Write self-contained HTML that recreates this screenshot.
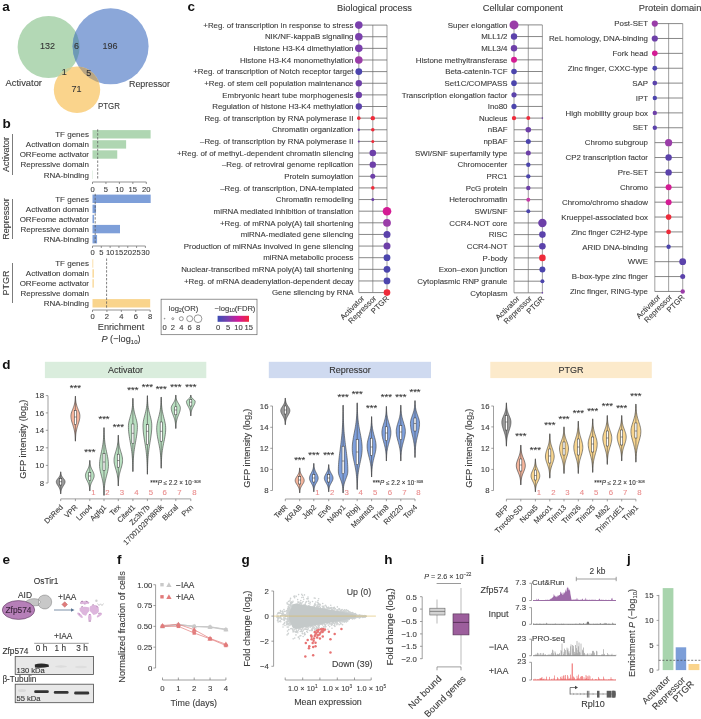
<!DOCTYPE html>
<html><head><meta charset="utf-8"><style>html,body{margin:0;padding:0;background:#fff;}svg{display:block;will-change:transform;} text[fill="#3a3a3a"]{stroke:#3a3a3a;stroke-width:0.1px;} text[fill="#333"]{stroke:#333;stroke-width:0.1px;}</style></head>
<body><svg width="701" height="719" viewBox="0 0 701 719" font-family='"Liberation Sans", sans-serif'>
<rect width="701" height="719" fill="#fff"/>
<text x="2.2" y="10.9" font-size="13.5" text-anchor="start" fill="#111" font-weight="bold">a</text>
<g>
<circle cx="48.6" cy="47" r="31" fill="#b3d8b5" stroke="none" stroke-width="0"/>
<circle cx="110.6" cy="46.3" r="38" fill="#8ba7d9" stroke="none" stroke-width="0" fill-opacity="1"/>
<circle cx="77" cy="89.8" r="23.2" fill="#fad48c" stroke="none" stroke-width="0"/>
<defs><clipPath id="cg"><circle cx="48.6" cy="47" r="31"/></clipPath><clipPath id="cb"><circle cx="110.6" cy="46.3" r="38"/></clipPath></defs>
<circle cx="110.6" cy="46.3" r="38" fill="#6d9ab4" clip-path="url(#cg)"/>
<g clip-path="url(#cb)"><circle cx="77" cy="89.8" r="23.2" fill="#b9a683"/></g>
<g clip-path="url(#cg)"><circle cx="77" cy="89.8" r="23.2" fill="#c9cf9a"/></g>
</g>
<text x="47.5" y="48.6" font-size="9" text-anchor="middle" fill="#333" stroke="#333" stroke-width="0.1">132</text>
<text x="76.4" y="48.6" font-size="9" text-anchor="middle" fill="#333" stroke="#333" stroke-width="0.1">6</text>
<text x="110" y="48.6" font-size="9" text-anchor="middle" fill="#333" stroke="#333" stroke-width="0.1">196</text>
<text x="64.2" y="74.8" font-size="9" text-anchor="middle" fill="#333" stroke="#333" stroke-width="0.1">1</text>
<text x="88.7" y="76.2" font-size="9" text-anchor="middle" fill="#333" stroke="#333" stroke-width="0.1">5</text>
<text x="76.5" y="91.6" font-size="9" text-anchor="middle" fill="#333" stroke="#333" stroke-width="0.1">71</text>
<text x="5.5" y="86" font-size="9.2" text-anchor="start" fill="#3a3a3a" stroke="#3a3a3a" stroke-width="0.1" textLength="36.5" lengthAdjust="spacingAndGlyphs">Activator</text>
<text x="129" y="86.5" font-size="9" text-anchor="start" fill="#3a3a3a" stroke="#3a3a3a" stroke-width="0.1" textLength="41" lengthAdjust="spacingAndGlyphs">Repressor</text>
<text x="98" y="109" font-size="9" text-anchor="start" fill="#3a3a3a" stroke="#3a3a3a" stroke-width="0.1" textLength="22" lengthAdjust="spacingAndGlyphs">PTGR</text>
<text x="2.6" y="128.2" font-size="13.5" text-anchor="start" fill="#111" font-weight="bold">b</text>
<text x="89" y="137.1" font-size="8" text-anchor="end" fill="#3a3a3a" stroke="#3a3a3a" stroke-width="0.1">TF genes</text>
<rect x="92.5" y="130.1" width="58.1" height="8.4" fill="#afd6b2" stroke="none" stroke-width="0"/>
<text x="89" y="147.2" font-size="8" text-anchor="end" fill="#3a3a3a" stroke="#3a3a3a" stroke-width="0.1">Activation domain</text>
<rect x="92.5" y="140.2" width="33.62" height="8.4" fill="#afd6b2" stroke="none" stroke-width="0"/>
<text x="89" y="157.3" font-size="8" text-anchor="end" fill="#3a3a3a" stroke="#3a3a3a" stroke-width="0.1">ORFeome activator</text>
<rect x="92.5" y="150.3" width="24.75" height="8.4" fill="#afd6b2" stroke="none" stroke-width="0"/>
<text x="89" y="167.4" font-size="8" text-anchor="end" fill="#3a3a3a" stroke="#3a3a3a" stroke-width="0.1">Repressive domain</text>
<text x="89" y="177.5" font-size="8" text-anchor="end" fill="#3a3a3a" stroke="#3a3a3a" stroke-width="0.1">RNA-binding</text>
<rect x="92.5" y="170.5" width="0.32" height="8.4" fill="#afd6b2" stroke="none" stroke-width="0"/>
<line x1="97.7" y1="129.3" x2="97.7" y2="179.2" stroke="#555" stroke-width="0.75" stroke-dasharray="2.4,1.5"/>
<line x1="92.5" y1="182" x2="146.3" y2="182" stroke="#666" stroke-width="0.7"/>
<line x1="92.5" y1="182" x2="92.5" y2="184" stroke="#666" stroke-width="0.7"/>
<text x="92.5" y="191.5" font-size="7.6" text-anchor="middle" fill="#3a3a3a" stroke="#3a3a3a" stroke-width="0.1">0</text>
<line x1="105.95" y1="182" x2="105.95" y2="184" stroke="#666" stroke-width="0.7"/>
<text x="105.95" y="191.5" font-size="7.6" text-anchor="middle" fill="#3a3a3a" stroke="#3a3a3a" stroke-width="0.1">5</text>
<line x1="119.4" y1="182" x2="119.4" y2="184" stroke="#666" stroke-width="0.7"/>
<text x="119.4" y="191.5" font-size="7.6" text-anchor="middle" fill="#3a3a3a" stroke="#3a3a3a" stroke-width="0.1">10</text>
<line x1="132.85" y1="182" x2="132.85" y2="184" stroke="#666" stroke-width="0.7"/>
<text x="132.85" y="191.5" font-size="7.6" text-anchor="middle" fill="#3a3a3a" stroke="#3a3a3a" stroke-width="0.1">15</text>
<line x1="146.3" y1="182" x2="146.3" y2="184" stroke="#666" stroke-width="0.7"/>
<text x="146.3" y="191.5" font-size="7.6" text-anchor="middle" fill="#3a3a3a" stroke="#3a3a3a" stroke-width="0.1">20</text>
<line x1="12.5" y1="134" x2="12.5" y2="175" stroke="#444" stroke-width="0.7"/>
<text x="8.6" y="154.5" font-size="9" text-anchor="middle" fill="#3a3a3a" stroke="#3a3a3a" stroke-width="0.1" transform="rotate(-90 8.6 154.5)">Activator</text>
<text x="89" y="201.6" font-size="8" text-anchor="end" fill="#3a3a3a" stroke="#3a3a3a" stroke-width="0.1">TF genes</text>
<rect x="92.5" y="194.6" width="58.18" height="8.4" fill="#7e9fd9" stroke="none" stroke-width="0"/>
<text x="89" y="211.7" font-size="8" text-anchor="end" fill="#3a3a3a" stroke="#3a3a3a" stroke-width="0.1">Activation domain</text>
<rect x="92.5" y="204.7" width="3.53" height="8.4" fill="#7e9fd9" stroke="none" stroke-width="0"/>
<text x="89" y="221.8" font-size="8" text-anchor="end" fill="#3a3a3a" stroke="#3a3a3a" stroke-width="0.1">ORFeome activator</text>
<rect x="92.5" y="214.8" width="1.59" height="8.4" fill="#7e9fd9" stroke="none" stroke-width="0"/>
<text x="89" y="231.9" font-size="8" text-anchor="end" fill="#3a3a3a" stroke="#3a3a3a" stroke-width="0.1">Repressive domain</text>
<rect x="92.5" y="224.9" width="27.5" height="8.4" fill="#7e9fd9" stroke="none" stroke-width="0"/>
<text x="89" y="242" font-size="8" text-anchor="end" fill="#3a3a3a" stroke="#3a3a3a" stroke-width="0.1">RNA-binding</text>
<rect x="92.5" y="235" width="4.58" height="8.4" fill="#7e9fd9" stroke="none" stroke-width="0"/>
<line x1="95.2" y1="193.8" x2="95.2" y2="243.7" stroke="#555" stroke-width="0.75" stroke-dasharray="2.4,1.5"/>
<line x1="92.5" y1="246" x2="145.39" y2="246" stroke="#666" stroke-width="0.7"/>
<line x1="92.5" y1="246" x2="92.5" y2="248" stroke="#666" stroke-width="0.7"/>
<text x="92.5" y="255" font-size="7.6" text-anchor="middle" fill="#3a3a3a" stroke="#3a3a3a" stroke-width="0.1">0</text>
<line x1="101.31" y1="246" x2="101.31" y2="248" stroke="#666" stroke-width="0.7"/>
<text x="101.31" y="255" font-size="7.6" text-anchor="middle" fill="#3a3a3a" stroke="#3a3a3a" stroke-width="0.1">5</text>
<line x1="110.13" y1="246" x2="110.13" y2="248" stroke="#666" stroke-width="0.7"/>
<text x="110.13" y="255" font-size="7.6" text-anchor="middle" fill="#3a3a3a" stroke="#3a3a3a" stroke-width="0.1">10</text>
<line x1="118.94" y1="246" x2="118.94" y2="248" stroke="#666" stroke-width="0.7"/>
<text x="118.94" y="255" font-size="7.6" text-anchor="middle" fill="#3a3a3a" stroke="#3a3a3a" stroke-width="0.1">15</text>
<line x1="127.76" y1="246" x2="127.76" y2="248" stroke="#666" stroke-width="0.7"/>
<text x="127.76" y="255" font-size="7.6" text-anchor="middle" fill="#3a3a3a" stroke="#3a3a3a" stroke-width="0.1">20</text>
<line x1="136.57" y1="246" x2="136.57" y2="248" stroke="#666" stroke-width="0.7"/>
<text x="136.57" y="255" font-size="7.6" text-anchor="middle" fill="#3a3a3a" stroke="#3a3a3a" stroke-width="0.1">25</text>
<line x1="145.39" y1="246" x2="145.39" y2="248" stroke="#666" stroke-width="0.7"/>
<text x="145.39" y="255" font-size="7.6" text-anchor="middle" fill="#3a3a3a" stroke="#3a3a3a" stroke-width="0.1">30</text>
<line x1="12.5" y1="199" x2="12.5" y2="239" stroke="#444" stroke-width="0.7"/>
<text x="8.6" y="219" font-size="9" text-anchor="middle" fill="#3a3a3a" stroke="#3a3a3a" stroke-width="0.1" transform="rotate(-90 8.6 219)">Repressor</text>
<text x="89" y="266.3" font-size="8" text-anchor="end" fill="#3a3a3a" stroke="#3a3a3a" stroke-width="0.1">TF genes</text>
<rect x="92.5" y="259.3" width="0.72" height="8.4" fill="#f9d48c" stroke="none" stroke-width="0"/>
<text x="89" y="276.25" font-size="8" text-anchor="end" fill="#3a3a3a" stroke="#3a3a3a" stroke-width="0.1">Activation domain</text>
<rect x="92.5" y="269.25" width="1.3" height="8.4" fill="#f9d48c" stroke="none" stroke-width="0"/>
<text x="89" y="286.2" font-size="8" text-anchor="end" fill="#3a3a3a" stroke="#3a3a3a" stroke-width="0.1">ORFeome activator</text>
<rect x="92.5" y="279.2" width="1.23" height="8.4" fill="#f9d48c" stroke="none" stroke-width="0"/>
<text x="89" y="296.15" font-size="8" text-anchor="end" fill="#3a3a3a" stroke="#3a3a3a" stroke-width="0.1">Repressive domain</text>
<text x="89" y="306.1" font-size="8" text-anchor="end" fill="#3a3a3a" stroke="#3a3a3a" stroke-width="0.1">RNA-binding</text>
<rect x="92.5" y="299.1" width="57.68" height="8.4" fill="#f9d48c" stroke="none" stroke-width="0"/>
<line x1="106.6" y1="258.5" x2="106.6" y2="307.8" stroke="#555" stroke-width="0.75" stroke-dasharray="2.4,1.5"/>
<line x1="92.5" y1="310" x2="150.18" y2="310" stroke="#666" stroke-width="0.7"/>
<line x1="92.5" y1="310" x2="92.5" y2="312" stroke="#666" stroke-width="0.7"/>
<text x="92.5" y="319" font-size="7.6" text-anchor="middle" fill="#3a3a3a" stroke="#3a3a3a" stroke-width="0.1">0</text>
<line x1="106.92" y1="310" x2="106.92" y2="312" stroke="#666" stroke-width="0.7"/>
<text x="106.92" y="319" font-size="7.6" text-anchor="middle" fill="#3a3a3a" stroke="#3a3a3a" stroke-width="0.1">2</text>
<line x1="121.34" y1="310" x2="121.34" y2="312" stroke="#666" stroke-width="0.7"/>
<text x="121.34" y="319" font-size="7.6" text-anchor="middle" fill="#3a3a3a" stroke="#3a3a3a" stroke-width="0.1">4</text>
<line x1="135.76" y1="310" x2="135.76" y2="312" stroke="#666" stroke-width="0.7"/>
<text x="135.76" y="319" font-size="7.6" text-anchor="middle" fill="#3a3a3a" stroke="#3a3a3a" stroke-width="0.1">6</text>
<line x1="150.18" y1="310" x2="150.18" y2="312" stroke="#666" stroke-width="0.7"/>
<text x="150.18" y="319" font-size="7.6" text-anchor="middle" fill="#3a3a3a" stroke="#3a3a3a" stroke-width="0.1">8</text>
<line x1="12.5" y1="263" x2="12.5" y2="303" stroke="#444" stroke-width="0.7"/>
<text x="8.6" y="283" font-size="9" text-anchor="middle" fill="#3a3a3a" stroke="#3a3a3a" stroke-width="0.1" transform="rotate(-90 8.6 283)">PTGR</text>
<text x="121" y="330.3" font-size="9.2" text-anchor="middle" fill="#3a3a3a" stroke="#3a3a3a" stroke-width="0.1">Enrichment</text>
<text x="121" y="341.8" font-size="9.2" text-anchor="middle" fill="#3a3a3a"><tspan font-style="italic">P</tspan> (−log<tspan font-size="6" dy="2">10</tspan><tspan dy="-2">)</tspan></text>
<text x="187.6" y="11.1" font-size="13.5" text-anchor="start" fill="#111" font-weight="bold">c</text>
<text x="337" y="10.8" font-size="9.3" text-anchor="start" fill="#3a3a3a" stroke="#3a3a3a" stroke-width="0.1">Biological process</text>
<line x1="358.8" y1="25.1" x2="358.8" y2="292.59" stroke="#a8a8a8" stroke-width="1.1"/>
<line x1="372.8" y1="25.1" x2="372.8" y2="292.59" stroke="#a8a8a8" stroke-width="1.1"/>
<line x1="387" y1="25.1" x2="387" y2="292.59" stroke="#a8a8a8" stroke-width="1.1"/>
<line x1="358.8" y1="25.1" x2="387" y2="25.1" stroke="#6a6a6a" stroke-width="0.8"/>
<text x="353.5" y="27.8" font-size="7.9" text-anchor="end" fill="#3a3a3a" stroke="#3a3a3a" stroke-width="0.1">+Reg. of transcription  in response to stress</text>
<line x1="358.8" y1="36.73" x2="387" y2="36.73" stroke="#6a6a6a" stroke-width="0.8"/>
<text x="353.5" y="39.43" font-size="7.9" text-anchor="end" fill="#3a3a3a" stroke="#3a3a3a" stroke-width="0.1">NIK/NF-kappaB signaling</text>
<line x1="358.8" y1="48.36" x2="387" y2="48.36" stroke="#6a6a6a" stroke-width="0.8"/>
<text x="353.5" y="51.06" font-size="7.9" text-anchor="end" fill="#3a3a3a" stroke="#3a3a3a" stroke-width="0.1">Histone H3-K4 dimethylation</text>
<line x1="358.8" y1="59.99" x2="387" y2="59.99" stroke="#6a6a6a" stroke-width="0.8"/>
<text x="353.5" y="62.69" font-size="7.9" text-anchor="end" fill="#3a3a3a" stroke="#3a3a3a" stroke-width="0.1">Histone H3-K4 monomethylation</text>
<line x1="358.8" y1="71.62" x2="387" y2="71.62" stroke="#6a6a6a" stroke-width="0.8"/>
<text x="353.5" y="74.32" font-size="7.9" text-anchor="end" fill="#3a3a3a" stroke="#3a3a3a" stroke-width="0.1">+Reg. of transcription of Notch receptor target</text>
<line x1="358.8" y1="83.25" x2="387" y2="83.25" stroke="#6a6a6a" stroke-width="0.8"/>
<text x="353.5" y="85.95" font-size="7.9" text-anchor="end" fill="#3a3a3a" stroke="#3a3a3a" stroke-width="0.1">+Reg. of stem cell population maintenance</text>
<line x1="358.8" y1="94.88" x2="387" y2="94.88" stroke="#6a6a6a" stroke-width="0.8"/>
<text x="353.5" y="97.58" font-size="7.9" text-anchor="end" fill="#3a3a3a" stroke="#3a3a3a" stroke-width="0.1">Embryonic heart tube morphogenesis</text>
<line x1="358.8" y1="106.51" x2="387" y2="106.51" stroke="#6a6a6a" stroke-width="0.8"/>
<text x="353.5" y="109.21" font-size="7.9" text-anchor="end" fill="#3a3a3a" stroke="#3a3a3a" stroke-width="0.1">Regulation of histone H3-K4 methylation</text>
<line x1="358.8" y1="118.14" x2="387" y2="118.14" stroke="#6a6a6a" stroke-width="0.8"/>
<text x="353.5" y="120.84" font-size="7.9" text-anchor="end" fill="#3a3a3a" stroke="#3a3a3a" stroke-width="0.1">Reg. of transcription by RNA polymerase II</text>
<line x1="358.8" y1="129.77" x2="387" y2="129.77" stroke="#6a6a6a" stroke-width="0.8"/>
<text x="353.5" y="132.47" font-size="7.9" text-anchor="end" fill="#3a3a3a" stroke="#3a3a3a" stroke-width="0.1">Chromatin organization</text>
<line x1="358.8" y1="141.4" x2="387" y2="141.4" stroke="#6a6a6a" stroke-width="0.8"/>
<text x="353.5" y="144.1" font-size="7.9" text-anchor="end" fill="#3a3a3a" stroke="#3a3a3a" stroke-width="0.1">–Reg. of transcription by RNA polymerase II</text>
<line x1="358.8" y1="153.03" x2="387" y2="153.03" stroke="#6a6a6a" stroke-width="0.8"/>
<text x="353.5" y="155.73" font-size="7.9" text-anchor="end" fill="#3a3a3a" stroke="#3a3a3a" stroke-width="0.1">+Reg. of of methyL-dependent chromatin silencing</text>
<line x1="358.8" y1="164.66" x2="387" y2="164.66" stroke="#6a6a6a" stroke-width="0.8"/>
<text x="353.5" y="167.36" font-size="7.9" text-anchor="end" fill="#3a3a3a" stroke="#3a3a3a" stroke-width="0.1">–Reg. of retroviral genome replication</text>
<line x1="358.8" y1="176.29" x2="387" y2="176.29" stroke="#6a6a6a" stroke-width="0.8"/>
<text x="353.5" y="178.99" font-size="7.9" text-anchor="end" fill="#3a3a3a" stroke="#3a3a3a" stroke-width="0.1">Protein sumoylation</text>
<line x1="358.8" y1="187.92" x2="387" y2="187.92" stroke="#6a6a6a" stroke-width="0.8"/>
<text x="353.5" y="190.62" font-size="7.9" text-anchor="end" fill="#3a3a3a" stroke="#3a3a3a" stroke-width="0.1">–Reg. of transcription, DNA-templated</text>
<line x1="358.8" y1="199.55" x2="387" y2="199.55" stroke="#6a6a6a" stroke-width="0.8"/>
<text x="353.5" y="202.25" font-size="7.9" text-anchor="end" fill="#3a3a3a" stroke="#3a3a3a" stroke-width="0.1">Chromatin remodeling</text>
<line x1="358.8" y1="211.18" x2="387" y2="211.18" stroke="#6a6a6a" stroke-width="0.8"/>
<text x="353.5" y="213.88" font-size="7.9" text-anchor="end" fill="#3a3a3a" stroke="#3a3a3a" stroke-width="0.1">miRNA mediated inhibition of translation</text>
<line x1="358.8" y1="222.81" x2="387" y2="222.81" stroke="#6a6a6a" stroke-width="0.8"/>
<text x="353.5" y="225.51" font-size="7.9" text-anchor="end" fill="#3a3a3a" stroke="#3a3a3a" stroke-width="0.1">+Reg. of mRNA poly(A) tail shortening</text>
<line x1="358.8" y1="234.44" x2="387" y2="234.44" stroke="#6a6a6a" stroke-width="0.8"/>
<text x="353.5" y="237.14" font-size="7.9" text-anchor="end" fill="#3a3a3a" stroke="#3a3a3a" stroke-width="0.1">miRNA-mediated gene silencing</text>
<line x1="358.8" y1="246.07" x2="387" y2="246.07" stroke="#6a6a6a" stroke-width="0.8"/>
<text x="353.5" y="248.77" font-size="7.9" text-anchor="end" fill="#3a3a3a" stroke="#3a3a3a" stroke-width="0.1">Production of miRNAs involved in gene silencing</text>
<line x1="358.8" y1="257.7" x2="387" y2="257.7" stroke="#6a6a6a" stroke-width="0.8"/>
<text x="353.5" y="260.4" font-size="7.9" text-anchor="end" fill="#3a3a3a" stroke="#3a3a3a" stroke-width="0.1">miRNA metabolic process</text>
<line x1="358.8" y1="269.33" x2="387" y2="269.33" stroke="#6a6a6a" stroke-width="0.8"/>
<text x="353.5" y="272.03" font-size="7.9" text-anchor="end" fill="#3a3a3a" stroke="#3a3a3a" stroke-width="0.1">Nuclear-transcribed mRNA poly(A) tail shortening</text>
<line x1="358.8" y1="280.96" x2="387" y2="280.96" stroke="#6a6a6a" stroke-width="0.8"/>
<text x="353.5" y="283.66" font-size="7.9" text-anchor="end" fill="#3a3a3a" stroke="#3a3a3a" stroke-width="0.1">+Reg. of mRNA deadenylation-dependent decay</text>
<line x1="358.8" y1="292.59" x2="387" y2="292.59" stroke="#6a6a6a" stroke-width="0.8"/>
<text x="353.5" y="295.29" font-size="7.9" text-anchor="end" fill="#3a3a3a" stroke="#3a3a3a" stroke-width="0.1">Gene silencing by RNA</text>
<circle cx="358.8" cy="25.1" r="3.8" fill="#7a40ad" stroke="none" stroke-width="0"/>
<circle cx="358.8" cy="36.73" r="3.8" fill="#7a40ad" stroke="none" stroke-width="0"/>
<circle cx="358.8" cy="48.36" r="3.8" fill="#7a40ad" stroke="none" stroke-width="0"/>
<circle cx="358.8" cy="59.99" r="3.8" fill="#9a3da8" stroke="none" stroke-width="0"/>
<circle cx="358.8" cy="71.62" r="3.4" fill="#4c45ad" stroke="none" stroke-width="0"/>
<circle cx="358.8" cy="83.25" r="3.2" fill="#6d3fa8" stroke="none" stroke-width="0"/>
<circle cx="358.8" cy="94.88" r="3.2" fill="#6d3fa8" stroke="none" stroke-width="0"/>
<circle cx="358.8" cy="106.51" r="3.2" fill="#5b42ab" stroke="none" stroke-width="0"/>
<circle cx="358.8" cy="118.14" r="1.8" fill="#ee2b3a" stroke="none" stroke-width="0"/>
<circle cx="372.8" cy="118.14" r="2.2" fill="#ee2b3a" stroke="none" stroke-width="0"/>
<circle cx="358.8" cy="129.77" r="1.2" fill="#6d3fa8" stroke="none" stroke-width="0"/>
<circle cx="372.8" cy="129.77" r="1.8" fill="#ee2b3a" stroke="none" stroke-width="0"/>
<circle cx="358.8" cy="141.4" r="1" fill="#6d3fa8" stroke="none" stroke-width="0"/>
<circle cx="372.8" cy="141.4" r="1.5" fill="#ee2b3a" stroke="none" stroke-width="0"/>
<circle cx="372.8" cy="153.03" r="3.3" fill="#6d3fa8" stroke="none" stroke-width="0"/>
<circle cx="372.8" cy="164.66" r="3.2" fill="#6d3fa8" stroke="none" stroke-width="0"/>
<circle cx="372.8" cy="176.29" r="2.5" fill="#6d3fa8" stroke="none" stroke-width="0"/>
<circle cx="372.8" cy="187.92" r="1.8" fill="#ee2b3a" stroke="none" stroke-width="0"/>
<circle cx="372.8" cy="199.55" r="1.5" fill="#6d3fa8" stroke="none" stroke-width="0"/>
<circle cx="387" cy="211.18" r="4.3" fill="#d41c94" stroke="none" stroke-width="0"/>
<circle cx="387" cy="222.81" r="3.9" fill="#9a3da8" stroke="none" stroke-width="0"/>
<circle cx="387" cy="234.44" r="3.5" fill="#5b42ab" stroke="none" stroke-width="0"/>
<circle cx="387" cy="246.07" r="3.5" fill="#6d3fa8" stroke="none" stroke-width="0"/>
<circle cx="387" cy="257.7" r="3.4" fill="#4c45ad" stroke="none" stroke-width="0"/>
<circle cx="387" cy="269.33" r="3.4" fill="#4c45ad" stroke="none" stroke-width="0"/>
<circle cx="387" cy="280.96" r="3.4" fill="#4c45ad" stroke="none" stroke-width="0"/>
<circle cx="387" cy="292.59" r="3.3" fill="#ee2b3a" stroke="none" stroke-width="0"/>
<text x="364.8" y="298.89" font-size="7.8" text-anchor="end" fill="#3a3a3a" stroke="#3a3a3a" stroke-width="0.1" transform="rotate(-45 364.8 298.89)">Activator</text>
<text x="376.8" y="298.89" font-size="7.8" text-anchor="end" fill="#3a3a3a" stroke="#3a3a3a" stroke-width="0.1" transform="rotate(-45 376.8 298.89)">Repressor</text>
<text x="389.4" y="298.89" font-size="7.8" text-anchor="end" fill="#3a3a3a" stroke="#3a3a3a" stroke-width="0.1" transform="rotate(-45 389.4 298.89)">PTGR</text>
<text x="482.7" y="10.8" font-size="9.3" text-anchor="start" fill="#3a3a3a" stroke="#3a3a3a" stroke-width="0.1">Cellular component</text>
<line x1="514" y1="24.9" x2="514" y2="292.85" stroke="#a8a8a8" stroke-width="1.1"/>
<line x1="528.3" y1="24.9" x2="528.3" y2="292.85" stroke="#a8a8a8" stroke-width="1.1"/>
<line x1="542.4" y1="24.9" x2="542.4" y2="292.85" stroke="#a8a8a8" stroke-width="1.1"/>
<line x1="514" y1="24.9" x2="542.4" y2="24.9" stroke="#6a6a6a" stroke-width="0.8"/>
<text x="507.5" y="27.6" font-size="7.9" text-anchor="end" fill="#3a3a3a" stroke="#3a3a3a" stroke-width="0.1">Super elongation</text>
<line x1="514" y1="36.55" x2="542.4" y2="36.55" stroke="#6a6a6a" stroke-width="0.8"/>
<text x="507.5" y="39.25" font-size="7.9" text-anchor="end" fill="#3a3a3a" stroke="#3a3a3a" stroke-width="0.1">MLL1/2</text>
<line x1="514" y1="48.2" x2="542.4" y2="48.2" stroke="#6a6a6a" stroke-width="0.8"/>
<text x="507.5" y="50.9" font-size="7.9" text-anchor="end" fill="#3a3a3a" stroke="#3a3a3a" stroke-width="0.1">MLL3/4</text>
<line x1="514" y1="59.85" x2="542.4" y2="59.85" stroke="#6a6a6a" stroke-width="0.8"/>
<text x="507.5" y="62.55" font-size="7.9" text-anchor="end" fill="#3a3a3a" stroke="#3a3a3a" stroke-width="0.1">Histone methyltransferase</text>
<line x1="514" y1="71.5" x2="542.4" y2="71.5" stroke="#6a6a6a" stroke-width="0.8"/>
<text x="507.5" y="74.2" font-size="7.9" text-anchor="end" fill="#3a3a3a" stroke="#3a3a3a" stroke-width="0.1">Beta-catenin-TCF</text>
<line x1="514" y1="83.15" x2="542.4" y2="83.15" stroke="#6a6a6a" stroke-width="0.8"/>
<text x="507.5" y="85.85" font-size="7.9" text-anchor="end" fill="#3a3a3a" stroke="#3a3a3a" stroke-width="0.1">Set1C/COMPASS</text>
<line x1="514" y1="94.8" x2="542.4" y2="94.8" stroke="#6a6a6a" stroke-width="0.8"/>
<text x="507.5" y="97.5" font-size="7.9" text-anchor="end" fill="#3a3a3a" stroke="#3a3a3a" stroke-width="0.1">Transcription elongation factor</text>
<line x1="514" y1="106.45" x2="542.4" y2="106.45" stroke="#6a6a6a" stroke-width="0.8"/>
<text x="507.5" y="109.15" font-size="7.9" text-anchor="end" fill="#3a3a3a" stroke="#3a3a3a" stroke-width="0.1">Ino80</text>
<line x1="514" y1="118.1" x2="542.4" y2="118.1" stroke="#6a6a6a" stroke-width="0.8"/>
<text x="507.5" y="120.8" font-size="7.9" text-anchor="end" fill="#3a3a3a" stroke="#3a3a3a" stroke-width="0.1">Nucleus</text>
<line x1="514" y1="129.75" x2="542.4" y2="129.75" stroke="#6a6a6a" stroke-width="0.8"/>
<text x="507.5" y="132.45" font-size="7.9" text-anchor="end" fill="#3a3a3a" stroke="#3a3a3a" stroke-width="0.1">nBAF</text>
<line x1="514" y1="141.4" x2="542.4" y2="141.4" stroke="#6a6a6a" stroke-width="0.8"/>
<text x="507.5" y="144.1" font-size="7.9" text-anchor="end" fill="#3a3a3a" stroke="#3a3a3a" stroke-width="0.1">npBAF</text>
<line x1="514" y1="153.05" x2="542.4" y2="153.05" stroke="#6a6a6a" stroke-width="0.8"/>
<text x="507.5" y="155.75" font-size="7.9" text-anchor="end" fill="#3a3a3a" stroke="#3a3a3a" stroke-width="0.1">SWI/SNF superfamily type</text>
<line x1="514" y1="164.7" x2="542.4" y2="164.7" stroke="#6a6a6a" stroke-width="0.8"/>
<text x="507.5" y="167.4" font-size="7.9" text-anchor="end" fill="#3a3a3a" stroke="#3a3a3a" stroke-width="0.1">Chromocenter</text>
<line x1="514" y1="176.35" x2="542.4" y2="176.35" stroke="#6a6a6a" stroke-width="0.8"/>
<text x="507.5" y="179.05" font-size="7.9" text-anchor="end" fill="#3a3a3a" stroke="#3a3a3a" stroke-width="0.1">PRC1</text>
<line x1="514" y1="188" x2="542.4" y2="188" stroke="#6a6a6a" stroke-width="0.8"/>
<text x="507.5" y="190.7" font-size="7.9" text-anchor="end" fill="#3a3a3a" stroke="#3a3a3a" stroke-width="0.1">PcG protein</text>
<line x1="514" y1="199.65" x2="542.4" y2="199.65" stroke="#6a6a6a" stroke-width="0.8"/>
<text x="507.5" y="202.35" font-size="7.9" text-anchor="end" fill="#3a3a3a" stroke="#3a3a3a" stroke-width="0.1">Heterochromatin</text>
<line x1="514" y1="211.3" x2="542.4" y2="211.3" stroke="#6a6a6a" stroke-width="0.8"/>
<text x="507.5" y="214" font-size="7.9" text-anchor="end" fill="#3a3a3a" stroke="#3a3a3a" stroke-width="0.1">SWI/SNF</text>
<line x1="514" y1="222.95" x2="542.4" y2="222.95" stroke="#6a6a6a" stroke-width="0.8"/>
<text x="507.5" y="225.65" font-size="7.9" text-anchor="end" fill="#3a3a3a" stroke="#3a3a3a" stroke-width="0.1">CCR4-NOT core</text>
<line x1="514" y1="234.6" x2="542.4" y2="234.6" stroke="#6a6a6a" stroke-width="0.8"/>
<text x="507.5" y="237.3" font-size="7.9" text-anchor="end" fill="#3a3a3a" stroke="#3a3a3a" stroke-width="0.1">RISC</text>
<line x1="514" y1="246.25" x2="542.4" y2="246.25" stroke="#6a6a6a" stroke-width="0.8"/>
<text x="507.5" y="248.95" font-size="7.9" text-anchor="end" fill="#3a3a3a" stroke="#3a3a3a" stroke-width="0.1">CCR4-NOT</text>
<line x1="514" y1="257.9" x2="542.4" y2="257.9" stroke="#6a6a6a" stroke-width="0.8"/>
<text x="507.5" y="260.6" font-size="7.9" text-anchor="end" fill="#3a3a3a" stroke="#3a3a3a" stroke-width="0.1">P-body</text>
<line x1="514" y1="269.55" x2="542.4" y2="269.55" stroke="#6a6a6a" stroke-width="0.8"/>
<text x="507.5" y="272.25" font-size="7.9" text-anchor="end" fill="#3a3a3a" stroke="#3a3a3a" stroke-width="0.1">Exon–exon junction</text>
<line x1="514" y1="281.2" x2="542.4" y2="281.2" stroke="#6a6a6a" stroke-width="0.8"/>
<text x="507.5" y="283.9" font-size="7.9" text-anchor="end" fill="#3a3a3a" stroke="#3a3a3a" stroke-width="0.1">Cytoplasmic RNP granule</text>
<line x1="514" y1="292.85" x2="542.4" y2="292.85" stroke="#6a6a6a" stroke-width="0.8"/>
<text x="507.5" y="295.55" font-size="7.9" text-anchor="end" fill="#3a3a3a" stroke="#3a3a3a" stroke-width="0.1">Cytoplasm</text>
<circle cx="514" cy="24.9" r="4.5" fill="#9a3da8" stroke="none" stroke-width="0"/>
<circle cx="514" cy="36.55" r="3.2" fill="#5b42ab" stroke="none" stroke-width="0"/>
<circle cx="514" cy="48.2" r="3.2" fill="#6d3fa8" stroke="none" stroke-width="0"/>
<circle cx="514" cy="59.85" r="3" fill="#d41c94" stroke="none" stroke-width="0"/>
<circle cx="514" cy="71.5" r="2.8" fill="#4c45ad" stroke="none" stroke-width="0"/>
<circle cx="514" cy="83.15" r="2.8" fill="#4c45ad" stroke="none" stroke-width="0"/>
<circle cx="514" cy="94.8" r="2.6" fill="#5b42ab" stroke="none" stroke-width="0"/>
<circle cx="514" cy="106.45" r="2.6" fill="#4c45ad" stroke="none" stroke-width="0"/>
<circle cx="514" cy="118.1" r="2.2" fill="#ee2b3a" stroke="none" stroke-width="0"/>
<circle cx="528.3" cy="118.1" r="2" fill="#ee2b3a" stroke="none" stroke-width="0"/>
<circle cx="542.4" cy="118.1" r="0.8" fill="#6d3fa8" stroke="none" stroke-width="0"/>
<circle cx="528.3" cy="129.75" r="2.8" fill="#6d3fa8" stroke="none" stroke-width="0"/>
<circle cx="528.3" cy="141.4" r="2.5" fill="#4c45ad" stroke="none" stroke-width="0"/>
<circle cx="528.3" cy="153.05" r="2.5" fill="#6d3fa8" stroke="none" stroke-width="0"/>
<circle cx="528.3" cy="164.7" r="2.2" fill="#4c45ad" stroke="none" stroke-width="0"/>
<circle cx="528.3" cy="176.35" r="2.2" fill="#4c45ad" stroke="none" stroke-width="0"/>
<circle cx="528.3" cy="188" r="2.2" fill="#6d3fa8" stroke="none" stroke-width="0"/>
<circle cx="528.3" cy="199.65" r="2" fill="#c53aa6" stroke="none" stroke-width="0"/>
<circle cx="528.3" cy="211.3" r="2" fill="#4c45ad" stroke="none" stroke-width="0"/>
<circle cx="542.4" cy="222.95" r="4.2" fill="#6d3fa8" stroke="none" stroke-width="0"/>
<circle cx="542.4" cy="234.6" r="3.3" fill="#5b42ab" stroke="none" stroke-width="0"/>
<circle cx="542.4" cy="246.25" r="3.3" fill="#5b42ab" stroke="none" stroke-width="0"/>
<circle cx="542.4" cy="257.9" r="3.3" fill="#ee2b3a" stroke="none" stroke-width="0"/>
<circle cx="542.4" cy="269.55" r="3" fill="#4c45ad" stroke="none" stroke-width="0"/>
<circle cx="542.4" cy="281.2" r="2" fill="#4c45ad" stroke="none" stroke-width="0"/>
<circle cx="542.4" cy="292.85" r="0.8" fill="#6d3fa8" stroke="none" stroke-width="0"/>
<text x="520" y="299.15" font-size="7.8" text-anchor="end" fill="#3a3a3a" stroke="#3a3a3a" stroke-width="0.1" transform="rotate(-45 520 299.15)">Activator</text>
<text x="532.3" y="299.15" font-size="7.8" text-anchor="end" fill="#3a3a3a" stroke="#3a3a3a" stroke-width="0.1" transform="rotate(-45 532.3 299.15)">Repressor</text>
<text x="544.8" y="299.15" font-size="7.8" text-anchor="end" fill="#3a3a3a" stroke="#3a3a3a" stroke-width="0.1" transform="rotate(-45 544.8 299.15)">PTGR</text>
<text x="638.8" y="10.8" font-size="9.3" text-anchor="start" fill="#3a3a3a" stroke="#3a3a3a" stroke-width="0.1">Protein domain</text>
<line x1="654.8" y1="23.6" x2="654.8" y2="291.44" stroke="#a8a8a8" stroke-width="1.1"/>
<line x1="668.6" y1="23.6" x2="668.6" y2="291.44" stroke="#a8a8a8" stroke-width="1.1"/>
<line x1="682.7" y1="23.6" x2="682.7" y2="291.44" stroke="#a8a8a8" stroke-width="1.1"/>
<line x1="654.8" y1="23.6" x2="682.7" y2="23.6" stroke="#6a6a6a" stroke-width="0.8"/>
<text x="648" y="26.3" font-size="7.9" text-anchor="end" fill="#3a3a3a" stroke="#3a3a3a" stroke-width="0.1">Post-SET</text>
<line x1="654.8" y1="38.48" x2="682.7" y2="38.48" stroke="#6a6a6a" stroke-width="0.8"/>
<text x="648" y="41.18" font-size="7.9" text-anchor="end" fill="#3a3a3a" stroke="#3a3a3a" stroke-width="0.1">ReL homology, DNA-binding</text>
<line x1="654.8" y1="53.36" x2="682.7" y2="53.36" stroke="#6a6a6a" stroke-width="0.8"/>
<text x="648" y="56.06" font-size="7.9" text-anchor="end" fill="#3a3a3a" stroke="#3a3a3a" stroke-width="0.1">Fork head</text>
<line x1="654.8" y1="68.24" x2="682.7" y2="68.24" stroke="#6a6a6a" stroke-width="0.8"/>
<text x="648" y="70.94" font-size="7.9" text-anchor="end" fill="#3a3a3a" stroke="#3a3a3a" stroke-width="0.1">Zinc finger, CXXC-type</text>
<line x1="654.8" y1="83.12" x2="682.7" y2="83.12" stroke="#6a6a6a" stroke-width="0.8"/>
<text x="648" y="85.82" font-size="7.9" text-anchor="end" fill="#3a3a3a" stroke="#3a3a3a" stroke-width="0.1">SAP</text>
<line x1="654.8" y1="98" x2="682.7" y2="98" stroke="#6a6a6a" stroke-width="0.8"/>
<text x="648" y="100.7" font-size="7.9" text-anchor="end" fill="#3a3a3a" stroke="#3a3a3a" stroke-width="0.1">IPT</text>
<line x1="654.8" y1="112.88" x2="682.7" y2="112.88" stroke="#6a6a6a" stroke-width="0.8"/>
<text x="648" y="115.58" font-size="7.9" text-anchor="end" fill="#3a3a3a" stroke="#3a3a3a" stroke-width="0.1">High mobility group box</text>
<line x1="654.8" y1="127.76" x2="682.7" y2="127.76" stroke="#6a6a6a" stroke-width="0.8"/>
<text x="648" y="130.46" font-size="7.9" text-anchor="end" fill="#3a3a3a" stroke="#3a3a3a" stroke-width="0.1">SET</text>
<line x1="654.8" y1="142.64" x2="682.7" y2="142.64" stroke="#6a6a6a" stroke-width="0.8"/>
<text x="648" y="145.34" font-size="7.9" text-anchor="end" fill="#3a3a3a" stroke="#3a3a3a" stroke-width="0.1">Chromo subgroup</text>
<line x1="654.8" y1="157.52" x2="682.7" y2="157.52" stroke="#6a6a6a" stroke-width="0.8"/>
<text x="648" y="160.22" font-size="7.9" text-anchor="end" fill="#3a3a3a" stroke="#3a3a3a" stroke-width="0.1">CP2 transcription factor</text>
<line x1="654.8" y1="172.4" x2="682.7" y2="172.4" stroke="#6a6a6a" stroke-width="0.8"/>
<text x="648" y="175.1" font-size="7.9" text-anchor="end" fill="#3a3a3a" stroke="#3a3a3a" stroke-width="0.1">Pre-SET</text>
<line x1="654.8" y1="187.28" x2="682.7" y2="187.28" stroke="#6a6a6a" stroke-width="0.8"/>
<text x="648" y="189.98" font-size="7.9" text-anchor="end" fill="#3a3a3a" stroke="#3a3a3a" stroke-width="0.1">Chromo</text>
<line x1="654.8" y1="202.16" x2="682.7" y2="202.16" stroke="#6a6a6a" stroke-width="0.8"/>
<text x="648" y="204.86" font-size="7.9" text-anchor="end" fill="#3a3a3a" stroke="#3a3a3a" stroke-width="0.1">Chromo/chromo shadow</text>
<line x1="654.8" y1="217.04" x2="682.7" y2="217.04" stroke="#6a6a6a" stroke-width="0.8"/>
<text x="648" y="219.74" font-size="7.9" text-anchor="end" fill="#3a3a3a" stroke="#3a3a3a" stroke-width="0.1">Krueppel-associated box</text>
<line x1="654.8" y1="231.92" x2="682.7" y2="231.92" stroke="#6a6a6a" stroke-width="0.8"/>
<text x="648" y="234.62" font-size="7.9" text-anchor="end" fill="#3a3a3a" stroke="#3a3a3a" stroke-width="0.1">Zinc finger C2H2-type</text>
<line x1="654.8" y1="246.8" x2="682.7" y2="246.8" stroke="#6a6a6a" stroke-width="0.8"/>
<text x="648" y="249.5" font-size="7.9" text-anchor="end" fill="#3a3a3a" stroke="#3a3a3a" stroke-width="0.1">ARID DNA-binding</text>
<line x1="654.8" y1="261.68" x2="682.7" y2="261.68" stroke="#6a6a6a" stroke-width="0.8"/>
<text x="648" y="264.38" font-size="7.9" text-anchor="end" fill="#3a3a3a" stroke="#3a3a3a" stroke-width="0.1">WWE</text>
<line x1="654.8" y1="276.56" x2="682.7" y2="276.56" stroke="#6a6a6a" stroke-width="0.8"/>
<text x="648" y="279.26" font-size="7.9" text-anchor="end" fill="#3a3a3a" stroke="#3a3a3a" stroke-width="0.1">B-box-type zinc finger</text>
<line x1="654.8" y1="291.44" x2="682.7" y2="291.44" stroke="#6a6a6a" stroke-width="0.8"/>
<text x="648" y="294.14" font-size="7.9" text-anchor="end" fill="#3a3a3a" stroke="#3a3a3a" stroke-width="0.1">Zinc finger, RING-type</text>
<circle cx="654.8" cy="23.6" r="3.1" fill="#9a3da8" stroke="none" stroke-width="0"/>
<circle cx="654.8" cy="38.48" r="3.1" fill="#6d3fa8" stroke="none" stroke-width="0"/>
<circle cx="654.8" cy="53.36" r="2.8" fill="#d41c94" stroke="none" stroke-width="0"/>
<circle cx="654.8" cy="68.24" r="2.4" fill="#4c45ad" stroke="none" stroke-width="0"/>
<circle cx="654.8" cy="83.12" r="2.4" fill="#5b42ab" stroke="none" stroke-width="0"/>
<circle cx="654.8" cy="98" r="2.2" fill="#4c45ad" stroke="none" stroke-width="0"/>
<circle cx="654.8" cy="112.88" r="2.2" fill="#6d3fa8" stroke="none" stroke-width="0"/>
<circle cx="654.8" cy="127.76" r="2.2" fill="#5b42ab" stroke="none" stroke-width="0"/>
<circle cx="668.6" cy="142.64" r="3.6" fill="#9a3da8" stroke="none" stroke-width="0"/>
<circle cx="668.6" cy="157.52" r="3.2" fill="#5b42ab" stroke="none" stroke-width="0"/>
<circle cx="668.6" cy="172.4" r="3.2" fill="#5b42ab" stroke="none" stroke-width="0"/>
<circle cx="668.6" cy="187.28" r="3" fill="#d41c94" stroke="none" stroke-width="0"/>
<circle cx="668.6" cy="202.16" r="3" fill="#d41c94" stroke="none" stroke-width="0"/>
<circle cx="668.6" cy="217.04" r="2.8" fill="#ee2b3a" stroke="none" stroke-width="0"/>
<circle cx="668.6" cy="231.92" r="2.4" fill="#ee2b3a" stroke="none" stroke-width="0"/>
<circle cx="668.6" cy="246.8" r="2.2" fill="#4c45ad" stroke="none" stroke-width="0"/>
<circle cx="682.7" cy="261.68" r="3.4" fill="#5b42ab" stroke="none" stroke-width="0"/>
<circle cx="682.7" cy="276.56" r="2.5" fill="#5b42ab" stroke="none" stroke-width="0"/>
<circle cx="682.7" cy="291.44" r="2.2" fill="#9a3da8" stroke="none" stroke-width="0"/>
<text x="660.8" y="297.74" font-size="7.8" text-anchor="end" fill="#3a3a3a" stroke="#3a3a3a" stroke-width="0.1" transform="rotate(-45 660.8 297.74)">Activator</text>
<text x="672.6" y="297.74" font-size="7.8" text-anchor="end" fill="#3a3a3a" stroke="#3a3a3a" stroke-width="0.1" transform="rotate(-45 672.6 297.74)">Repressor</text>
<text x="685.1" y="297.74" font-size="7.8" text-anchor="end" fill="#3a3a3a" stroke="#3a3a3a" stroke-width="0.1" transform="rotate(-45 685.1 297.74)">PTGR</text>
<rect x="161.1" y="299.2" width="95.9" height="35.5" fill="white" stroke="#666" stroke-width="0.7"/>
<text x="183.5" y="310.7" font-size="7.6" text-anchor="middle" fill="#3a3a3a">log<tspan font-size="5" dy="1.5">2</tspan><tspan dy="-1.5">(OR)</tspan></text>
<circle cx="164.6" cy="318.7" r="0.4" fill="white" stroke="#555" stroke-width="0.6"/>
<text x="164.6" y="329.5" font-size="7.6" text-anchor="middle" fill="#3a3a3a" stroke="#3a3a3a" stroke-width="0.1">0</text>
<circle cx="172.8" cy="318.7" r="1" fill="white" stroke="#555" stroke-width="0.6"/>
<text x="172.8" y="329.5" font-size="7.6" text-anchor="middle" fill="#3a3a3a" stroke="#3a3a3a" stroke-width="0.1">2</text>
<circle cx="181.3" cy="318.7" r="2" fill="white" stroke="#555" stroke-width="0.6"/>
<text x="181.3" y="329.5" font-size="7.6" text-anchor="middle" fill="#3a3a3a" stroke="#3a3a3a" stroke-width="0.1">4</text>
<circle cx="189.7" cy="318.7" r="3" fill="white" stroke="#555" stroke-width="0.6"/>
<text x="189.7" y="329.5" font-size="7.6" text-anchor="middle" fill="#3a3a3a" stroke="#3a3a3a" stroke-width="0.1">6</text>
<circle cx="198" cy="318.7" r="3.9" fill="white" stroke="#555" stroke-width="0.6"/>
<text x="198" y="329.5" font-size="7.6" text-anchor="middle" fill="#3a3a3a" stroke="#3a3a3a" stroke-width="0.1">8</text>
<text x="235" y="310.7" font-size="7.6" text-anchor="middle" fill="#3a3a3a">−log<tspan font-size="5" dy="1.5">10</tspan><tspan dy="-1.5">(FDR)</tspan></text>
<defs><linearGradient id="fdr" x1="0" x2="1" y1="0" y2="0"><stop offset="0" stop-color="#3d4db4"/><stop offset="0.33" stop-color="#7a3fae"/><stop offset="0.66" stop-color="#d21a98"/><stop offset="1" stop-color="#f2273a"/></linearGradient></defs>
<rect x="217.6" y="315.8" width="31.4" height="6" fill="url(#fdr)" stroke="none" stroke-width="0"/>
<text x="218" y="329.5" font-size="7.6" text-anchor="middle" fill="#3a3a3a" stroke="#3a3a3a" stroke-width="0.1">0</text>
<text x="228" y="329.5" font-size="7.6" text-anchor="middle" fill="#3a3a3a" stroke="#3a3a3a" stroke-width="0.1">5</text>
<text x="238.5" y="329.5" font-size="7.6" text-anchor="middle" fill="#3a3a3a" stroke="#3a3a3a" stroke-width="0.1">10</text>
<text x="248.8" y="329.5" font-size="7.6" text-anchor="middle" fill="#3a3a3a" stroke="#3a3a3a" stroke-width="0.1">15</text>
<text x="2.2" y="368.7" font-size="13.5" text-anchor="start" fill="#111" font-weight="bold">d</text>
<rect x="44.9" y="361.8" width="161.4" height="16.3" fill="#daeddd" stroke="none" stroke-width="0"/>
<text x="125.6" y="373.3" font-size="9" text-anchor="middle" fill="#333" stroke="#333" stroke-width="0.1">Activator</text>
<line x1="48" y1="395.6" x2="48" y2="483" stroke="#777" stroke-width="0.7"/>
<line x1="45.8" y1="395.6" x2="48" y2="395.6" stroke="#777" stroke-width="0.7"/>
<text x="44" y="398.4" font-size="7.8" text-anchor="end" fill="#3a3a3a" stroke="#3a3a3a" stroke-width="0.1">18</text>
<line x1="45.8" y1="412.9" x2="48" y2="412.9" stroke="#777" stroke-width="0.7"/>
<text x="44" y="415.7" font-size="7.8" text-anchor="end" fill="#3a3a3a" stroke="#3a3a3a" stroke-width="0.1">16</text>
<line x1="45.8" y1="430.3" x2="48" y2="430.3" stroke="#777" stroke-width="0.7"/>
<text x="44" y="433.1" font-size="7.8" text-anchor="end" fill="#3a3a3a" stroke="#3a3a3a" stroke-width="0.1">14</text>
<line x1="45.8" y1="447.8" x2="48" y2="447.8" stroke="#777" stroke-width="0.7"/>
<text x="44" y="450.6" font-size="7.8" text-anchor="end" fill="#3a3a3a" stroke="#3a3a3a" stroke-width="0.1">12</text>
<line x1="45.8" y1="465.4" x2="48" y2="465.4" stroke="#777" stroke-width="0.7"/>
<text x="44" y="468.2" font-size="7.8" text-anchor="end" fill="#3a3a3a" stroke="#3a3a3a" stroke-width="0.1">10</text>
<line x1="45.8" y1="483" x2="48" y2="483" stroke="#777" stroke-width="0.7"/>
<text x="44" y="485.8" font-size="7.8" text-anchor="end" fill="#3a3a3a" stroke="#3a3a3a" stroke-width="0.1">8</text>
<text x="26" y="439.3" font-size="9.2" text-anchor="middle" fill="#3a3a3a" transform="rotate(-90 26 439.3)">GFP intensity (log<tspan font-size="5.6" dy="1.8">2</tspan><tspan dy="-1.8">)</tspan></text>
<path d="M60.75,471.8 L60.79,472.36 L60.84,472.91 L60.91,473.47 L61.01,474.02 L61.15,474.57 L61.33,475.13 L61.56,475.69 L61.84,476.24 L62.18,476.8 L62.57,477.35 L62.99,477.91 L63.42,478.46 L63.86,479.01 L64.26,479.57 L64.61,480.12 L64.87,480.68 L65.03,481.24 L65.07,481.79 L65.02,482.35 L64.89,482.9 L64.69,483.45 L64.44,484.01 L64.14,484.56 L63.81,485.12 L63.46,485.68 L63.1,486.23 L62.76,486.79 L62.43,487.34 L62.13,487.89 L61.86,488.45 L61.62,489 L61.42,489.56 L61.25,490.12 L61.12,490.67 L61.01,491.23 L60.93,491.78 L60.86,492.33 L60.81,492.89 L60.78,493.44 L60.75,494 L60.65,494 L60.62,493.44 L60.59,492.89 L60.54,492.33 L60.47,491.78 L60.39,491.23 L60.28,490.67 L60.15,490.12 L59.98,489.56 L59.78,489 L59.54,488.45 L59.27,487.89 L58.97,487.34 L58.64,486.79 L58.3,486.23 L57.94,485.68 L57.59,485.12 L57.26,484.56 L56.96,484.01 L56.71,483.45 L56.51,482.9 L56.38,482.35 L56.33,481.79 L56.37,481.24 L56.53,480.68 L56.79,480.12 L57.14,479.57 L57.54,479.01 L57.98,478.46 L58.41,477.91 L58.83,477.35 L59.22,476.8 L59.56,476.24 L59.84,475.69 L60.07,475.13 L60.25,474.57 L60.39,474.02 L60.49,473.47 L60.56,472.91 L60.61,472.36 L60.65,471.8Z" fill="#999999" stroke="#3d3d3d" stroke-width="0.6" stroke-linejoin="round"/>
<line x1="60.7" y1="472.3" x2="60.7" y2="493.5" stroke="#4a4a4a" stroke-width="0.6"/>
<rect x="59.65" y="478.5" width="2.1" height="6.5" fill="white" stroke="#333" stroke-width="0.5"/>
<line x1="59.65" y1="481.7" x2="61.75" y2="481.7" stroke="#333" stroke-width="0.5"/>
<path d="M75.45,396.1 L75.49,397.23 L75.54,398.36 L75.62,399.48 L75.72,400.61 L75.87,401.74 L76.06,402.87 L76.3,403.99 L76.6,405.12 L76.96,406.25 L77.37,407.38 L77.81,408.5 L78.26,409.63 L78.71,410.76 L79.13,411.88 L79.47,413.01 L79.73,414.14 L79.87,415.27 L79.9,416.39 L79.83,417.52 L79.69,418.65 L79.48,419.78 L79.21,420.91 L78.9,422.03 L78.55,423.16 L78.19,424.29 L77.83,425.42 L77.48,426.54 L77.15,427.67 L76.84,428.8 L76.57,429.93 L76.33,431.05 L76.13,432.18 L75.96,433.31 L75.82,434.44 L75.72,435.56 L75.63,436.69 L75.57,437.82 L75.52,438.94 L75.48,440.07 L75.45,441.2 L75.35,441.2 L75.32,440.07 L75.28,438.94 L75.23,437.82 L75.17,436.69 L75.08,435.56 L74.98,434.44 L74.84,433.31 L74.67,432.18 L74.47,431.05 L74.23,429.93 L73.96,428.8 L73.65,427.67 L73.32,426.54 L72.97,425.42 L72.61,424.29 L72.25,423.16 L71.9,422.03 L71.59,420.91 L71.32,419.78 L71.11,418.65 L70.97,417.52 L70.9,416.39 L70.93,415.27 L71.07,414.14 L71.33,413.01 L71.67,411.88 L72.09,410.76 L72.54,409.63 L72.99,408.5 L73.43,407.38 L73.84,406.25 L74.2,405.12 L74.5,403.99 L74.74,402.87 L74.93,401.74 L75.08,400.61 L75.18,399.48 L75.26,398.36 L75.31,397.23 L75.35,396.1Z" fill="#f5b59c" stroke="#3d3d3d" stroke-width="0.6" stroke-linejoin="round"/>
<line x1="75.4" y1="396.6" x2="75.4" y2="440.7" stroke="#4a4a4a" stroke-width="0.6"/>
<rect x="74.35" y="410.5" width="2.1" height="13.9" fill="white" stroke="#333" stroke-width="0.5"/>
<line x1="74.35" y1="417" x2="76.45" y2="417" stroke="#333" stroke-width="0.5"/>
<text x="75.4" y="390.9" font-size="9.5" text-anchor="middle" fill="#333" stroke="#333" stroke-width="0.1">***</text>
<path d="M89.85,460.3 L89.88,461.07 L89.92,461.84 L89.98,462.6 L90.06,463.37 L90.17,464.14 L90.31,464.91 L90.48,465.67 L90.7,466.44 L90.96,467.21 L91.26,467.98 L91.6,468.74 L91.97,469.51 L92.36,470.28 L92.76,471.05 L93.14,471.81 L93.48,472.58 L93.77,473.35 L93.99,474.12 L94.13,474.88 L94.17,475.65 L94.12,476.42 L93.97,477.19 L93.74,477.95 L93.45,478.72 L93.1,479.49 L92.72,480.25 L92.33,481.02 L91.94,481.79 L91.58,482.56 L91.24,483.32 L90.94,484.09 L90.69,484.86 L90.47,485.63 L90.3,486.39 L90.16,487.16 L90.06,487.93 L89.98,488.7 L89.92,489.46 L89.88,490.23 L89.85,491 L89.75,491 L89.72,490.23 L89.68,489.46 L89.62,488.7 L89.54,487.93 L89.44,487.16 L89.3,486.39 L89.13,485.63 L88.91,484.86 L88.66,484.09 L88.36,483.32 L88.02,482.56 L87.66,481.79 L87.27,481.02 L86.88,480.25 L86.5,479.49 L86.15,478.72 L85.86,477.95 L85.63,477.19 L85.48,476.42 L85.43,475.65 L85.47,474.88 L85.61,474.12 L85.83,473.35 L86.12,472.58 L86.46,471.81 L86.84,471.05 L87.24,470.28 L87.63,469.51 L88,468.74 L88.34,467.98 L88.64,467.21 L88.9,466.44 L89.12,465.67 L89.29,464.91 L89.43,464.14 L89.54,463.37 L89.62,462.6 L89.68,461.84 L89.72,461.07 L89.75,460.3Z" fill="#b9e0c1" stroke="#3d3d3d" stroke-width="0.6" stroke-linejoin="round"/>
<line x1="89.8" y1="460.8" x2="89.8" y2="490.5" stroke="#4a4a4a" stroke-width="0.6"/>
<rect x="88.75" y="472.6" width="2.1" height="7.6" fill="white" stroke="#333" stroke-width="0.5"/>
<line x1="88.75" y1="476" x2="90.85" y2="476" stroke="#333" stroke-width="0.5"/>
<text x="89.8" y="454.8" font-size="9.5" text-anchor="middle" fill="#333" stroke="#333" stroke-width="0.1">***</text>
<path d="M104.05,427.5 L104.08,429.2 L104.12,430.9 L104.17,432.6 L104.23,434.3 L104.32,436 L104.43,437.7 L104.57,439.4 L104.74,441.1 L104.95,442.8 L105.2,444.5 L105.47,446.2 L105.78,447.9 L106.12,449.6 L106.48,451.3 L106.84,453 L107.2,454.7 L107.54,456.4 L107.85,458.1 L108.1,459.8 L108.3,461.5 L108.42,463.2 L108.46,464.9 L108.41,466.6 L108.24,468.3 L107.97,470 L107.61,471.7 L107.2,473.4 L106.75,475.1 L106.31,476.8 L105.88,478.5 L105.49,480.2 L105.15,481.9 L104.87,483.6 L104.63,485.3 L104.45,487 L104.31,488.7 L104.21,490.4 L104.14,492.1 L104.09,493.8 L104.05,495.5 L103.95,495.5 L103.91,493.8 L103.86,492.1 L103.79,490.4 L103.69,488.7 L103.55,487 L103.37,485.3 L103.13,483.6 L102.85,481.9 L102.51,480.2 L102.12,478.5 L101.69,476.8 L101.25,475.1 L100.8,473.4 L100.39,471.7 L100.03,470 L99.76,468.3 L99.59,466.6 L99.54,464.9 L99.58,463.2 L99.7,461.5 L99.9,459.8 L100.15,458.1 L100.46,456.4 L100.8,454.7 L101.16,453 L101.52,451.3 L101.88,449.6 L102.22,447.9 L102.53,446.2 L102.8,444.5 L103.05,442.8 L103.26,441.1 L103.43,439.4 L103.57,437.7 L103.68,436 L103.77,434.3 L103.83,432.6 L103.88,430.9 L103.92,429.2 L103.95,427.5Z" fill="#b9e0c1" stroke="#3d3d3d" stroke-width="0.6" stroke-linejoin="round"/>
<line x1="104" y1="428" x2="104" y2="495" stroke="#4a4a4a" stroke-width="0.6"/>
<rect x="102.95" y="453.5" width="2.1" height="16.8" fill="white" stroke="#333" stroke-width="0.5"/>
<line x1="102.95" y1="462" x2="105.05" y2="462" stroke="#333" stroke-width="0.5"/>
<text x="104" y="422" font-size="9.5" text-anchor="middle" fill="#333" stroke="#333" stroke-width="0.1">***</text>
<path d="M118.35,435.1 L118.38,436.37 L118.42,437.65 L118.48,438.92 L118.56,440.19 L118.66,441.46 L118.8,442.74 L118.98,444.01 L119.19,445.28 L119.45,446.55 L119.75,447.83 L120.09,449.1 L120.46,450.37 L120.84,451.64 L121.23,452.92 L121.6,454.19 L121.93,455.46 L122.21,456.73 L122.42,458 L122.54,459.28 L122.57,460.55 L122.51,461.82 L122.36,463.1 L122.13,464.37 L121.83,465.64 L121.49,466.91 L121.12,468.19 L120.74,469.46 L120.37,470.73 L120.01,472 L119.69,473.27 L119.4,474.55 L119.16,475.82 L118.95,477.09 L118.78,478.37 L118.65,479.64 L118.55,480.91 L118.47,482.18 L118.42,483.45 L118.38,484.73 L118.35,486 L118.25,486 L118.22,484.73 L118.18,483.45 L118.13,482.18 L118.05,480.91 L117.95,479.64 L117.82,478.37 L117.65,477.09 L117.44,475.82 L117.2,474.55 L116.91,473.27 L116.59,472 L116.23,470.73 L115.86,469.46 L115.48,468.19 L115.11,466.91 L114.77,465.64 L114.47,464.37 L114.24,463.1 L114.09,461.82 L114.03,460.55 L114.06,459.28 L114.18,458 L114.39,456.73 L114.67,455.46 L115,454.19 L115.37,452.92 L115.76,451.64 L116.14,450.37 L116.51,449.1 L116.85,447.83 L117.15,446.55 L117.41,445.28 L117.62,444.01 L117.8,442.74 L117.94,441.46 L118.04,440.19 L118.12,438.92 L118.18,437.65 L118.22,436.37 L118.25,435.1Z" fill="#b9e0c1" stroke="#3d3d3d" stroke-width="0.6" stroke-linejoin="round"/>
<line x1="118.3" y1="435.6" x2="118.3" y2="485.5" stroke="#4a4a4a" stroke-width="0.6"/>
<rect x="117.25" y="454.2" width="2.1" height="13" fill="white" stroke="#333" stroke-width="0.5"/>
<line x1="117.25" y1="460.5" x2="119.35" y2="460.5" stroke="#333" stroke-width="0.5"/>
<text x="118.3" y="430" font-size="9.5" text-anchor="middle" fill="#333" stroke="#333" stroke-width="0.1">***</text>
<path d="M132.95,398.2 L133,400.04 L133.06,401.88 L133.16,403.71 L133.3,405.55 L133.5,407.39 L133.77,409.22 L134.11,411.06 L134.53,412.9 L135,414.74 L135.52,416.57 L136.04,418.41 L136.53,420.25 L136.94,422.09 L137.24,423.93 L137.39,425.76 L137.39,427.6 L137.32,429.44 L137.18,431.27 L136.99,433.11 L136.76,434.95 L136.48,436.79 L136.18,438.62 L135.85,440.46 L135.53,442.3 L135.2,444.14 L134.88,445.97 L134.59,447.81 L134.32,449.65 L134.07,451.49 L133.85,453.32 L133.66,455.16 L133.5,457 L133.37,458.84 L133.26,460.68 L133.17,462.51 L133.1,464.35 L133.05,466.19 L133.01,468.02 L132.98,469.86 L132.95,471.7 L132.85,471.7 L132.82,469.86 L132.79,468.02 L132.75,466.19 L132.7,464.35 L132.63,462.51 L132.54,460.68 L132.43,458.84 L132.3,457 L132.14,455.16 L131.95,453.32 L131.73,451.49 L131.48,449.65 L131.21,447.81 L130.92,445.97 L130.6,444.14 L130.27,442.3 L129.95,440.46 L129.62,438.62 L129.32,436.79 L129.04,434.95 L128.81,433.11 L128.62,431.27 L128.48,429.44 L128.41,427.6 L128.41,425.76 L128.56,423.93 L128.86,422.09 L129.27,420.25 L129.76,418.41 L130.28,416.57 L130.8,414.74 L131.27,412.9 L131.69,411.06 L132.03,409.22 L132.3,407.39 L132.5,405.55 L132.64,403.71 L132.74,401.88 L132.8,400.04 L132.85,398.2Z" fill="#b9e0c1" stroke="#3d3d3d" stroke-width="0.6" stroke-linejoin="round"/>
<line x1="132.9" y1="398.7" x2="132.9" y2="471.2" stroke="#4a4a4a" stroke-width="0.6"/>
<rect x="131.85" y="424" width="2.1" height="19.2" fill="white" stroke="#333" stroke-width="0.5"/>
<line x1="131.85" y1="433.3" x2="133.95" y2="433.3" stroke="#333" stroke-width="0.5"/>
<text x="132.9" y="393.4" font-size="9.5" text-anchor="middle" fill="#333" stroke="#333" stroke-width="0.1">***</text>
<path d="M147.45,395.6 L147.49,397.57 L147.56,399.54 L147.66,401.5 L147.8,403.47 L148.01,405.44 L148.28,407.41 L148.62,409.37 L149.04,411.34 L149.52,413.31 L150.03,415.28 L150.55,417.24 L151.03,419.21 L151.42,421.18 L151.69,423.15 L151.81,425.11 L151.79,427.08 L151.71,429.05 L151.57,431.02 L151.38,432.98 L151.14,434.95 L150.86,436.92 L150.56,438.88 L150.25,440.85 L149.93,442.82 L149.61,444.79 L149.31,446.75 L149.02,448.72 L148.76,450.69 L148.53,452.66 L148.32,454.62 L148.14,456.59 L147.98,458.56 L147.85,460.53 L147.75,462.5 L147.67,464.46 L147.6,466.43 L147.55,468.4 L147.51,470.37 L147.48,472.33 L147.45,474.3 L147.35,474.3 L147.32,472.33 L147.29,470.37 L147.25,468.4 L147.2,466.43 L147.13,464.46 L147.05,462.5 L146.95,460.53 L146.82,458.56 L146.66,456.59 L146.48,454.62 L146.27,452.66 L146.04,450.69 L145.78,448.72 L145.49,446.75 L145.19,444.79 L144.87,442.82 L144.55,440.85 L144.24,438.88 L143.94,436.92 L143.66,434.95 L143.42,432.98 L143.23,431.02 L143.09,429.05 L143.01,427.08 L142.99,425.11 L143.11,423.15 L143.38,421.18 L143.77,419.21 L144.25,417.24 L144.77,415.28 L145.28,413.31 L145.76,411.34 L146.18,409.37 L146.52,407.41 L146.79,405.44 L147,403.47 L147.14,401.5 L147.24,399.54 L147.31,397.57 L147.35,395.6Z" fill="#b9e0c1" stroke="#3d3d3d" stroke-width="0.6" stroke-linejoin="round"/>
<line x1="147.4" y1="396.1" x2="147.4" y2="473.8" stroke="#4a4a4a" stroke-width="0.6"/>
<rect x="146.35" y="424.7" width="2.1" height="19.8" fill="white" stroke="#333" stroke-width="0.5"/>
<line x1="146.35" y1="431.3" x2="148.45" y2="431.3" stroke="#333" stroke-width="0.5"/>
<text x="147.4" y="389.5" font-size="9.5" text-anchor="middle" fill="#333" stroke="#333" stroke-width="0.1">***</text>
<path d="M161.25,397 L161.29,398.78 L161.34,400.56 L161.42,402.35 L161.52,404.13 L161.67,405.91 L161.86,407.69 L162.1,409.48 L162.4,411.26 L162.76,413.04 L163.16,414.82 L163.6,416.61 L164.06,418.39 L164.51,420.17 L164.92,421.95 L165.27,423.74 L165.53,425.52 L165.67,427.3 L165.7,429.08 L165.63,430.87 L165.49,432.65 L165.28,434.43 L165.01,436.22 L164.7,438 L164.36,439.78 L164,441.56 L163.64,443.35 L163.28,445.13 L162.95,446.91 L162.65,448.69 L162.37,450.48 L162.13,452.26 L161.93,454.04 L161.76,455.82 L161.63,457.61 L161.52,459.39 L161.43,461.17 L161.37,462.95 L161.32,464.74 L161.28,466.52 L161.25,468.3 L161.15,468.3 L161.12,466.52 L161.08,464.74 L161.03,462.95 L160.97,461.17 L160.88,459.39 L160.77,457.61 L160.64,455.82 L160.47,454.04 L160.27,452.26 L160.03,450.48 L159.75,448.69 L159.45,446.91 L159.12,445.13 L158.76,443.35 L158.4,441.56 L158.04,439.78 L157.7,438 L157.39,436.22 L157.12,434.43 L156.91,432.65 L156.77,430.87 L156.7,429.08 L156.73,427.3 L156.87,425.52 L157.13,423.74 L157.48,421.95 L157.89,420.17 L158.34,418.39 L158.8,416.61 L159.24,414.82 L159.64,413.04 L160,411.26 L160.3,409.48 L160.54,407.69 L160.73,405.91 L160.88,404.13 L160.98,402.35 L161.06,400.56 L161.11,398.78 L161.15,397Z" fill="#b9e0c1" stroke="#3d3d3d" stroke-width="0.6" stroke-linejoin="round"/>
<line x1="161.2" y1="397.5" x2="161.2" y2="467.8" stroke="#4a4a4a" stroke-width="0.6"/>
<rect x="160.15" y="422" width="2.1" height="19.2" fill="white" stroke="#333" stroke-width="0.5"/>
<line x1="160.15" y1="431.3" x2="162.25" y2="431.3" stroke="#333" stroke-width="0.5"/>
<text x="161.2" y="391.5" font-size="9.5" text-anchor="middle" fill="#333" stroke="#333" stroke-width="0.1">***</text>
<path d="M175.86,395 L175.9,395.84 L175.96,396.68 L176.06,397.52 L176.2,398.36 L176.4,399.2 L176.67,400.04 L177.01,400.88 L177.43,401.72 L177.91,402.56 L178.43,403.4 L178.95,404.24 L179.45,405.08 L179.87,405.92 L180.18,406.76 L180.34,407.6 L180.35,408.44 L180.28,409.28 L180.15,410.12 L179.96,410.96 L179.72,411.8 L179.45,412.64 L179.14,413.48 L178.81,414.32 L178.48,415.16 L178.14,416 L177.82,416.84 L177.52,417.68 L177.24,418.52 L176.99,419.36 L176.77,420.2 L176.58,421.04 L176.42,421.88 L176.28,422.72 L176.17,423.56 L176.08,424.4 L176.01,425.24 L175.95,426.08 L175.91,426.92 L175.88,427.76 L175.86,428.6 L175.74,428.6 L175.72,427.76 L175.69,426.92 L175.65,426.08 L175.59,425.24 L175.52,424.4 L175.43,423.56 L175.32,422.72 L175.18,421.88 L175.02,421.04 L174.83,420.2 L174.61,419.36 L174.36,418.52 L174.08,417.68 L173.78,416.84 L173.46,416 L173.12,415.16 L172.79,414.32 L172.46,413.48 L172.15,412.64 L171.88,411.8 L171.64,410.96 L171.45,410.12 L171.32,409.28 L171.25,408.44 L171.26,407.6 L171.42,406.76 L171.73,405.92 L172.15,405.08 L172.65,404.24 L173.17,403.4 L173.69,402.56 L174.17,401.72 L174.59,400.88 L174.93,400.04 L175.2,399.2 L175.4,398.36 L175.54,397.52 L175.64,396.68 L175.7,395.84 L175.74,395Z" fill="#b9e0c1" stroke="#3d3d3d" stroke-width="0.6" stroke-linejoin="round"/>
<line x1="175.8" y1="395.5" x2="175.8" y2="428.1" stroke="#4a4a4a" stroke-width="0.6"/>
<rect x="174.75" y="406.8" width="2.1" height="8" fill="white" stroke="#333" stroke-width="0.5"/>
<line x1="174.75" y1="410" x2="176.85" y2="410" stroke="#333" stroke-width="0.5"/>
<text x="175.8" y="389.5" font-size="9.5" text-anchor="middle" fill="#333" stroke="#333" stroke-width="0.1">***</text>
<path d="M190.85,395 L190.91,395.52 L191,396.05 L191.15,396.57 L191.38,397.1 L191.71,397.62 L192.15,398.15 L192.7,398.68 L193.32,399.2 L193.95,399.73 L194.51,400.25 L194.94,400.77 L195.15,401.3 L195.16,401.82 L195.1,402.35 L195,402.88 L194.85,403.4 L194.66,403.93 L194.44,404.45 L194.19,404.98 L193.92,405.5 L193.64,406.02 L193.36,406.55 L193.08,407.07 L192.8,407.6 L192.54,408.12 L192.3,408.65 L192.07,409.18 L191.87,409.7 L191.69,410.23 L191.53,410.75 L191.39,411.27 L191.27,411.8 L191.17,412.32 L191.09,412.85 L191.03,413.38 L190.97,413.9 L190.93,414.43 L190.9,414.95 L190.87,415.48 L190.85,416 L190.75,416 L190.73,415.48 L190.7,414.95 L190.67,414.43 L190.63,413.9 L190.57,413.38 L190.51,412.85 L190.43,412.32 L190.33,411.8 L190.21,411.27 L190.07,410.75 L189.91,410.23 L189.73,409.7 L189.53,409.18 L189.3,408.65 L189.06,408.12 L188.8,407.6 L188.52,407.07 L188.24,406.55 L187.96,406.02 L187.68,405.5 L187.41,404.98 L187.16,404.45 L186.94,403.93 L186.75,403.4 L186.6,402.88 L186.5,402.35 L186.44,401.82 L186.45,401.3 L186.66,400.77 L187.09,400.25 L187.65,399.73 L188.28,399.2 L188.9,398.68 L189.45,398.15 L189.89,397.62 L190.22,397.1 L190.45,396.57 L190.6,396.05 L190.69,395.52 L190.75,395Z" fill="#b9e0c1" stroke="#3d3d3d" stroke-width="0.6" stroke-linejoin="round"/>
<line x1="190.8" y1="395.5" x2="190.8" y2="415.5" stroke="#4a4a4a" stroke-width="0.6"/>
<rect x="189.75" y="399.5" width="2.1" height="6.5" fill="white" stroke="#333" stroke-width="0.5"/>
<line x1="189.75" y1="402.2" x2="191.85" y2="402.2" stroke="#333" stroke-width="0.5"/>
<text x="190.8" y="389.5" font-size="9.5" text-anchor="middle" fill="#333" stroke="#333" stroke-width="0.1">***</text>
<line x1="60.7" y1="498.9" x2="190.8" y2="498.9" stroke="#777" stroke-width="0.7"/>
<line x1="60.7" y1="498.9" x2="60.7" y2="501.1" stroke="#777" stroke-width="0.7"/>
<line x1="75.4" y1="498.9" x2="75.4" y2="501.1" stroke="#777" stroke-width="0.7"/>
<line x1="89.8" y1="498.9" x2="89.8" y2="501.1" stroke="#777" stroke-width="0.7"/>
<line x1="104" y1="498.9" x2="104" y2="501.1" stroke="#777" stroke-width="0.7"/>
<line x1="118.3" y1="498.9" x2="118.3" y2="501.1" stroke="#777" stroke-width="0.7"/>
<line x1="132.9" y1="498.9" x2="132.9" y2="501.1" stroke="#777" stroke-width="0.7"/>
<line x1="147.4" y1="498.9" x2="147.4" y2="501.1" stroke="#777" stroke-width="0.7"/>
<line x1="161.2" y1="498.9" x2="161.2" y2="501.1" stroke="#777" stroke-width="0.7"/>
<line x1="175.8" y1="498.9" x2="175.8" y2="501.1" stroke="#777" stroke-width="0.7"/>
<line x1="190.8" y1="498.9" x2="190.8" y2="501.1" stroke="#777" stroke-width="0.7"/>
<text x="63.5" y="507.7" font-size="7.5" text-anchor="end" fill="#3a3a3a" stroke="#3a3a3a" stroke-width="0.1" transform="rotate(-45 63.5 507.7)">DsRed</text>
<text x="78.2" y="507.7" font-size="7.5" text-anchor="end" fill="#3a3a3a" stroke="#3a3a3a" stroke-width="0.1" transform="rotate(-45 78.2 507.7)">VPR</text>
<text x="92.6" y="507.7" font-size="7.5" text-anchor="end" fill="#3a3a3a" stroke="#3a3a3a" stroke-width="0.1" transform="rotate(-45 92.6 507.7)">Lmo4</text>
<text x="106.8" y="507.7" font-size="7.5" text-anchor="end" fill="#3a3a3a" stroke="#3a3a3a" stroke-width="0.1" transform="rotate(-45 106.8 507.7)">Agfg1</text>
<text x="121.1" y="507.7" font-size="7.5" text-anchor="end" fill="#3a3a3a" stroke="#3a3a3a" stroke-width="0.1" transform="rotate(-45 121.1 507.7)">Tex</text>
<text x="135.7" y="507.7" font-size="7.5" text-anchor="end" fill="#3a3a3a" stroke="#3a3a3a" stroke-width="0.1" transform="rotate(-45 135.7 507.7)">Cited1</text>
<text x="150.2" y="507.7" font-size="7.5" text-anchor="end" fill="#3a3a3a" stroke="#3a3a3a" stroke-width="0.1" transform="rotate(-45 150.2 507.7)">Zc3h7b</text>
<text x="164" y="507.7" font-size="7.5" text-anchor="end" fill="#3a3a3a" stroke="#3a3a3a" stroke-width="0.1" transform="rotate(-45 164 507.7)">1700102P08Rik</text>
<text x="178.6" y="507.7" font-size="7.5" text-anchor="end" fill="#3a3a3a" stroke="#3a3a3a" stroke-width="0.1" transform="rotate(-45 178.6 507.7)">Bicral</text>
<text x="193.6" y="507.7" font-size="7.5" text-anchor="end" fill="#3a3a3a" stroke="#3a3a3a" stroke-width="0.1" transform="rotate(-45 193.6 507.7)">Pxn</text>
<text x="93.3" y="494.8" font-size="7.8" text-anchor="middle" fill="#ea8c8c" stroke="#ea8c8c" stroke-width="0.1">1</text>
<text x="107.5" y="494.8" font-size="7.8" text-anchor="middle" fill="#ea8c8c" stroke="#ea8c8c" stroke-width="0.1">2</text>
<text x="121.8" y="494.8" font-size="7.8" text-anchor="middle" fill="#ea8c8c" stroke="#ea8c8c" stroke-width="0.1">3</text>
<text x="136.4" y="494.8" font-size="7.8" text-anchor="middle" fill="#ea8c8c" stroke="#ea8c8c" stroke-width="0.1">4</text>
<text x="150.9" y="494.8" font-size="7.8" text-anchor="middle" fill="#ea8c8c" stroke="#ea8c8c" stroke-width="0.1">5</text>
<text x="164.7" y="494.8" font-size="7.8" text-anchor="middle" fill="#ea8c8c" stroke="#ea8c8c" stroke-width="0.1">6</text>
<text x="179.3" y="494.8" font-size="7.8" text-anchor="middle" fill="#ea8c8c" stroke="#ea8c8c" stroke-width="0.1">7</text>
<text x="194.3" y="494.8" font-size="7.8" text-anchor="middle" fill="#ea8c8c" stroke="#ea8c8c" stroke-width="0.1">8</text>
<text x="150.3" y="485" font-size="6.3" fill="#333">***<tspan font-style="italic">P</tspan> ≤ 2.2 × 10<tspan font-size="4" dy="-2.5">−308</tspan></text>
<rect x="268.8" y="361.8" width="162.2" height="16.3" fill="#cfdaf0" stroke="none" stroke-width="0"/>
<text x="349.9" y="373.3" font-size="9" text-anchor="middle" fill="#333" stroke="#333" stroke-width="0.1">Repressor</text>
<line x1="272.5" y1="406" x2="272.5" y2="490.5" stroke="#777" stroke-width="0.7"/>
<line x1="270.3" y1="406" x2="272.5" y2="406" stroke="#777" stroke-width="0.7"/>
<text x="268.5" y="408.8" font-size="7.8" text-anchor="end" fill="#3a3a3a" stroke="#3a3a3a" stroke-width="0.1">16</text>
<line x1="270.3" y1="427.3" x2="272.5" y2="427.3" stroke="#777" stroke-width="0.7"/>
<text x="268.5" y="430.1" font-size="7.8" text-anchor="end" fill="#3a3a3a" stroke="#3a3a3a" stroke-width="0.1">14</text>
<line x1="270.3" y1="448.3" x2="272.5" y2="448.3" stroke="#777" stroke-width="0.7"/>
<text x="268.5" y="451.1" font-size="7.8" text-anchor="end" fill="#3a3a3a" stroke="#3a3a3a" stroke-width="0.1">12</text>
<line x1="270.3" y1="469.4" x2="272.5" y2="469.4" stroke="#777" stroke-width="0.7"/>
<text x="268.5" y="472.2" font-size="7.8" text-anchor="end" fill="#3a3a3a" stroke="#3a3a3a" stroke-width="0.1">10</text>
<line x1="270.3" y1="490.5" x2="272.5" y2="490.5" stroke="#777" stroke-width="0.7"/>
<text x="268.5" y="493.3" font-size="7.8" text-anchor="end" fill="#3a3a3a" stroke="#3a3a3a" stroke-width="0.1">8</text>
<text x="250" y="448.25" font-size="9.2" text-anchor="middle" fill="#3a3a3a" transform="rotate(-90 250 448.25)">GFP intensity (log<tspan font-size="5.6" dy="1.8">2</tspan><tspan dy="-1.8">)</tspan></text>
<path d="M285.36,398 L285.39,398.67 L285.43,399.34 L285.5,400.01 L285.6,400.68 L285.72,401.35 L285.89,402.02 L286.1,402.69 L286.36,403.36 L286.67,404.03 L287.03,404.7 L287.43,405.37 L287.86,406.04 L288.3,406.71 L288.72,407.38 L289.11,408.05 L289.43,408.72 L289.68,409.39 L289.82,410.06 L289.86,410.73 L289.8,411.4 L289.65,412.07 L289.43,412.74 L289.14,413.41 L288.8,414.08 L288.43,414.75 L288.04,415.42 L287.66,416.09 L287.29,416.76 L286.94,417.43 L286.63,418.1 L286.36,418.77 L286.13,419.44 L285.93,420.11 L285.77,420.78 L285.65,421.45 L285.55,422.12 L285.48,422.79 L285.42,423.46 L285.38,424.13 L285.36,424.8 L285.24,424.8 L285.22,424.13 L285.18,423.46 L285.12,422.79 L285.05,422.12 L284.95,421.45 L284.83,420.78 L284.67,420.11 L284.47,419.44 L284.24,418.77 L283.97,418.1 L283.66,417.43 L283.31,416.76 L282.94,416.09 L282.56,415.42 L282.17,414.75 L281.8,414.08 L281.46,413.41 L281.17,412.74 L280.95,412.07 L280.8,411.4 L280.74,410.73 L280.78,410.06 L280.92,409.39 L281.17,408.72 L281.49,408.05 L281.88,407.38 L282.3,406.71 L282.74,406.04 L283.17,405.37 L283.57,404.7 L283.93,404.03 L284.24,403.36 L284.5,402.69 L284.71,402.02 L284.88,401.35 L285,400.68 L285.1,400.01 L285.17,399.34 L285.21,398.67 L285.24,398Z" fill="#999999" stroke="#3d3d3d" stroke-width="0.6" stroke-linejoin="round"/>
<line x1="285.3" y1="398.5" x2="285.3" y2="424.3" stroke="#4a4a4a" stroke-width="0.6"/>
<rect x="284.25" y="406" width="2.1" height="8" fill="white" stroke="#333" stroke-width="0.5"/>
<line x1="284.25" y1="410" x2="286.35" y2="410" stroke="#333" stroke-width="0.5"/>
<path d="M299.75,467.9 L299.78,468.53 L299.83,469.15 L299.89,469.78 L299.97,470.41 L300.07,471.04 L300.21,471.66 L300.39,472.29 L300.61,472.92 L300.88,473.55 L301.18,474.17 L301.53,474.8 L301.9,475.43 L302.3,476.06 L302.7,476.69 L303.09,477.31 L303.45,477.94 L303.76,478.57 L303.99,479.19 L304.14,479.82 L304.2,480.45 L304.16,481.08 L304.02,481.7 L303.79,482.33 L303.49,482.96 L303.14,483.59 L302.75,484.21 L302.34,484.84 L301.94,485.47 L301.56,486.1 L301.21,486.73 L300.9,487.35 L300.63,487.98 L300.4,488.61 L300.22,489.24 L300.08,489.86 L299.97,490.49 L299.89,491.12 L299.83,491.75 L299.78,492.37 L299.75,493 L299.65,493 L299.62,492.37 L299.57,491.75 L299.51,491.12 L299.43,490.49 L299.32,489.86 L299.18,489.24 L299,488.61 L298.77,487.98 L298.5,487.35 L298.19,486.73 L297.84,486.1 L297.46,485.47 L297.06,484.84 L296.65,484.21 L296.26,483.59 L295.91,482.96 L295.61,482.33 L295.38,481.7 L295.24,481.08 L295.2,480.45 L295.26,479.82 L295.41,479.19 L295.64,478.57 L295.95,477.94 L296.31,477.31 L296.7,476.69 L297.1,476.06 L297.5,475.43 L297.87,474.8 L298.22,474.17 L298.52,473.55 L298.79,472.92 L299.01,472.29 L299.19,471.66 L299.33,471.04 L299.43,470.41 L299.51,469.78 L299.57,469.15 L299.62,468.53 L299.65,467.9Z" fill="#f5b59c" stroke="#3d3d3d" stroke-width="0.6" stroke-linejoin="round"/>
<line x1="299.7" y1="468.4" x2="299.7" y2="492.5" stroke="#4a4a4a" stroke-width="0.6"/>
<rect x="298.65" y="476.5" width="2.1" height="7.5" fill="white" stroke="#333" stroke-width="0.5"/>
<line x1="298.65" y1="480" x2="300.75" y2="480" stroke="#333" stroke-width="0.5"/>
<text x="299.7" y="462.9" font-size="9.5" text-anchor="middle" fill="#333" stroke="#333" stroke-width="0.1">***</text>
<path d="M313.85,463.3 L313.88,464.01 L313.92,464.73 L313.97,465.44 L314.05,466.16 L314.14,466.88 L314.27,467.59 L314.42,468.31 L314.62,469.02 L314.85,469.74 L315.13,470.45 L315.44,471.17 L315.78,471.88 L316.14,472.6 L316.52,473.31 L316.89,474.02 L317.25,474.74 L317.56,475.45 L317.83,476.17 L318.02,476.88 L318.14,477.6 L318.17,478.31 L318.1,479.03 L317.93,479.75 L317.68,480.46 L317.35,481.18 L316.97,481.89 L316.57,482.61 L316.16,483.32 L315.76,484.03 L315.39,484.75 L315.06,485.46 L314.78,486.18 L314.54,486.89 L314.35,487.61 L314.19,488.32 L314.08,489.04 L313.99,489.75 L313.93,490.47 L313.88,491.19 L313.85,491.9 L313.75,491.9 L313.72,491.19 L313.67,490.47 L313.61,489.75 L313.52,489.04 L313.41,488.32 L313.25,487.61 L313.06,486.89 L312.82,486.18 L312.54,485.46 L312.21,484.75 L311.84,484.03 L311.44,483.32 L311.03,482.61 L310.63,481.89 L310.25,481.18 L309.92,480.46 L309.67,479.75 L309.5,479.03 L309.43,478.31 L309.46,477.6 L309.58,476.88 L309.77,476.17 L310.04,475.45 L310.35,474.74 L310.71,474.02 L311.08,473.31 L311.46,472.6 L311.82,471.88 L312.16,471.17 L312.47,470.45 L312.75,469.74 L312.98,469.02 L313.18,468.31 L313.33,467.59 L313.46,466.88 L313.55,466.16 L313.63,465.44 L313.68,464.73 L313.72,464.01 L313.75,463.3Z" fill="#7fa0dc" stroke="#3d3d3d" stroke-width="0.6" stroke-linejoin="round"/>
<line x1="313.8" y1="463.8" x2="313.8" y2="491.4" stroke="#4a4a4a" stroke-width="0.6"/>
<rect x="312.75" y="474.5" width="2.1" height="7.5" fill="white" stroke="#333" stroke-width="0.5"/>
<line x1="312.75" y1="478" x2="314.85" y2="478" stroke="#333" stroke-width="0.5"/>
<text x="313.8" y="457.5" font-size="9.5" text-anchor="middle" fill="#333" stroke="#333" stroke-width="0.1">***</text>
<path d="M328.75,464.5 L328.78,465.19 L328.82,465.87 L328.88,466.56 L328.96,467.24 L329.07,467.93 L329.2,468.61 L329.38,469.3 L329.59,469.98 L329.85,470.67 L330.15,471.35 L330.49,472.03 L330.86,472.72 L331.25,473.4 L331.64,474.09 L332.02,474.77 L332.36,475.46 L332.66,476.14 L332.88,476.83 L333.02,477.51 L333.07,478.2 L333.02,478.88 L332.88,479.57 L332.66,480.25 L332.36,480.94 L332.02,481.62 L331.64,482.31 L331.25,483 L330.86,483.68 L330.49,484.37 L330.15,485.05 L329.85,485.73 L329.59,486.42 L329.38,487.1 L329.2,487.79 L329.07,488.47 L328.96,489.16 L328.88,489.84 L328.82,490.53 L328.78,491.21 L328.75,491.9 L328.65,491.9 L328.62,491.21 L328.58,490.53 L328.52,489.84 L328.44,489.16 L328.33,488.47 L328.2,487.79 L328.02,487.1 L327.81,486.42 L327.55,485.73 L327.25,485.05 L326.91,484.37 L326.54,483.68 L326.15,483 L325.76,482.31 L325.38,481.62 L325.04,480.94 L324.74,480.25 L324.52,479.57 L324.38,478.88 L324.33,478.2 L324.38,477.51 L324.52,476.83 L324.74,476.14 L325.04,475.46 L325.38,474.77 L325.76,474.09 L326.15,473.4 L326.54,472.72 L326.91,472.03 L327.25,471.35 L327.55,470.67 L327.81,469.98 L328.02,469.3 L328.2,468.61 L328.33,467.93 L328.44,467.24 L328.52,466.56 L328.58,465.87 L328.62,465.19 L328.65,464.5Z" fill="#7fa0dc" stroke="#3d3d3d" stroke-width="0.6" stroke-linejoin="round"/>
<line x1="328.7" y1="465" x2="328.7" y2="491.4" stroke="#4a4a4a" stroke-width="0.6"/>
<rect x="327.65" y="474.5" width="2.1" height="7.5" fill="white" stroke="#333" stroke-width="0.5"/>
<line x1="327.65" y1="478" x2="329.75" y2="478" stroke="#333" stroke-width="0.5"/>
<text x="328.7" y="458.4" font-size="9.5" text-anchor="middle" fill="#333" stroke="#333" stroke-width="0.1">***</text>
<path d="M343.16,405.1 L343.18,407.3 L343.2,409.5 L343.23,411.69 L343.27,413.89 L343.32,416.09 L343.38,418.29 L343.45,420.48 L343.54,422.68 L343.65,424.88 L343.77,427.08 L343.91,429.27 L344.07,431.47 L344.25,433.67 L344.45,435.87 L344.67,438.06 L344.91,440.26 L345.17,442.46 L345.43,444.66 L345.71,446.85 L346,449.05 L346.28,451.25 L346.56,453.44 L346.83,455.64 L347.08,457.84 L347.3,460.04 L347.49,462.24 L347.65,464.43 L347.77,466.63 L347.84,468.83 L347.87,471.02 L347.71,473.22 L347.17,475.42 L346.38,477.62 L345.52,479.81 L344.73,482.01 L344.1,484.21 L343.66,486.41 L343.39,488.61 L343.24,490.8 L343.16,493 L343.04,493 L342.96,490.8 L342.81,488.61 L342.54,486.41 L342.1,484.21 L341.47,482.01 L340.68,479.81 L339.82,477.62 L339.03,475.42 L338.49,473.22 L338.33,471.02 L338.36,468.83 L338.43,466.63 L338.55,464.43 L338.71,462.24 L338.9,460.04 L339.12,457.84 L339.37,455.64 L339.64,453.44 L339.92,451.25 L340.2,449.05 L340.49,446.85 L340.77,444.66 L341.03,442.46 L341.29,440.26 L341.53,438.06 L341.75,435.87 L341.95,433.67 L342.13,431.47 L342.29,429.27 L342.43,427.08 L342.55,424.88 L342.66,422.68 L342.75,420.48 L342.82,418.29 L342.88,416.09 L342.93,413.89 L342.97,411.69 L343,409.5 L343.02,407.3 L343.04,405.1Z" fill="#7fa0dc" stroke="#3d3d3d" stroke-width="0.6" stroke-linejoin="round"/>
<line x1="343.1" y1="405.6" x2="343.1" y2="492.5" stroke="#4a4a4a" stroke-width="0.6"/>
<rect x="342.05" y="446.2" width="2.1" height="27.4" fill="white" stroke="#333" stroke-width="0.5"/>
<line x1="342.05" y1="461" x2="344.15" y2="461" stroke="#333" stroke-width="0.5"/>
<text x="343.1" y="399.7" font-size="9.5" text-anchor="middle" fill="#333" stroke="#333" stroke-width="0.1">***</text>
<path d="M357.26,402.8 L357.29,404.97 L357.33,407.14 L357.39,409.31 L357.47,411.48 L357.58,413.65 L357.72,415.82 L357.89,417.99 L358.11,420.16 L358.37,422.33 L358.67,424.5 L359.01,426.67 L359.39,428.84 L359.79,431.01 L360.22,433.18 L360.64,435.35 L361.04,437.52 L361.4,439.69 L361.71,441.86 L361.95,444.03 L362.1,446.2 L362.15,448.37 L362.1,450.54 L361.93,452.71 L361.65,454.88 L361.29,457.05 L360.87,459.22 L360.41,461.39 L359.94,463.56 L359.48,465.73 L359.05,467.9 L358.67,470.07 L358.34,472.24 L358.06,474.41 L357.83,476.58 L357.65,478.75 L357.52,480.92 L357.42,483.09 L357.35,485.26 L357.29,487.43 L357.26,489.6 L357.14,489.6 L357.11,487.43 L357.05,485.26 L356.98,483.09 L356.88,480.92 L356.75,478.75 L356.57,476.58 L356.34,474.41 L356.06,472.24 L355.73,470.07 L355.35,467.9 L354.92,465.73 L354.46,463.56 L353.99,461.39 L353.53,459.22 L353.11,457.05 L352.75,454.88 L352.47,452.71 L352.3,450.54 L352.25,448.37 L352.3,446.2 L352.45,444.03 L352.69,441.86 L353,439.69 L353.36,437.52 L353.76,435.35 L354.18,433.18 L354.61,431.01 L355.01,428.84 L355.39,426.67 L355.73,424.5 L356.03,422.33 L356.29,420.16 L356.51,417.99 L356.68,415.82 L356.82,413.65 L356.93,411.48 L357.01,409.31 L357.07,407.14 L357.11,404.97 L357.14,402.8Z" fill="#7fa0dc" stroke="#3d3d3d" stroke-width="0.6" stroke-linejoin="round"/>
<line x1="357.2" y1="403.3" x2="357.2" y2="489.1" stroke="#4a4a4a" stroke-width="0.6"/>
<rect x="356.15" y="439.4" width="2.1" height="25.1" fill="white" stroke="#333" stroke-width="0.5"/>
<line x1="356.15" y1="452" x2="358.25" y2="452" stroke="#333" stroke-width="0.5"/>
<text x="357.2" y="396.8" font-size="9.5" text-anchor="middle" fill="#333" stroke="#333" stroke-width="0.1">***</text>
<path d="M371.65,416.5 L371.68,418.01 L371.73,419.52 L371.79,421.04 L371.87,422.55 L371.99,424.06 L372.14,425.57 L372.32,427.09 L372.56,428.6 L372.83,430.11 L373.16,431.62 L373.52,433.14 L373.91,434.65 L374.32,436.16 L374.73,437.68 L375.12,439.19 L375.47,440.7 L375.76,442.21 L375.96,443.73 L376.08,445.24 L376.09,446.75 L376.01,448.26 L375.84,449.77 L375.59,451.29 L375.28,452.8 L374.91,454.31 L374.53,455.82 L374.13,457.34 L373.74,458.85 L373.37,460.36 L373.04,461.88 L372.74,463.39 L372.49,464.9 L372.27,466.41 L372.1,467.93 L371.97,469.44 L371.86,470.95 L371.78,472.46 L371.72,473.98 L371.68,475.49 L371.65,477 L371.55,477 L371.52,475.49 L371.48,473.98 L371.42,472.46 L371.34,470.95 L371.23,469.44 L371.1,467.93 L370.93,466.41 L370.71,464.9 L370.46,463.39 L370.16,461.88 L369.83,460.36 L369.46,458.85 L369.07,457.34 L368.67,455.82 L368.29,454.31 L367.92,452.8 L367.61,451.29 L367.36,449.77 L367.19,448.26 L367.11,446.75 L367.12,445.24 L367.24,443.73 L367.44,442.21 L367.73,440.7 L368.08,439.19 L368.47,437.68 L368.88,436.16 L369.29,434.65 L369.68,433.14 L370.04,431.62 L370.37,430.11 L370.64,428.6 L370.88,427.09 L371.06,425.57 L371.21,424.06 L371.33,422.55 L371.41,421.04 L371.47,419.52 L371.52,418.01 L371.55,416.5Z" fill="#7fa0dc" stroke="#3d3d3d" stroke-width="0.6" stroke-linejoin="round"/>
<line x1="371.6" y1="417" x2="371.6" y2="476.5" stroke="#4a4a4a" stroke-width="0.6"/>
<rect x="370.55" y="438.2" width="2.1" height="17.1" fill="white" stroke="#333" stroke-width="0.5"/>
<line x1="370.55" y1="447" x2="372.65" y2="447" stroke="#333" stroke-width="0.5"/>
<text x="371.6" y="410.9" font-size="9.5" text-anchor="middle" fill="#333" stroke="#333" stroke-width="0.1">***</text>
<path d="M386.45,406.3 L386.49,407.67 L386.53,409.04 L386.6,410.4 L386.68,411.77 L386.8,413.14 L386.96,414.5 L387.16,415.87 L387.41,417.24 L387.7,418.61 L388.04,419.98 L388.42,421.34 L388.83,422.71 L389.25,424.08 L389.67,425.44 L390.06,426.81 L390.39,428.18 L390.65,429.55 L390.83,430.92 L390.9,432.28 L390.87,433.65 L390.75,435.02 L390.55,436.38 L390.27,437.75 L389.95,439.12 L389.58,440.49 L389.2,441.86 L388.81,443.22 L388.43,444.59 L388.08,445.96 L387.76,447.32 L387.48,448.69 L387.24,450.06 L387.04,451.43 L386.88,452.8 L386.75,454.16 L386.65,455.53 L386.58,456.9 L386.52,458.26 L386.48,459.63 L386.45,461 L386.35,461 L386.32,459.63 L386.28,458.26 L386.22,456.9 L386.15,455.53 L386.05,454.16 L385.92,452.8 L385.76,451.43 L385.56,450.06 L385.32,448.69 L385.04,447.32 L384.72,445.96 L384.37,444.59 L383.99,443.22 L383.6,441.86 L383.22,440.49 L382.85,439.12 L382.53,437.75 L382.25,436.38 L382.05,435.02 L381.93,433.65 L381.9,432.28 L381.97,430.92 L382.15,429.55 L382.41,428.18 L382.74,426.81 L383.13,425.44 L383.55,424.08 L383.97,422.71 L384.38,421.34 L384.76,419.98 L385.1,418.61 L385.39,417.24 L385.64,415.87 L385.84,414.5 L386,413.14 L386.12,411.77 L386.2,410.4 L386.27,409.04 L386.31,407.67 L386.35,406.3Z" fill="#7fa0dc" stroke="#3d3d3d" stroke-width="0.6" stroke-linejoin="round"/>
<line x1="386.4" y1="406.8" x2="386.4" y2="460.5" stroke="#4a4a4a" stroke-width="0.6"/>
<rect x="385.35" y="426.8" width="2.1" height="13.7" fill="white" stroke="#333" stroke-width="0.5"/>
<line x1="385.35" y1="433" x2="387.45" y2="433" stroke="#333" stroke-width="0.5"/>
<text x="386.4" y="400.2" font-size="9.5" text-anchor="middle" fill="#333" stroke="#333" stroke-width="0.1">***</text>
<path d="M400.86,405.1 L400.89,406.5 L400.93,407.9 L401,409.29 L401.1,410.69 L401.22,412.09 L401.39,413.49 L401.6,414.88 L401.86,416.28 L402.17,417.68 L402.53,419.08 L402.93,420.47 L403.36,421.87 L403.79,423.27 L404.21,424.67 L404.6,426.06 L404.93,427.46 L405.18,428.86 L405.32,430.25 L405.36,431.65 L405.3,433.05 L405.15,434.45 L404.93,435.85 L404.64,437.24 L404.3,438.64 L403.93,440.04 L403.55,441.44 L403.16,442.83 L402.79,444.23 L402.45,445.63 L402.13,447.02 L401.86,448.42 L401.63,449.82 L401.43,451.22 L401.27,452.62 L401.15,454.01 L401.05,455.41 L400.98,456.81 L400.92,458.2 L400.88,459.6 L400.86,461 L400.74,461 L400.72,459.6 L400.68,458.2 L400.62,456.81 L400.55,455.41 L400.45,454.01 L400.33,452.62 L400.17,451.22 L399.97,449.82 L399.74,448.42 L399.47,447.02 L399.15,445.63 L398.81,444.23 L398.44,442.83 L398.05,441.44 L397.67,440.04 L397.3,438.64 L396.96,437.24 L396.67,435.85 L396.45,434.45 L396.3,433.05 L396.24,431.65 L396.28,430.25 L396.42,428.86 L396.67,427.46 L397,426.06 L397.39,424.67 L397.81,423.27 L398.24,421.87 L398.67,420.47 L399.07,419.08 L399.43,417.68 L399.74,416.28 L400,414.88 L400.21,413.49 L400.38,412.09 L400.5,410.69 L400.6,409.29 L400.67,407.9 L400.71,406.5 L400.74,405.1Z" fill="#7fa0dc" stroke="#3d3d3d" stroke-width="0.6" stroke-linejoin="round"/>
<line x1="400.8" y1="405.6" x2="400.8" y2="460.5" stroke="#4a4a4a" stroke-width="0.6"/>
<rect x="399.75" y="425.5" width="2.1" height="14" fill="white" stroke="#333" stroke-width="0.5"/>
<line x1="399.75" y1="432" x2="401.85" y2="432" stroke="#333" stroke-width="0.5"/>
<text x="400.8" y="399.7" font-size="9.5" text-anchor="middle" fill="#333" stroke="#333" stroke-width="0.1">***</text>
<path d="M415.06,400.5 L415.09,401.93 L415.16,403.36 L415.25,404.78 L415.38,406.21 L415.56,407.64 L415.81,409.06 L416.12,410.49 L416.51,411.92 L416.95,413.35 L417.44,414.77 L417.95,416.2 L418.45,417.63 L418.89,419.06 L419.25,420.49 L419.48,421.91 L419.56,423.34 L419.53,424.77 L419.43,426.19 L419.26,427.62 L419.04,429.05 L418.78,430.48 L418.47,431.91 L418.14,433.33 L417.8,434.76 L417.46,436.19 L417.13,437.62 L416.81,439.04 L416.52,440.47 L416.26,441.9 L416.02,443.33 L415.82,444.75 L415.64,446.18 L415.5,447.61 L415.38,449.04 L415.29,450.46 L415.21,451.89 L415.16,453.32 L415.11,454.75 L415.08,456.17 L415.06,457.6 L414.94,457.6 L414.92,456.17 L414.89,454.75 L414.84,453.32 L414.79,451.89 L414.71,450.46 L414.62,449.04 L414.5,447.61 L414.36,446.18 L414.18,444.75 L413.98,443.33 L413.74,441.9 L413.48,440.47 L413.19,439.04 L412.87,437.62 L412.54,436.19 L412.2,434.76 L411.86,433.33 L411.53,431.91 L411.22,430.48 L410.96,429.05 L410.74,427.62 L410.57,426.19 L410.47,424.77 L410.44,423.34 L410.52,421.91 L410.75,420.49 L411.11,419.06 L411.55,417.63 L412.05,416.2 L412.56,414.77 L413.05,413.35 L413.49,411.92 L413.88,410.49 L414.19,409.06 L414.44,407.64 L414.62,406.21 L414.75,404.78 L414.84,403.36 L414.91,401.93 L414.94,400.5Z" fill="#7fa0dc" stroke="#3d3d3d" stroke-width="0.6" stroke-linejoin="round"/>
<line x1="415" y1="401" x2="415" y2="457.1" stroke="#4a4a4a" stroke-width="0.6"/>
<rect x="413.95" y="418" width="2.1" height="13" fill="white" stroke="#333" stroke-width="0.5"/>
<line x1="413.95" y1="423.5" x2="416.05" y2="423.5" stroke="#333" stroke-width="0.5"/>
<text x="415" y="394.9" font-size="9.5" text-anchor="middle" fill="#333" stroke="#333" stroke-width="0.1">***</text>
<line x1="285.3" y1="499" x2="415" y2="499" stroke="#777" stroke-width="0.7"/>
<line x1="285.3" y1="499" x2="285.3" y2="501.2" stroke="#777" stroke-width="0.7"/>
<line x1="299.7" y1="499" x2="299.7" y2="501.2" stroke="#777" stroke-width="0.7"/>
<line x1="313.8" y1="499" x2="313.8" y2="501.2" stroke="#777" stroke-width="0.7"/>
<line x1="328.7" y1="499" x2="328.7" y2="501.2" stroke="#777" stroke-width="0.7"/>
<line x1="343.1" y1="499" x2="343.1" y2="501.2" stroke="#777" stroke-width="0.7"/>
<line x1="357.2" y1="499" x2="357.2" y2="501.2" stroke="#777" stroke-width="0.7"/>
<line x1="371.6" y1="499" x2="371.6" y2="501.2" stroke="#777" stroke-width="0.7"/>
<line x1="386.4" y1="499" x2="386.4" y2="501.2" stroke="#777" stroke-width="0.7"/>
<line x1="400.8" y1="499" x2="400.8" y2="501.2" stroke="#777" stroke-width="0.7"/>
<line x1="415" y1="499" x2="415" y2="501.2" stroke="#777" stroke-width="0.7"/>
<text x="288.1" y="507.8" font-size="7.5" text-anchor="end" fill="#3a3a3a" stroke="#3a3a3a" stroke-width="0.1" transform="rotate(-45 288.1 507.8)">TetR</text>
<text x="302.5" y="507.8" font-size="7.5" text-anchor="end" fill="#3a3a3a" stroke="#3a3a3a" stroke-width="0.1" transform="rotate(-45 302.5 507.8)">KRAB</text>
<text x="316.6" y="507.8" font-size="7.5" text-anchor="end" fill="#3a3a3a" stroke="#3a3a3a" stroke-width="0.1" transform="rotate(-45 316.6 507.8)">Jdp2</text>
<text x="331.5" y="507.8" font-size="7.5" text-anchor="end" fill="#3a3a3a" stroke="#3a3a3a" stroke-width="0.1" transform="rotate(-45 331.5 507.8)">Etv6</text>
<text x="345.9" y="507.8" font-size="7.5" text-anchor="end" fill="#3a3a3a" stroke="#3a3a3a" stroke-width="0.1" transform="rotate(-45 345.9 507.8)">N4bp1</text>
<text x="360" y="507.8" font-size="7.5" text-anchor="end" fill="#3a3a3a" stroke="#3a3a3a" stroke-width="0.1" transform="rotate(-45 360 507.8)">Rbpj</text>
<text x="374.4" y="507.8" font-size="7.5" text-anchor="end" fill="#3a3a3a" stroke="#3a3a3a" stroke-width="0.1" transform="rotate(-45 374.4 507.8)">Msantd3</text>
<text x="389.2" y="507.8" font-size="7.5" text-anchor="end" fill="#3a3a3a" stroke="#3a3a3a" stroke-width="0.1" transform="rotate(-45 389.2 507.8)">Trim8</text>
<text x="403.6" y="507.8" font-size="7.5" text-anchor="end" fill="#3a3a3a" stroke="#3a3a3a" stroke-width="0.1" transform="rotate(-45 403.6 507.8)">Rnf220</text>
<text x="417.8" y="507.8" font-size="7.5" text-anchor="end" fill="#3a3a3a" stroke="#3a3a3a" stroke-width="0.1" transform="rotate(-45 417.8 507.8)">Tox4</text>
<text x="317.3" y="494.8" font-size="7.8" text-anchor="middle" fill="#ea8c8c" stroke="#ea8c8c" stroke-width="0.1">1</text>
<text x="332.2" y="494.8" font-size="7.8" text-anchor="middle" fill="#ea8c8c" stroke="#ea8c8c" stroke-width="0.1">2</text>
<text x="346.6" y="494.8" font-size="7.8" text-anchor="middle" fill="#ea8c8c" stroke="#ea8c8c" stroke-width="0.1">3</text>
<text x="360.7" y="494.8" font-size="7.8" text-anchor="middle" fill="#ea8c8c" stroke="#ea8c8c" stroke-width="0.1">4</text>
<text x="375.1" y="494.8" font-size="7.8" text-anchor="middle" fill="#ea8c8c" stroke="#ea8c8c" stroke-width="0.1">5</text>
<text x="389.9" y="494.8" font-size="7.8" text-anchor="middle" fill="#ea8c8c" stroke="#ea8c8c" stroke-width="0.1">6</text>
<text x="404.3" y="494.8" font-size="7.8" text-anchor="middle" fill="#ea8c8c" stroke="#ea8c8c" stroke-width="0.1">7</text>
<text x="418.5" y="494.8" font-size="7.8" text-anchor="middle" fill="#ea8c8c" stroke="#ea8c8c" stroke-width="0.1">8</text>
<text x="372.7" y="485" font-size="6.3" fill="#333">***<tspan font-style="italic">P</tspan> ≤ 2.2 × 10<tspan font-size="4" dy="-2.5">−308</tspan></text>
<rect x="490.3" y="361.8" width="161.5" height="16.3" fill="#fceacb" stroke="none" stroke-width="0"/>
<text x="571.05" y="373.3" font-size="9" text-anchor="middle" fill="#333" stroke="#333" stroke-width="0.1">PTGR</text>
<line x1="493.5" y1="406" x2="493.5" y2="490.5" stroke="#777" stroke-width="0.7"/>
<line x1="491.3" y1="406" x2="493.5" y2="406" stroke="#777" stroke-width="0.7"/>
<text x="489.5" y="408.8" font-size="7.8" text-anchor="end" fill="#3a3a3a" stroke="#3a3a3a" stroke-width="0.1">16</text>
<line x1="491.3" y1="426.9" x2="493.5" y2="426.9" stroke="#777" stroke-width="0.7"/>
<text x="489.5" y="429.7" font-size="7.8" text-anchor="end" fill="#3a3a3a" stroke="#3a3a3a" stroke-width="0.1">14</text>
<line x1="491.3" y1="448.3" x2="493.5" y2="448.3" stroke="#777" stroke-width="0.7"/>
<text x="489.5" y="451.1" font-size="7.8" text-anchor="end" fill="#3a3a3a" stroke="#3a3a3a" stroke-width="0.1">12</text>
<line x1="491.3" y1="469.4" x2="493.5" y2="469.4" stroke="#777" stroke-width="0.7"/>
<text x="489.5" y="472.2" font-size="7.8" text-anchor="end" fill="#3a3a3a" stroke="#3a3a3a" stroke-width="0.1">10</text>
<line x1="491.3" y1="490.5" x2="493.5" y2="490.5" stroke="#777" stroke-width="0.7"/>
<text x="489.5" y="493.3" font-size="7.8" text-anchor="end" fill="#3a3a3a" stroke="#3a3a3a" stroke-width="0.1">8</text>
<text x="471.7" y="448.25" font-size="9.2" text-anchor="middle" fill="#3a3a3a" transform="rotate(-90 471.7 448.25)">GFP intensity (log<tspan font-size="5.6" dy="1.8">2</tspan><tspan dy="-1.8">)</tspan></text>
<path d="M506.46,402.8 L506.49,403.88 L506.54,404.97 L506.62,406.06 L506.72,407.14 L506.86,408.23 L507.05,409.31 L507.29,410.39 L507.59,411.48 L507.94,412.56 L508.34,413.65 L508.77,414.74 L509.23,415.82 L509.68,416.91 L510.1,417.99 L510.47,419.07 L510.74,420.16 L510.91,421.25 L510.96,422.33 L510.91,423.42 L510.78,424.5 L510.58,425.58 L510.31,426.67 L510,427.75 L509.65,428.84 L509.29,429.93 L508.92,431.01 L508.55,432.09 L508.21,433.18 L507.9,434.26 L507.61,435.35 L507.37,436.44 L507.16,437.52 L506.98,438.61 L506.84,439.69 L506.72,440.77 L506.64,441.86 L506.57,442.94 L506.52,444.03 L506.48,445.12 L506.46,446.2 L506.34,446.2 L506.32,445.12 L506.28,444.03 L506.23,442.94 L506.16,441.86 L506.08,440.77 L505.96,439.69 L505.82,438.61 L505.64,437.52 L505.43,436.44 L505.19,435.35 L504.9,434.26 L504.59,433.18 L504.25,432.09 L503.88,431.01 L503.51,429.93 L503.15,428.84 L502.8,427.75 L502.49,426.67 L502.22,425.58 L502.02,424.5 L501.89,423.42 L501.84,422.33 L501.89,421.25 L502.06,420.16 L502.33,419.07 L502.7,417.99 L503.12,416.91 L503.57,415.82 L504.03,414.74 L504.46,413.65 L504.86,412.56 L505.21,411.48 L505.51,410.39 L505.75,409.31 L505.94,408.23 L506.08,407.14 L506.18,406.06 L506.26,404.97 L506.31,403.88 L506.34,402.8Z" fill="#999999" stroke="#3d3d3d" stroke-width="0.6" stroke-linejoin="round"/>
<line x1="506.4" y1="403.3" x2="506.4" y2="445.7" stroke="#4a4a4a" stroke-width="0.6"/>
<rect x="505.35" y="415.5" width="2.1" height="14.5" fill="white" stroke="#333" stroke-width="0.5"/>
<line x1="505.35" y1="422" x2="507.45" y2="422" stroke="#333" stroke-width="0.5"/>
<path d="M520.85,445 L520.88,446 L520.92,447 L520.98,448 L521.06,449 L521.16,450 L521.29,451 L521.46,452 L521.66,453 L521.91,454 L522.2,455 L522.53,456 L522.89,457 L523.27,458 L523.66,459 L524.05,460 L524.41,461 L524.73,462 L524.99,463 L525.18,464 L525.28,465 L525.29,466 L525.2,467 L525.01,468 L524.73,469 L524.39,470 L524,471 L523.58,472 L523.17,473 L522.77,474 L522.4,475 L522.07,476 L521.78,477 L521.54,478 L521.35,479 L521.2,480 L521.08,481 L520.99,482 L520.93,483 L520.89,484 L520.85,485 L520.75,485 L520.71,484 L520.67,483 L520.61,482 L520.52,481 L520.4,480 L520.25,479 L520.06,478 L519.82,477 L519.53,476 L519.2,475 L518.83,474 L518.43,473 L518.02,472 L517.6,471 L517.21,470 L516.87,469 L516.59,468 L516.4,467 L516.31,466 L516.32,465 L516.42,464 L516.61,463 L516.87,462 L517.19,461 L517.55,460 L517.94,459 L518.33,458 L518.71,457 L519.07,456 L519.4,455 L519.69,454 L519.94,453 L520.14,452 L520.31,451 L520.44,450 L520.54,449 L520.62,448 L520.68,447 L520.72,446 L520.75,445Z" fill="#f5b59c" stroke="#3d3d3d" stroke-width="0.6" stroke-linejoin="round"/>
<line x1="520.8" y1="445.5" x2="520.8" y2="484.5" stroke="#4a4a4a" stroke-width="0.6"/>
<rect x="519.75" y="459" width="2.1" height="12" fill="white" stroke="#333" stroke-width="0.5"/>
<line x1="519.75" y1="465" x2="521.85" y2="465" stroke="#333" stroke-width="0.5"/>
<text x="520.8" y="438.9" font-size="9.5" text-anchor="middle" fill="#333" stroke="#333" stroke-width="0.1">***</text>
<path d="M535.45,458.8 L535.48,459.63 L535.52,460.45 L535.57,461.28 L535.65,462.11 L535.75,462.94 L535.87,463.76 L536.04,464.59 L536.23,465.42 L536.47,466.25 L536.75,467.07 L537.07,467.9 L537.41,468.73 L537.78,469.56 L538.16,470.38 L538.54,471.21 L538.89,472.04 L539.2,472.87 L539.46,473.69 L539.65,474.52 L539.75,475.35 L539.76,476.18 L539.68,477 L539.5,477.83 L539.23,478.66 L538.9,479.49 L538.52,480.31 L538.12,481.14 L537.72,481.97 L537.33,482.8 L536.96,483.62 L536.64,484.45 L536.36,485.28 L536.13,486.11 L535.94,486.94 L535.79,487.76 L535.67,488.59 L535.59,489.42 L535.53,490.25 L535.48,491.07 L535.45,491.9 L535.35,491.9 L535.32,491.07 L535.27,490.25 L535.21,489.42 L535.13,488.59 L535.01,487.76 L534.86,486.94 L534.67,486.11 L534.44,485.28 L534.16,484.45 L533.84,483.62 L533.47,482.8 L533.08,481.97 L532.68,481.14 L532.28,480.31 L531.9,479.49 L531.57,478.66 L531.3,477.83 L531.12,477 L531.04,476.18 L531.05,475.35 L531.15,474.52 L531.34,473.69 L531.6,472.87 L531.91,472.04 L532.26,471.21 L532.64,470.38 L533.02,469.56 L533.39,468.73 L533.73,467.9 L534.05,467.07 L534.33,466.25 L534.57,465.42 L534.76,464.59 L534.93,463.76 L535.05,462.94 L535.15,462.11 L535.23,461.28 L535.28,460.45 L535.32,459.63 L535.35,458.8Z" fill="#f9d690" stroke="#3d3d3d" stroke-width="0.6" stroke-linejoin="round"/>
<line x1="535.4" y1="459.3" x2="535.4" y2="491.4" stroke="#4a4a4a" stroke-width="0.6"/>
<rect x="534.35" y="470" width="2.1" height="10" fill="white" stroke="#333" stroke-width="0.5"/>
<line x1="534.35" y1="475.5" x2="536.45" y2="475.5" stroke="#333" stroke-width="0.5"/>
<text x="535.4" y="452.8" font-size="9.5" text-anchor="middle" fill="#333" stroke="#333" stroke-width="0.1">***</text>
<path d="M549.85,433.7 L549.88,434.81 L549.92,435.93 L549.98,437.04 L550.05,438.15 L550.15,439.26 L550.28,440.38 L550.45,441.49 L550.65,442.6 L550.89,443.71 L551.17,444.82 L551.5,445.94 L551.85,447.05 L552.22,448.16 L552.61,449.27 L552.98,450.39 L553.33,451.5 L553.64,452.61 L553.89,453.72 L554.07,454.84 L554.16,455.95 L554.16,457.06 L554.06,458.18 L553.86,459.29 L553.59,460.4 L553.25,461.51 L552.88,462.62 L552.48,463.74 L552.07,464.85 L551.69,465.96 L551.33,467.07 L551.02,468.19 L550.74,469.3 L550.51,470.41 L550.33,471.52 L550.18,472.64 L550.07,473.75 L549.99,474.86 L549.93,475.97 L549.88,477.09 L549.85,478.2 L549.75,478.2 L549.72,477.09 L549.67,475.97 L549.61,474.86 L549.53,473.75 L549.42,472.64 L549.27,471.52 L549.09,470.41 L548.86,469.3 L548.58,468.19 L548.27,467.07 L547.91,465.96 L547.53,464.85 L547.12,463.74 L546.72,462.62 L546.35,461.51 L546.01,460.4 L545.74,459.29 L545.54,458.18 L545.44,457.06 L545.44,455.95 L545.53,454.84 L545.71,453.72 L545.96,452.61 L546.27,451.5 L546.62,450.39 L546.99,449.27 L547.38,448.16 L547.75,447.05 L548.1,445.94 L548.43,444.82 L548.71,443.71 L548.95,442.6 L549.15,441.49 L549.32,440.38 L549.45,439.26 L549.55,438.15 L549.62,437.04 L549.68,435.93 L549.72,434.81 L549.75,433.7Z" fill="#f9d690" stroke="#3d3d3d" stroke-width="0.6" stroke-linejoin="round"/>
<line x1="549.8" y1="434.2" x2="549.8" y2="477.7" stroke="#4a4a4a" stroke-width="0.6"/>
<rect x="548.75" y="449" width="2.1" height="14" fill="white" stroke="#333" stroke-width="0.5"/>
<line x1="548.75" y1="456" x2="550.85" y2="456" stroke="#333" stroke-width="0.5"/>
<text x="549.8" y="428.1" font-size="9.5" text-anchor="middle" fill="#333" stroke="#333" stroke-width="0.1">***</text>
<path d="M564.05,426.8 L564.09,427.97 L564.13,429.14 L564.2,430.31 L564.3,431.48 L564.43,432.65 L564.6,433.82 L564.81,434.99 L565.08,436.16 L565.4,437.33 L565.76,438.5 L566.17,439.67 L566.6,440.84 L567.03,442.01 L567.45,443.18 L567.83,444.35 L568.14,445.52 L568.36,446.69 L568.48,447.86 L568.49,449.03 L568.41,450.2 L568.25,451.37 L568.01,452.54 L567.72,453.71 L567.38,454.88 L567.02,456.05 L566.64,457.22 L566.27,458.39 L565.91,459.56 L565.58,460.73 L565.28,461.9 L565.02,463.07 L564.79,464.24 L564.61,465.41 L564.46,466.58 L564.34,467.75 L564.24,468.92 L564.17,470.09 L564.12,471.26 L564.08,472.43 L564.05,473.6 L563.95,473.6 L563.92,472.43 L563.88,471.26 L563.83,470.09 L563.76,468.92 L563.66,467.75 L563.54,466.58 L563.39,465.41 L563.21,464.24 L562.98,463.07 L562.72,461.9 L562.42,460.73 L562.09,459.56 L561.73,458.39 L561.36,457.22 L560.98,456.05 L560.62,454.88 L560.28,453.71 L559.99,452.54 L559.75,451.37 L559.59,450.2 L559.51,449.03 L559.52,447.86 L559.64,446.69 L559.86,445.52 L560.17,444.35 L560.55,443.18 L560.97,442.01 L561.4,440.84 L561.83,439.67 L562.24,438.5 L562.6,437.33 L562.92,436.16 L563.19,434.99 L563.4,433.82 L563.57,432.65 L563.7,431.48 L563.8,430.31 L563.87,429.14 L563.91,427.97 L563.95,426.8Z" fill="#f9d690" stroke="#3d3d3d" stroke-width="0.6" stroke-linejoin="round"/>
<line x1="564" y1="427.3" x2="564" y2="473.1" stroke="#4a4a4a" stroke-width="0.6"/>
<rect x="562.95" y="442" width="2.1" height="13" fill="white" stroke="#333" stroke-width="0.5"/>
<line x1="562.95" y1="448.5" x2="565.05" y2="448.5" stroke="#333" stroke-width="0.5"/>
<text x="564" y="421.5" font-size="9.5" text-anchor="middle" fill="#333" stroke="#333" stroke-width="0.1">***</text>
<path d="M578.35,421.1 L578.38,422.41 L578.43,423.73 L578.49,425.04 L578.57,426.35 L578.68,427.66 L578.82,428.98 L579,430.29 L579.22,431.6 L579.48,432.91 L579.79,434.23 L580.13,435.54 L580.51,436.85 L580.91,438.16 L581.32,439.48 L581.71,440.79 L582.06,442.1 L582.37,443.41 L582.6,444.73 L582.75,446.04 L582.8,447.35 L582.75,448.66 L582.61,449.98 L582.38,451.29 L582.08,452.6 L581.73,453.91 L581.34,455.23 L580.93,456.54 L580.53,457.85 L580.15,459.16 L579.8,460.48 L579.49,461.79 L579.22,463.1 L579,464.41 L578.82,465.73 L578.68,467.04 L578.57,468.35 L578.49,469.66 L578.43,470.98 L578.38,472.29 L578.35,473.6 L578.25,473.6 L578.22,472.29 L578.17,470.98 L578.11,469.66 L578.03,468.35 L577.92,467.04 L577.78,465.73 L577.6,464.41 L577.38,463.1 L577.11,461.79 L576.8,460.48 L576.45,459.16 L576.07,457.85 L575.67,456.54 L575.26,455.23 L574.87,453.91 L574.52,452.6 L574.22,451.29 L573.99,449.98 L573.85,448.66 L573.8,447.35 L573.85,446.04 L574,444.73 L574.23,443.41 L574.54,442.1 L574.89,440.79 L575.28,439.48 L575.69,438.16 L576.09,436.85 L576.47,435.54 L576.81,434.23 L577.12,432.91 L577.38,431.6 L577.6,430.29 L577.78,428.98 L577.92,427.66 L578.03,426.35 L578.11,425.04 L578.17,423.73 L578.22,422.41 L578.25,421.1Z" fill="#f9d690" stroke="#3d3d3d" stroke-width="0.6" stroke-linejoin="round"/>
<line x1="578.3" y1="421.6" x2="578.3" y2="473.1" stroke="#4a4a4a" stroke-width="0.6"/>
<rect x="577.25" y="439" width="2.1" height="16" fill="white" stroke="#333" stroke-width="0.5"/>
<line x1="577.25" y1="447" x2="579.35" y2="447" stroke="#333" stroke-width="0.5"/>
<text x="578.3" y="416.3" font-size="9.5" text-anchor="middle" fill="#333" stroke="#333" stroke-width="0.1">***</text>
<path d="M592.75,418.8 L592.79,420.14 L592.83,421.49 L592.9,422.83 L592.99,424.17 L593.12,425.51 L593.28,426.86 L593.49,428.2 L593.75,429.54 L594.06,430.88 L594.42,432.23 L594.81,433.57 L595.24,434.91 L595.67,436.25 L596.08,437.6 L596.47,438.94 L596.79,440.28 L597.03,441.62 L597.17,442.97 L597.2,444.31 L597.13,445.65 L596.99,446.99 L596.76,448.33 L596.48,449.68 L596.14,451.02 L595.78,452.36 L595.4,453.7 L595.02,455.05 L594.66,456.39 L594.32,457.73 L594.01,459.07 L593.74,460.42 L593.51,461.76 L593.32,463.1 L593.17,464.44 L593.04,465.79 L592.95,467.13 L592.87,468.47 L592.82,469.81 L592.78,471.16 L592.75,472.5 L592.65,472.5 L592.62,471.16 L592.58,469.81 L592.53,468.47 L592.45,467.13 L592.36,465.79 L592.23,464.44 L592.08,463.1 L591.89,461.76 L591.66,460.42 L591.39,459.07 L591.08,457.73 L590.74,456.39 L590.38,455.05 L590,453.7 L589.62,452.36 L589.26,451.02 L588.92,449.68 L588.64,448.33 L588.41,446.99 L588.27,445.65 L588.2,444.31 L588.23,442.97 L588.37,441.62 L588.61,440.28 L588.93,438.94 L589.32,437.6 L589.73,436.25 L590.16,434.91 L590.59,433.57 L590.98,432.23 L591.34,430.88 L591.65,429.54 L591.91,428.2 L592.12,426.86 L592.28,425.51 L592.41,424.17 L592.5,422.83 L592.57,421.49 L592.61,420.14 L592.65,418.8Z" fill="#f9d690" stroke="#3d3d3d" stroke-width="0.6" stroke-linejoin="round"/>
<line x1="592.7" y1="419.3" x2="592.7" y2="472" stroke="#4a4a4a" stroke-width="0.6"/>
<rect x="591.65" y="437" width="2.1" height="15" fill="white" stroke="#333" stroke-width="0.5"/>
<line x1="591.65" y1="444" x2="593.75" y2="444" stroke="#333" stroke-width="0.5"/>
<text x="592.7" y="413.5" font-size="9.5" text-anchor="middle" fill="#333" stroke="#333" stroke-width="0.1">***</text>
<path d="M607.35,415.4 L607.39,416.63 L607.43,417.85 L607.5,419.08 L607.6,420.31 L607.73,421.54 L607.9,422.76 L608.11,423.99 L608.38,425.22 L608.69,426.45 L609.06,427.67 L609.46,428.9 L609.89,430.13 L610.32,431.36 L610.74,432.58 L611.12,433.81 L611.43,435.04 L611.66,436.27 L611.78,437.5 L611.79,438.72 L611.71,439.95 L611.55,441.18 L611.32,442.4 L611.03,443.63 L610.69,444.86 L610.33,446.09 L609.95,447.31 L609.58,448.54 L609.22,449.77 L608.88,451 L608.58,452.23 L608.32,453.45 L608.1,454.68 L607.91,455.91 L607.76,457.13 L607.64,458.36 L607.54,459.59 L607.47,460.82 L607.42,462.05 L607.38,463.27 L607.35,464.5 L607.25,464.5 L607.22,463.27 L607.18,462.05 L607.13,460.82 L607.06,459.59 L606.96,458.36 L606.84,457.13 L606.69,455.91 L606.5,454.68 L606.28,453.45 L606.02,452.23 L605.72,451 L605.38,449.77 L605.02,448.54 L604.65,447.31 L604.27,446.09 L603.91,444.86 L603.57,443.63 L603.28,442.4 L603.05,441.18 L602.89,439.95 L602.81,438.72 L602.82,437.5 L602.94,436.27 L603.17,435.04 L603.48,433.81 L603.86,432.58 L604.28,431.36 L604.71,430.13 L605.14,428.9 L605.54,427.67 L605.91,426.45 L606.22,425.22 L606.49,423.99 L606.7,422.76 L606.87,421.54 L607,420.31 L607.1,419.08 L607.17,417.85 L607.21,416.63 L607.25,415.4Z" fill="#f9d690" stroke="#3d3d3d" stroke-width="0.6" stroke-linejoin="round"/>
<line x1="607.3" y1="415.9" x2="607.3" y2="464" stroke="#4a4a4a" stroke-width="0.6"/>
<rect x="606.25" y="431" width="2.1" height="15" fill="white" stroke="#333" stroke-width="0.5"/>
<line x1="606.25" y1="438" x2="608.35" y2="438" stroke="#333" stroke-width="0.5"/>
<text x="607.3" y="409.4" font-size="9.5" text-anchor="middle" fill="#333" stroke="#333" stroke-width="0.1">***</text>
<path d="M621.75,415.4 L621.79,416.54 L621.83,417.68 L621.9,418.82 L621.99,419.96 L622.11,421.1 L622.27,422.24 L622.48,423.38 L622.73,424.52 L623.03,425.66 L623.38,426.8 L623.77,427.94 L624.19,429.08 L624.61,430.22 L625.03,431.36 L625.42,432.5 L625.74,433.64 L626,434.78 L626.15,435.92 L626.2,437.06 L626.15,438.2 L626.02,439.34 L625.8,440.48 L625.52,441.62 L625.19,442.76 L624.83,443.9 L624.44,445.04 L624.06,446.18 L623.69,447.32 L623.35,448.46 L623.03,449.6 L622.76,450.74 L622.53,451.88 L622.33,453.02 L622.17,454.16 L622.05,455.3 L621.95,456.44 L621.88,457.58 L621.82,458.72 L621.78,459.86 L621.75,461 L621.65,461 L621.62,459.86 L621.58,458.72 L621.52,457.58 L621.45,456.44 L621.35,455.3 L621.23,454.16 L621.07,453.02 L620.87,451.88 L620.64,450.74 L620.37,449.6 L620.05,448.46 L619.71,447.32 L619.34,446.18 L618.96,445.04 L618.57,443.9 L618.21,442.76 L617.88,441.62 L617.6,440.48 L617.38,439.34 L617.25,438.2 L617.2,437.06 L617.25,435.92 L617.4,434.78 L617.66,433.64 L617.98,432.5 L618.37,431.36 L618.79,430.22 L619.21,429.08 L619.63,427.94 L620.02,426.8 L620.37,425.66 L620.67,424.52 L620.92,423.38 L621.13,422.24 L621.29,421.1 L621.41,419.96 L621.5,418.82 L621.57,417.68 L621.61,416.54 L621.65,415.4Z" fill="#f9d690" stroke="#3d3d3d" stroke-width="0.6" stroke-linejoin="round"/>
<line x1="621.7" y1="415.9" x2="621.7" y2="460.5" stroke="#4a4a4a" stroke-width="0.6"/>
<rect x="620.65" y="430" width="2.1" height="15" fill="white" stroke="#333" stroke-width="0.5"/>
<line x1="620.65" y1="437" x2="622.75" y2="437" stroke="#333" stroke-width="0.5"/>
<text x="621.7" y="410.5" font-size="9.5" text-anchor="middle" fill="#333" stroke="#333" stroke-width="0.1">***</text>
<path d="M635.96,404 L635.99,405.45 L636.05,406.91 L636.12,408.37 L636.22,409.82 L636.36,411.27 L636.54,412.73 L636.77,414.19 L637.05,415.64 L637.39,417.1 L637.78,418.55 L638.21,420 L638.67,421.46 L639.14,422.92 L639.6,424.37 L640.02,425.82 L640.38,427.28 L640.65,428.74 L640.81,430.19 L640.85,431.64 L640.78,433.1 L640.63,434.56 L640.38,436.01 L640.07,437.46 L639.71,438.92 L639.3,440.38 L638.89,441.83 L638.47,443.28 L638.06,444.74 L637.69,446.19 L637.35,447.65 L637.05,449.11 L636.8,450.56 L636.59,452.01 L636.41,453.47 L636.28,454.93 L636.17,456.38 L636.09,457.83 L636.03,459.29 L635.99,460.75 L635.96,462.2 L635.84,462.2 L635.81,460.75 L635.77,459.29 L635.71,457.83 L635.63,456.38 L635.52,454.93 L635.39,453.47 L635.21,452.01 L635,450.56 L634.75,449.11 L634.45,447.65 L634.11,446.19 L633.74,444.74 L633.33,443.28 L632.91,441.83 L632.5,440.38 L632.09,438.92 L631.73,437.46 L631.42,436.01 L631.17,434.56 L631.02,433.1 L630.95,431.64 L630.99,430.19 L631.15,428.74 L631.42,427.28 L631.78,425.82 L632.2,424.37 L632.66,422.92 L633.13,421.46 L633.59,420 L634.02,418.55 L634.41,417.1 L634.75,415.64 L635.03,414.19 L635.26,412.73 L635.44,411.27 L635.58,409.82 L635.68,408.37 L635.75,406.91 L635.81,405.45 L635.84,404Z" fill="#f9d690" stroke="#3d3d3d" stroke-width="0.6" stroke-linejoin="round"/>
<line x1="635.9" y1="404.5" x2="635.9" y2="461.7" stroke="#4a4a4a" stroke-width="0.6"/>
<rect x="634.85" y="423" width="2.1" height="15" fill="white" stroke="#333" stroke-width="0.5"/>
<line x1="634.85" y1="431" x2="636.95" y2="431" stroke="#333" stroke-width="0.5"/>
<text x="635.9" y="399.1" font-size="9.5" text-anchor="middle" fill="#333" stroke="#333" stroke-width="0.1">***</text>
<line x1="506.4" y1="499.2" x2="635.9" y2="499.2" stroke="#777" stroke-width="0.7"/>
<line x1="506.4" y1="499.2" x2="506.4" y2="501.4" stroke="#777" stroke-width="0.7"/>
<line x1="520.8" y1="499.2" x2="520.8" y2="501.4" stroke="#777" stroke-width="0.7"/>
<line x1="535.4" y1="499.2" x2="535.4" y2="501.4" stroke="#777" stroke-width="0.7"/>
<line x1="549.8" y1="499.2" x2="549.8" y2="501.4" stroke="#777" stroke-width="0.7"/>
<line x1="564" y1="499.2" x2="564" y2="501.4" stroke="#777" stroke-width="0.7"/>
<line x1="578.3" y1="499.2" x2="578.3" y2="501.4" stroke="#777" stroke-width="0.7"/>
<line x1="592.7" y1="499.2" x2="592.7" y2="501.4" stroke="#777" stroke-width="0.7"/>
<line x1="607.3" y1="499.2" x2="607.3" y2="501.4" stroke="#777" stroke-width="0.7"/>
<line x1="621.7" y1="499.2" x2="621.7" y2="501.4" stroke="#777" stroke-width="0.7"/>
<line x1="635.9" y1="499.2" x2="635.9" y2="501.4" stroke="#777" stroke-width="0.7"/>
<text x="509.2" y="508" font-size="7.5" text-anchor="end" fill="#3a3a3a" stroke="#3a3a3a" stroke-width="0.1" transform="rotate(-45 509.2 508)">BFP</text>
<text x="523.6" y="508" font-size="7.5" text-anchor="end" fill="#3a3a3a" stroke="#3a3a3a" stroke-width="0.1" transform="rotate(-45 523.6 508)">Tnrc6b-SD</text>
<text x="538.2" y="508" font-size="7.5" text-anchor="end" fill="#3a3a3a" stroke="#3a3a3a" stroke-width="0.1" transform="rotate(-45 538.2 508)">Ncoa5</text>
<text x="552.6" y="508" font-size="7.5" text-anchor="end" fill="#3a3a3a" stroke="#3a3a3a" stroke-width="0.1" transform="rotate(-45 552.6 508)">Maco1</text>
<text x="566.8" y="508" font-size="7.5" text-anchor="end" fill="#3a3a3a" stroke="#3a3a3a" stroke-width="0.1" transform="rotate(-45 566.8 508)">Trim13</text>
<text x="581.1" y="508" font-size="7.5" text-anchor="end" fill="#3a3a3a" stroke="#3a3a3a" stroke-width="0.1" transform="rotate(-45 581.1 508)">Trim26</text>
<text x="595.5" y="508" font-size="7.5" text-anchor="end" fill="#3a3a3a" stroke="#3a3a3a" stroke-width="0.1" transform="rotate(-45 595.5 508)">Trim25</text>
<text x="610.1" y="508" font-size="7.5" text-anchor="end" fill="#3a3a3a" stroke="#3a3a3a" stroke-width="0.1" transform="rotate(-45 610.1 508)">Mib2</text>
<text x="624.5" y="508" font-size="7.5" text-anchor="end" fill="#3a3a3a" stroke="#3a3a3a" stroke-width="0.1" transform="rotate(-45 624.5 508)">Trim71dE1</text>
<text x="638.7" y="508" font-size="7.5" text-anchor="end" fill="#3a3a3a" stroke="#3a3a3a" stroke-width="0.1" transform="rotate(-45 638.7 508)">Tnip1</text>
<text x="538.9" y="494.8" font-size="7.8" text-anchor="middle" fill="#ea8c8c" stroke="#ea8c8c" stroke-width="0.1">1</text>
<text x="553.3" y="494.8" font-size="7.8" text-anchor="middle" fill="#ea8c8c" stroke="#ea8c8c" stroke-width="0.1">2</text>
<text x="567.5" y="494.8" font-size="7.8" text-anchor="middle" fill="#ea8c8c" stroke="#ea8c8c" stroke-width="0.1">3</text>
<text x="581.8" y="494.8" font-size="7.8" text-anchor="middle" fill="#ea8c8c" stroke="#ea8c8c" stroke-width="0.1">4</text>
<text x="596.2" y="494.8" font-size="7.8" text-anchor="middle" fill="#ea8c8c" stroke="#ea8c8c" stroke-width="0.1">5</text>
<text x="610.8" y="494.8" font-size="7.8" text-anchor="middle" fill="#ea8c8c" stroke="#ea8c8c" stroke-width="0.1">6</text>
<text x="625.2" y="494.8" font-size="7.8" text-anchor="middle" fill="#ea8c8c" stroke="#ea8c8c" stroke-width="0.1">7</text>
<text x="639.4" y="494.8" font-size="7.8" text-anchor="middle" fill="#ea8c8c" stroke="#ea8c8c" stroke-width="0.1">8</text>
<text x="594.3" y="485" font-size="6.3" fill="#333">***<tspan font-style="italic">P</tspan> ≤ 2.2 × 10<tspan font-size="4" dy="-2.5">−308</tspan></text>
<text x="2.4" y="563.7" font-size="13.5" text-anchor="start" fill="#111" font-weight="bold">e</text>
<text x="33.7" y="584" font-size="8.4" text-anchor="start" fill="#333" stroke="#333" stroke-width="0.1">OsTir1</text>
<text x="18" y="597.7" font-size="8.4" text-anchor="start" fill="#333" stroke="#333" stroke-width="0.1">AID</text>
<path d="M26,601.5 C29,598.5 35,598 38.5,599.5 L38.5,605.5 C35,606 30,606 27,605 Z" fill="#c4c4c4" stroke="#777" stroke-width="0.5"/>
<path d="M38.3,599.2 A7,7 0 1 1 38.3,604.8 L40.6,602 Z" fill="#c8c8c8" stroke="#777" stroke-width="0.5"/>
<ellipse cx="18.5" cy="610" rx="16.2" ry="9.4" fill="#b67fb8" stroke="#5e3a60" stroke-width="0.6"/>
<text x="18.5" y="613" font-size="8.4" text-anchor="middle" fill="#3a243b" stroke="#3a243b" stroke-width="0.1">Zfp574</text>
<text x="58" y="599.7" font-size="8.4" text-anchor="start" fill="#333" stroke="#333" stroke-width="0.1">+IAA</text>
<path d="M64.7,601.7 L67.5,604.5 L64.7,607.3 L61.9,604.5 Z" fill="#e07c7c" stroke="#b45050" stroke-width="0.4"/>
<line x1="54" y1="610" x2="72.5" y2="610" stroke="#5a7593" stroke-width="0.8"/>
<path d="M74.5,610 L71,608.2 L71,611.8 Z" fill="#5a7593"/>
<ellipse cx="84.5" cy="602.6" rx="4.6" ry="1.6" fill="#ddb6dd" stroke="#9a6a9a" stroke-width="0.35" stroke-dasharray="1.5,2.5"/>
<path d="M79.5,608 Q84,605.8 89.4,607.5 L89.4,611 Q87.5,612.5 86,615.7 Q82,615 81,612 Q79,611 79.5,608 Z" fill="#ddb6dd"/>
<path d="M89.8,606.5 Q92,604.3 96.5,605.2 Q99.5,607 98.8,612 Q96.5,615 93.5,615 Q91.5,612.5 89.8,611 Z" fill="#ddb6dd"/>
<ellipse cx="80" cy="615.2" rx="3.6" ry="1.3" fill="#ddb6dd" transform="rotate(45 80 615.2)"/>
<ellipse cx="89.8" cy="617.8" rx="1.7" ry="3.8" fill="#ddb6dd"/>
<ellipse cx="99.4" cy="615.2" rx="3.2" ry="1.2" fill="#ddb6dd" transform="rotate(-40 99.4 615.2)"/>
<line x1="81" y1="601.5" x2="83" y2="601.3" stroke="#9a6a9a" stroke-width="0.6"/>
<line x1="86" y1="601.3" x2="88" y2="602" stroke="#9a6a9a" stroke-width="0.6"/>
<line x1="81" y1="607" x2="83" y2="606.3" stroke="#9a6a9a" stroke-width="0.6"/>
<line x1="92" y1="605" x2="94" y2="604.6" stroke="#9a6a9a" stroke-width="0.6"/>
<line x1="96.5" y1="606" x2="98" y2="607.5" stroke="#9a6a9a" stroke-width="0.6"/>
<line x1="78.8" y1="613.5" x2="80" y2="614.5" stroke="#9a6a9a" stroke-width="0.6"/>
<line x1="89" y1="614.5" x2="90.5" y2="614.5" stroke="#9a6a9a" stroke-width="0.6"/>
<line x1="88.5" y1="621.2" x2="91" y2="621.2" stroke="#9a6a9a" stroke-width="0.6"/>
<line x1="98" y1="613.5" x2="100.5" y2="613" stroke="#9a6a9a" stroke-width="0.6"/>
<circle cx="96.4" cy="600.8" r="1.2" fill="#cfcfcf" stroke="none" stroke-width="0"/>
<path d="M97.5,603.5 L99,605.5 L100.5,603.8 L102,605.6 L103.5,603.5" fill="none" stroke="#c8c8c8" stroke-width="0.9"/>
<text x="54" y="639.4" font-size="8.4" text-anchor="start" fill="#333" stroke="#333" stroke-width="0.1">+IAA</text>
<line x1="34.2" y1="643.3" x2="88.7" y2="643.3" stroke="#555" stroke-width="0.6"/>
<text x="41.5" y="651.2" font-size="8.2" text-anchor="middle" fill="#333" stroke="#333" stroke-width="0.1">0 h</text>
<text x="60.3" y="651.2" font-size="8.2" text-anchor="middle" fill="#333" stroke="#333" stroke-width="0.1">1 h</text>
<text x="82" y="651.2" font-size="8.2" text-anchor="middle" fill="#333" stroke="#333" stroke-width="0.1">3 h</text>
<text x="2.4" y="653.5" font-size="8.4" text-anchor="start" fill="#333" stroke="#333" stroke-width="0.1">Zfp574</text>
<defs><filter id="bl" x="-30%" y="-100%" width="160%" height="300%"><feGaussianBlur stdDeviation="0.6"/></filter></defs>
<rect x="15.2" y="656.4" width="78.2" height="18" fill="#e8e8e8" stroke="#4a4a4a" stroke-width="0.8"/>
<path d="M34.8,664.5 Q41,662.5 48.5,664.6 L49,666.8 Q42,668.5 35,667.5 Z" fill="#2a2a2a" filter="url(#bl)"/>
<ellipse cx="61" cy="666.5" rx="6" ry="1.2" fill="#dcdcdc"/>
<ellipse cx="81" cy="667" rx="6" ry="1.3" fill="#dedede"/>
<text x="16.5" y="672.7" font-size="7.6" text-anchor="start" fill="#333" stroke="#333" stroke-width="0.1">130 kDa</text>
<text x="2.4" y="681.8" font-size="8.2" text-anchor="start" fill="#333" stroke="#333" stroke-width="0.1">β-Tubulin</text>
<rect x="15.2" y="684.2" width="78.2" height="18.5" fill="#e8e8e8" stroke="#4a4a4a" stroke-width="0.8"/>
<rect x="34.2" y="690.2" width="14.6" height="2.9" rx="1.3" fill="#333" filter="url(#bl)"/>
<rect x="53.8" y="690.9" width="14.8" height="2.9" rx="1.3" fill="#363636" filter="url(#bl)"/>
<rect x="74.2" y="691.6" width="15" height="2.9" rx="1.3" fill="#363636" filter="url(#bl)"/>
<ellipse cx="22" cy="690.5" rx="4" ry="1.5" fill="#dadada"/>
<text x="16.5" y="700.6" font-size="7.6" text-anchor="start" fill="#333" stroke="#333" stroke-width="0.1">55 kDa</text>
<text x="117" y="563.5" font-size="13.5" text-anchor="start" fill="#111" font-weight="bold">f</text>
<line x1="155.6" y1="584.7" x2="155.6" y2="668" stroke="#777" stroke-width="0.7"/>
<line x1="153.4" y1="584.7" x2="155.6" y2="584.7" stroke="#777" stroke-width="0.7"/>
<text x="152.4" y="587.5" font-size="7.8" text-anchor="end" fill="#3a3a3a" stroke="#3a3a3a" stroke-width="0.1">1.00</text>
<line x1="153.4" y1="605.52" x2="155.6" y2="605.52" stroke="#777" stroke-width="0.7"/>
<text x="152.4" y="608.32" font-size="7.8" text-anchor="end" fill="#3a3a3a" stroke="#3a3a3a" stroke-width="0.1">0.75</text>
<line x1="153.4" y1="626.35" x2="155.6" y2="626.35" stroke="#777" stroke-width="0.7"/>
<text x="152.4" y="629.15" font-size="7.8" text-anchor="end" fill="#3a3a3a" stroke="#3a3a3a" stroke-width="0.1">0.50</text>
<line x1="153.4" y1="647.17" x2="155.6" y2="647.17" stroke="#777" stroke-width="0.7"/>
<text x="152.4" y="649.97" font-size="7.8" text-anchor="end" fill="#3a3a3a" stroke="#3a3a3a" stroke-width="0.1">0.25</text>
<line x1="153.4" y1="668" x2="155.6" y2="668" stroke="#777" stroke-width="0.7"/>
<text x="152.4" y="670.8" font-size="7.8" text-anchor="end" fill="#3a3a3a" stroke="#3a3a3a" stroke-width="0.1">0</text>
<line x1="162.5" y1="680" x2="225.9" y2="680" stroke="#777" stroke-width="0.7"/>
<line x1="162.5" y1="680" x2="162.5" y2="677.5" stroke="#777" stroke-width="0.7"/>
<text x="162.5" y="691.2" font-size="7.8" text-anchor="middle" fill="#3a3a3a" stroke="#3a3a3a" stroke-width="0.1">0</text>
<line x1="178.35" y1="680" x2="178.35" y2="677.5" stroke="#777" stroke-width="0.7"/>
<text x="178.35" y="691.2" font-size="7.8" text-anchor="middle" fill="#3a3a3a" stroke="#3a3a3a" stroke-width="0.1">1</text>
<line x1="194.2" y1="680" x2="194.2" y2="677.5" stroke="#777" stroke-width="0.7"/>
<text x="194.2" y="691.2" font-size="7.8" text-anchor="middle" fill="#3a3a3a" stroke="#3a3a3a" stroke-width="0.1">2</text>
<line x1="210.05" y1="680" x2="210.05" y2="677.5" stroke="#777" stroke-width="0.7"/>
<text x="210.05" y="691.2" font-size="7.8" text-anchor="middle" fill="#3a3a3a" stroke="#3a3a3a" stroke-width="0.1">3</text>
<line x1="225.9" y1="680" x2="225.9" y2="677.5" stroke="#777" stroke-width="0.7"/>
<text x="225.9" y="691.2" font-size="7.8" text-anchor="middle" fill="#3a3a3a" stroke="#3a3a3a" stroke-width="0.1">4</text>
<text x="193.8" y="705.6" font-size="8.9" text-anchor="middle" fill="#3a3a3a" stroke="#3a3a3a" stroke-width="0.1">Time (days)</text>
<text x="125" y="627" font-size="9.3" text-anchor="middle" fill="#3a3a3a" transform="rotate(-90 125 627)">Normalized fraction of cells</text>
<polyline points="162.5,626.35 178.35,624.68 194.2,626.35 210.05,627.18 225.9,629.68" fill="none" stroke="#c9c9c9" stroke-width="1.2"/>
<polyline points="162.5,626.35 178.35,624.68 194.2,626.35 210.05,626.77 225.9,629.27" fill="none" stroke="#c9c9c9" stroke-width="1.2"/>
<polyline points="162.5,626.35 178.35,626.35 194.2,633.01 210.05,638.85 225.9,645.51" fill="none" stroke="#e27b7b" stroke-width="0.7"/>
<polyline points="162.5,625.52 178.35,624.27 194.2,629.68 210.05,638.43 225.9,644.26" fill="none" stroke="#e27b7b" stroke-width="0.7"/>
<rect x="160.8" y="624.65" width="3.4" height="3.4" fill="#c9c9c9" stroke="none" stroke-width="0"/>
<path d="M162.5,623.71 L165.14,628.33 L159.86,628.33 Z" fill="#c9c9c9"/>
<rect x="176.65" y="622.98" width="3.4" height="3.4" fill="#c9c9c9" stroke="none" stroke-width="0"/>
<path d="M178.35,622.04 L180.99,626.66 L175.71,626.66 Z" fill="#c9c9c9"/>
<rect x="192.5" y="624.65" width="3.4" height="3.4" fill="#c9c9c9" stroke="none" stroke-width="0"/>
<path d="M194.2,623.71 L196.84,628.33 L191.56,628.33 Z" fill="#c9c9c9"/>
<rect x="208.35" y="625.48" width="3.4" height="3.4" fill="#c9c9c9" stroke="none" stroke-width="0"/>
<path d="M210.05,624.13 L212.69,628.75 L207.41,628.75 Z" fill="#c9c9c9"/>
<rect x="224.2" y="627.98" width="3.4" height="3.4" fill="#c9c9c9" stroke="none" stroke-width="0"/>
<path d="M225.9,626.63 L228.54,631.25 L223.26,631.25 Z" fill="#c9c9c9"/>
<rect x="160.8" y="624.65" width="3.4" height="3.4" fill="#e27b7b" stroke="none" stroke-width="0"/>
<path d="M162.5,622.88 L165.14,627.5 L159.86,627.5 Z" fill="#e27b7b"/>
<rect x="176.65" y="624.65" width="3.4" height="3.4" fill="#e27b7b" stroke="none" stroke-width="0"/>
<path d="M178.35,621.63 L180.99,626.25 L175.71,626.25 Z" fill="#e27b7b"/>
<rect x="192.5" y="631.31" width="3.4" height="3.4" fill="#e27b7b" stroke="none" stroke-width="0"/>
<path d="M194.2,627.04 L196.84,631.66 L191.56,631.66 Z" fill="#e27b7b"/>
<rect x="208.35" y="637.14" width="3.4" height="3.4" fill="#e27b7b" stroke="none" stroke-width="0"/>
<path d="M210.05,635.79 L212.69,640.41 L207.41,640.41 Z" fill="#e27b7b"/>
<rect x="224.2" y="643.81" width="3.4" height="3.4" fill="#e27b7b" stroke="none" stroke-width="0"/>
<path d="M225.9,641.62 L228.54,646.24 L223.26,646.24 Z" fill="#e27b7b"/>
<rect x="160.3" y="583" width="3.4" height="3.4" fill="#c9c9c9" stroke="none" stroke-width="0"/>
<path d="M168.9,582.26 L171.54,586.88 L166.26,586.88 Z" fill="#c9c9c9"/>
<text x="176" y="587.6" font-size="8.4" text-anchor="start" fill="#333" stroke="#333" stroke-width="0.1">−IAA</text>
<rect x="160.3" y="595.1" width="3.4" height="3.4" fill="#e27b7b" stroke="none" stroke-width="0"/>
<path d="M168.9,594.36 L171.54,598.98 L166.26,598.98 Z" fill="#e27b7b"/>
<text x="176" y="599.8" font-size="8.4" text-anchor="start" fill="#333" stroke="#333" stroke-width="0.1">+IAA</text>
<text x="241.5" y="563.5" font-size="13.5" text-anchor="start" fill="#111" font-weight="bold">g</text>
<line x1="273.6" y1="591" x2="273.6" y2="666.3" stroke="#777" stroke-width="0.7"/>
<line x1="271.4" y1="591" x2="273.6" y2="591" stroke="#777" stroke-width="0.7"/>
<text x="268.8" y="593.8" font-size="7.8" text-anchor="end" fill="#3a3a3a" stroke="#3a3a3a" stroke-width="0.1">2</text>
<line x1="271.4" y1="616.1" x2="273.6" y2="616.1" stroke="#777" stroke-width="0.7"/>
<text x="268.8" y="618.9" font-size="7.8" text-anchor="end" fill="#3a3a3a" stroke="#3a3a3a" stroke-width="0.1">0</text>
<line x1="271.4" y1="641.2" x2="273.6" y2="641.2" stroke="#777" stroke-width="0.7"/>
<text x="268.8" y="644" font-size="7.8" text-anchor="end" fill="#3a3a3a" stroke="#3a3a3a" stroke-width="0.1">−2</text>
<line x1="271.4" y1="666.3" x2="273.6" y2="666.3" stroke="#777" stroke-width="0.7"/>
<text x="268.8" y="669.1" font-size="7.8" text-anchor="end" fill="#3a3a3a" stroke="#3a3a3a" stroke-width="0.1">−4</text>
<text x="249.8" y="628.6" font-size="9.4" text-anchor="middle" fill="#3a3a3a" transform="rotate(-90 249.8 628.6)">Fold change (log<tspan font-size="5.8" dy="1.8">2</tspan><tspan dy="-1.8">)</tspan></text>
<line x1="285.2" y1="680" x2="371.2" y2="680" stroke="#777" stroke-width="0.7"/>
<line x1="285.2" y1="680" x2="285.2" y2="677.5" stroke="#777" stroke-width="0.7"/>
<line x1="302.7" y1="680" x2="302.7" y2="677.5" stroke="#777" stroke-width="0.7"/>
<line x1="319.9" y1="680" x2="319.9" y2="677.5" stroke="#777" stroke-width="0.7"/>
<line x1="337.3" y1="680" x2="337.3" y2="677.5" stroke="#777" stroke-width="0.7"/>
<line x1="354.5" y1="680" x2="354.5" y2="677.5" stroke="#777" stroke-width="0.7"/>
<line x1="371.2" y1="680" x2="371.2" y2="677.5" stroke="#777" stroke-width="0.7"/>
<text x="302.7" y="691" font-size="7.4" text-anchor="middle" fill="#3a3a3a">1.0 × 10<tspan font-size="4.6" dy="-2.6">1</tspan></text>
<text x="337.3" y="691" font-size="7.4" text-anchor="middle" fill="#3a3a3a">1.0 × 10<tspan font-size="4.6" dy="-2.6">3</tspan></text>
<text x="371.2" y="691" font-size="7.4" text-anchor="middle" fill="#3a3a3a">1.0 × 10<tspan font-size="4.6" dy="-2.6">5</tspan></text>
<text x="328" y="705" font-size="8.9" text-anchor="middle" fill="#3a3a3a" stroke="#3a3a3a" stroke-width="0.1">Mean expression</text>
<g fill="#cdd1d1"><circle cx="325.44" cy="611.5" r="0.8"/><circle cx="291.52" cy="623.89" r="0.8"/><circle cx="351.53" cy="616.13" r="0.8"/><circle cx="319.45" cy="620.4" r="0.8"/><circle cx="319.87" cy="614.11" r="0.8"/><circle cx="346.9" cy="615.21" r="0.8"/><circle cx="338.15" cy="615.59" r="0.8"/><circle cx="327.79" cy="614.68" r="0.8"/><circle cx="289.14" cy="621.59" r="0.8"/><circle cx="347.64" cy="614.39" r="0.8"/><circle cx="350.56" cy="613.78" r="0.8"/><circle cx="351.56" cy="617.91" r="0.8"/><circle cx="293.72" cy="620" r="0.8"/><circle cx="317.1" cy="619.39" r="0.8"/><circle cx="307.77" cy="609.04" r="0.8"/><circle cx="327.37" cy="615.98" r="0.8"/><circle cx="349.39" cy="614.41" r="0.8"/><circle cx="355.38" cy="614.16" r="0.8"/><circle cx="298.25" cy="630.28" r="0.8"/><circle cx="326.27" cy="606.39" r="0.8"/><circle cx="301.57" cy="621.37" r="0.8"/><circle cx="282.65" cy="611.34" r="0.8"/><circle cx="355.3" cy="617.7" r="0.8"/><circle cx="297.4" cy="624.37" r="0.8"/><circle cx="345.42" cy="616.72" r="0.8"/><circle cx="290.1" cy="614.6" r="0.8"/><circle cx="309.84" cy="630.58" r="0.8"/><circle cx="355.9" cy="614.49" r="0.8"/><circle cx="292.31" cy="614.58" r="0.8"/><circle cx="313.31" cy="615.23" r="0.8"/><circle cx="297.78" cy="632.82" r="0.8"/><circle cx="353.15" cy="616.9" r="0.8"/><circle cx="313.07" cy="608.49" r="0.8"/><circle cx="328.1" cy="617.61" r="0.8"/><circle cx="329.79" cy="621.21" r="0.8"/><circle cx="336.7" cy="614.6" r="0.8"/><circle cx="303.8" cy="625.55" r="0.8"/><circle cx="287.79" cy="615.09" r="0.8"/><circle cx="327.02" cy="622.86" r="0.8"/><circle cx="291.15" cy="617.53" r="0.8"/><circle cx="319.17" cy="613.88" r="0.8"/><circle cx="337.92" cy="613.21" r="0.8"/><circle cx="282.39" cy="611.39" r="0.8"/><circle cx="317.61" cy="602.46" r="0.8"/><circle cx="309.08" cy="612.17" r="0.8"/><circle cx="328.1" cy="619.29" r="0.8"/><circle cx="313.02" cy="616.41" r="0.8"/><circle cx="337.73" cy="615.37" r="0.8"/><circle cx="302.36" cy="618.15" r="0.8"/><circle cx="315.74" cy="611.87" r="0.8"/><circle cx="294.03" cy="612.92" r="0.8"/><circle cx="317.25" cy="621.08" r="0.8"/><circle cx="298.68" cy="609.85" r="0.8"/><circle cx="318.13" cy="623.53" r="0.8"/><circle cx="287.76" cy="611.99" r="0.8"/><circle cx="344.85" cy="615.89" r="0.8"/><circle cx="301.79" cy="620.26" r="0.8"/><circle cx="310.82" cy="607" r="0.8"/><circle cx="302.98" cy="617.91" r="0.8"/><circle cx="315.77" cy="611.45" r="0.8"/><circle cx="315.26" cy="619.41" r="0.8"/><circle cx="360.95" cy="616.03" r="0.8"/><circle cx="355.1" cy="613.92" r="0.8"/><circle cx="302.32" cy="624.03" r="0.8"/><circle cx="344.73" cy="614.57" r="0.8"/><circle cx="307.36" cy="608.64" r="0.8"/><circle cx="283.06" cy="613.11" r="0.8"/><circle cx="290.11" cy="612.98" r="0.8"/><circle cx="334.87" cy="623.6" r="0.8"/><circle cx="326.81" cy="611.42" r="0.8"/><circle cx="343.33" cy="617.31" r="0.8"/><circle cx="323.22" cy="620.15" r="0.8"/><circle cx="351.79" cy="615.14" r="0.8"/><circle cx="353.69" cy="615.47" r="0.8"/><circle cx="340.98" cy="614.95" r="0.8"/><circle cx="343.36" cy="617.68" r="0.8"/><circle cx="347.46" cy="619.67" r="0.8"/><circle cx="287.52" cy="610.67" r="0.8"/><circle cx="346.52" cy="617.95" r="0.8"/><circle cx="323.93" cy="617.48" r="0.8"/><circle cx="319.63" cy="616.26" r="0.8"/><circle cx="288.29" cy="615.8" r="0.8"/><circle cx="283.09" cy="624.81" r="0.8"/><circle cx="321.69" cy="614.49" r="0.8"/><circle cx="308.71" cy="610.08" r="0.8"/><circle cx="311.9" cy="624" r="0.8"/><circle cx="306.26" cy="622.97" r="0.8"/><circle cx="313.24" cy="622.05" r="0.8"/><circle cx="292.89" cy="608.52" r="0.8"/><circle cx="313.24" cy="622.57" r="0.8"/><circle cx="329.98" cy="612.25" r="0.8"/><circle cx="335.5" cy="617.74" r="0.8"/><circle cx="334.89" cy="613.36" r="0.8"/><circle cx="334.97" cy="616.91" r="0.8"/><circle cx="314.82" cy="604.55" r="0.8"/><circle cx="312.82" cy="622.3" r="0.8"/><circle cx="341.57" cy="615.94" r="0.8"/><circle cx="349.38" cy="618.3" r="0.8"/><circle cx="348.23" cy="617" r="0.8"/><circle cx="325.91" cy="609.06" r="0.8"/><circle cx="329.31" cy="618.75" r="0.8"/><circle cx="290.06" cy="616.33" r="0.8"/><circle cx="285.84" cy="618.82" r="0.8"/><circle cx="351.9" cy="615.56" r="0.8"/><circle cx="352.11" cy="614.91" r="0.8"/><circle cx="326.96" cy="608" r="0.8"/><circle cx="289.5" cy="617.15" r="0.8"/><circle cx="294.37" cy="606.19" r="0.8"/><circle cx="351.48" cy="617.48" r="0.8"/><circle cx="344.14" cy="617.09" r="0.8"/><circle cx="293" cy="616.2" r="0.8"/><circle cx="314.17" cy="625.08" r="0.8"/><circle cx="314.37" cy="612.28" r="0.8"/><circle cx="321.53" cy="620.83" r="0.8"/><circle cx="315.49" cy="616.14" r="0.8"/><circle cx="339.17" cy="614.19" r="0.8"/><circle cx="322.68" cy="608.53" r="0.8"/><circle cx="297.3" cy="617.46" r="0.8"/><circle cx="343.59" cy="619.08" r="0.8"/><circle cx="336.6" cy="613.96" r="0.8"/><circle cx="300.79" cy="619.61" r="0.8"/><circle cx="303.03" cy="626.13" r="0.8"/><circle cx="352.79" cy="615.59" r="0.8"/><circle cx="345.9" cy="619.81" r="0.8"/><circle cx="305.43" cy="616.53" r="0.8"/><circle cx="313.41" cy="617.58" r="0.8"/><circle cx="309.08" cy="610.85" r="0.8"/><circle cx="365.22" cy="616.78" r="0.8"/><circle cx="328.33" cy="607.47" r="0.8"/><circle cx="325.44" cy="618.11" r="0.8"/><circle cx="336.73" cy="618.52" r="0.8"/><circle cx="353.26" cy="615.17" r="0.8"/><circle cx="302.84" cy="617.4" r="0.8"/><circle cx="353.15" cy="618.28" r="0.8"/><circle cx="303.7" cy="618.43" r="0.8"/><circle cx="339.72" cy="618.6" r="0.8"/><circle cx="349.08" cy="616.08" r="0.8"/><circle cx="316.21" cy="628.51" r="0.8"/><circle cx="292.93" cy="628.98" r="0.8"/><circle cx="308.74" cy="623.63" r="0.8"/><circle cx="333.61" cy="619.87" r="0.8"/><circle cx="320.53" cy="616.42" r="0.8"/><circle cx="329.07" cy="620.61" r="0.8"/><circle cx="295.22" cy="613.82" r="0.8"/><circle cx="336.22" cy="622.16" r="0.8"/><circle cx="293.69" cy="627.4" r="0.8"/><circle cx="312.82" cy="617.76" r="0.8"/><circle cx="337.15" cy="610.13" r="0.8"/><circle cx="342.62" cy="615.72" r="0.8"/><circle cx="333.42" cy="623.01" r="0.8"/><circle cx="294.82" cy="608.27" r="0.8"/><circle cx="333.82" cy="616.34" r="0.8"/><circle cx="299.56" cy="609.03" r="0.8"/><circle cx="356.2" cy="615.23" r="0.8"/><circle cx="295.5" cy="620.56" r="0.8"/><circle cx="336.71" cy="615.35" r="0.8"/><circle cx="325.29" cy="612.84" r="0.8"/><circle cx="299.17" cy="608.78" r="0.8"/><circle cx="340.71" cy="616.31" r="0.8"/><circle cx="311.79" cy="607.78" r="0.8"/><circle cx="311.12" cy="617.59" r="0.8"/><circle cx="304.06" cy="614.57" r="0.8"/><circle cx="311.43" cy="612.77" r="0.8"/><circle cx="340.25" cy="619.08" r="0.8"/><circle cx="345.43" cy="617.7" r="0.8"/><circle cx="287.03" cy="619.41" r="0.8"/><circle cx="337.18" cy="617.14" r="0.8"/><circle cx="338.29" cy="618.28" r="0.8"/><circle cx="338.66" cy="614.57" r="0.8"/><circle cx="300.36" cy="613.67" r="0.8"/><circle cx="326.22" cy="617.31" r="0.8"/><circle cx="289.08" cy="621.39" r="0.8"/><circle cx="348.49" cy="618.08" r="0.8"/><circle cx="327.23" cy="614.71" r="0.8"/><circle cx="354.41" cy="615.83" r="0.8"/><circle cx="320.4" cy="611.81" r="0.8"/><circle cx="337.15" cy="622.45" r="0.8"/><circle cx="320.94" cy="616.34" r="0.8"/><circle cx="318.78" cy="618.69" r="0.8"/><circle cx="321.54" cy="622.54" r="0.8"/><circle cx="317.65" cy="602.38" r="0.8"/><circle cx="296.36" cy="607.28" r="0.8"/><circle cx="330.01" cy="620.23" r="0.8"/><circle cx="283.93" cy="617.62" r="0.8"/><circle cx="351.16" cy="614.75" r="0.8"/><circle cx="296.27" cy="632.08" r="0.8"/><circle cx="328.48" cy="622.85" r="0.8"/><circle cx="310.71" cy="611.37" r="0.8"/><circle cx="351.29" cy="617.3" r="0.8"/><circle cx="320.47" cy="611.58" r="0.8"/><circle cx="280.8" cy="618.32" r="0.8"/><circle cx="321.25" cy="617.94" r="0.8"/><circle cx="324.08" cy="609.55" r="0.8"/><circle cx="319.04" cy="620.15" r="0.8"/><circle cx="314.7" cy="621.95" r="0.8"/><circle cx="312.32" cy="629.14" r="0.8"/><circle cx="323.52" cy="613.12" r="0.8"/><circle cx="295.6" cy="612.67" r="0.8"/><circle cx="296.9" cy="610.66" r="0.8"/><circle cx="292.2" cy="617.5" r="0.8"/><circle cx="298.61" cy="620.22" r="0.8"/><circle cx="320.63" cy="616.67" r="0.8"/><circle cx="279" cy="613.36" r="0.8"/><circle cx="290.53" cy="618.67" r="0.8"/><circle cx="314.37" cy="632.56" r="0.8"/><circle cx="285.39" cy="618.58" r="0.8"/><circle cx="298.37" cy="610.58" r="0.8"/><circle cx="281.62" cy="613.7" r="0.8"/><circle cx="305.98" cy="618.17" r="0.8"/><circle cx="307.74" cy="608.3" r="0.8"/><circle cx="300.66" cy="620.76" r="0.8"/><circle cx="293.47" cy="605.59" r="0.8"/><circle cx="353.88" cy="616.11" r="0.8"/><circle cx="285.06" cy="615.95" r="0.8"/><circle cx="280.26" cy="620.87" r="0.8"/><circle cx="300.85" cy="620.16" r="0.8"/><circle cx="319.9" cy="620.41" r="0.8"/><circle cx="289.36" cy="600.95" r="0.8"/><circle cx="328.88" cy="618.07" r="0.8"/><circle cx="352.64" cy="616" r="0.8"/><circle cx="311.7" cy="611.06" r="0.8"/><circle cx="299.05" cy="627.15" r="0.8"/><circle cx="337.64" cy="618.53" r="0.8"/><circle cx="312.03" cy="608.9" r="0.8"/><circle cx="302.83" cy="617.87" r="0.8"/><circle cx="292.11" cy="607.33" r="0.8"/><circle cx="328.79" cy="615.08" r="0.8"/><circle cx="297.62" cy="607.96" r="0.8"/><circle cx="288.58" cy="604.72" r="0.8"/><circle cx="293.7" cy="619.07" r="0.8"/><circle cx="352.09" cy="614.31" r="0.8"/><circle cx="318.04" cy="606.71" r="0.8"/><circle cx="337.57" cy="614.47" r="0.8"/><circle cx="312.54" cy="621.72" r="0.8"/><circle cx="294.24" cy="612.52" r="0.8"/><circle cx="334.77" cy="615.4" r="0.8"/><circle cx="281.34" cy="619.33" r="0.8"/><circle cx="287.8" cy="623.97" r="0.8"/><circle cx="363.09" cy="616.32" r="0.8"/><circle cx="340.9" cy="620.2" r="0.8"/><circle cx="341.42" cy="614.26" r="0.8"/><circle cx="284.04" cy="615.51" r="0.8"/><circle cx="294.76" cy="638.12" r="0.8"/><circle cx="356.5" cy="616.53" r="0.8"/><circle cx="318.41" cy="618.08" r="0.8"/><circle cx="331.28" cy="624.25" r="0.8"/><circle cx="347.15" cy="614.49" r="0.8"/><circle cx="294.66" cy="625.7" r="0.8"/><circle cx="328.01" cy="617.47" r="0.8"/><circle cx="319.03" cy="612.58" r="0.8"/><circle cx="292.33" cy="611.01" r="0.8"/><circle cx="326.19" cy="620.89" r="0.8"/><circle cx="316.18" cy="611.19" r="0.8"/><circle cx="308.2" cy="608.31" r="0.8"/><circle cx="310.13" cy="613.56" r="0.8"/><circle cx="291.71" cy="617.58" r="0.8"/><circle cx="337.12" cy="623.75" r="0.8"/><circle cx="351.26" cy="612.88" r="0.8"/><circle cx="315.89" cy="628.88" r="0.8"/><circle cx="320.41" cy="612.29" r="0.8"/><circle cx="315.08" cy="630.37" r="0.8"/><circle cx="360.14" cy="616.18" r="0.8"/><circle cx="285.53" cy="615.4" r="0.8"/><circle cx="331.11" cy="612.61" r="0.8"/><circle cx="343.32" cy="615.72" r="0.8"/><circle cx="338.2" cy="619.89" r="0.8"/><circle cx="306.82" cy="621.16" r="0.8"/><circle cx="292.35" cy="620.25" r="0.8"/><circle cx="344.88" cy="614.05" r="0.8"/><circle cx="347.45" cy="610.54" r="0.8"/><circle cx="298.13" cy="612.59" r="0.8"/><circle cx="324.4" cy="621.53" r="0.8"/><circle cx="345.84" cy="615.61" r="0.8"/><circle cx="342.69" cy="619.35" r="0.8"/><circle cx="298.59" cy="616.62" r="0.8"/><circle cx="324.25" cy="615.51" r="0.8"/><circle cx="298.44" cy="621.64" r="0.8"/><circle cx="319.14" cy="617.42" r="0.8"/><circle cx="341.2" cy="617.03" r="0.8"/><circle cx="278.17" cy="616.11" r="0.8"/><circle cx="310.34" cy="624.45" r="0.8"/><circle cx="304.73" cy="619.25" r="0.8"/><circle cx="348.39" cy="614.83" r="0.8"/><circle cx="315.23" cy="618.6" r="0.8"/><circle cx="333.59" cy="622.51" r="0.8"/><circle cx="289.07" cy="609.39" r="0.8"/><circle cx="341.48" cy="610.41" r="0.8"/><circle cx="306.29" cy="615.42" r="0.8"/><circle cx="278.52" cy="612.54" r="0.8"/><circle cx="319.26" cy="606.55" r="0.8"/><circle cx="351.07" cy="617.06" r="0.8"/><circle cx="322.77" cy="609.5" r="0.8"/><circle cx="293.28" cy="605.94" r="0.8"/><circle cx="315.16" cy="598.29" r="0.8"/><circle cx="318.39" cy="618.31" r="0.8"/><circle cx="297.72" cy="607.3" r="0.8"/><circle cx="323.02" cy="607.35" r="0.8"/><circle cx="351.26" cy="617.84" r="0.8"/><circle cx="289.11" cy="608.11" r="0.8"/><circle cx="306.31" cy="611.95" r="0.8"/><circle cx="349.9" cy="618.34" r="0.8"/><circle cx="322.52" cy="621.01" r="0.8"/><circle cx="353.26" cy="615.67" r="0.8"/><circle cx="299.5" cy="611.89" r="0.8"/><circle cx="344.14" cy="615.34" r="0.8"/><circle cx="352.12" cy="617.27" r="0.8"/><circle cx="314.08" cy="615.52" r="0.8"/><circle cx="364.24" cy="616.42" r="0.8"/><circle cx="297.45" cy="617.28" r="0.8"/><circle cx="338.27" cy="617.56" r="0.8"/><circle cx="330.55" cy="616.39" r="0.8"/><circle cx="362.54" cy="616.15" r="0.8"/><circle cx="300.82" cy="609.79" r="0.8"/><circle cx="290.25" cy="616.83" r="0.8"/><circle cx="362.22" cy="616.92" r="0.8"/><circle cx="365.36" cy="616.82" r="0.8"/><circle cx="331.64" cy="617.1" r="0.8"/><circle cx="299.15" cy="618.39" r="0.8"/><circle cx="350.22" cy="616.59" r="0.8"/><circle cx="323.9" cy="615.03" r="0.8"/><circle cx="294.39" cy="597" r="0.8"/><circle cx="288.69" cy="629.44" r="0.8"/><circle cx="288.29" cy="607.11" r="0.8"/><circle cx="294.09" cy="631.03" r="0.8"/><circle cx="355.79" cy="616.88" r="0.8"/><circle cx="352.61" cy="616.07" r="0.8"/><circle cx="335.54" cy="615.89" r="0.8"/><circle cx="338.62" cy="616.86" r="0.8"/><circle cx="326.25" cy="610.21" r="0.8"/><circle cx="323.88" cy="617.65" r="0.8"/><circle cx="300.83" cy="600.46" r="0.8"/><circle cx="299.38" cy="605.35" r="0.8"/><circle cx="344.96" cy="617.19" r="0.8"/><circle cx="281.72" cy="618.89" r="0.8"/><circle cx="315.24" cy="618.36" r="0.8"/><circle cx="354.41" cy="615.8" r="0.8"/><circle cx="355.42" cy="615.73" r="0.8"/><circle cx="293.38" cy="607.02" r="0.8"/><circle cx="317.44" cy="621.12" r="0.8"/><circle cx="321.94" cy="622.08" r="0.8"/><circle cx="308.95" cy="610.13" r="0.8"/><circle cx="351.59" cy="617.83" r="0.8"/><circle cx="344.63" cy="614.57" r="0.8"/><circle cx="287.96" cy="634.02" r="0.8"/><circle cx="337.52" cy="613.4" r="0.8"/><circle cx="363.06" cy="616.8" r="0.8"/><circle cx="319.97" cy="604.81" r="0.8"/><circle cx="323.47" cy="614.09" r="0.8"/><circle cx="329.63" cy="620.53" r="0.8"/><circle cx="340.64" cy="617.62" r="0.8"/><circle cx="353.05" cy="613.41" r="0.8"/><circle cx="301.81" cy="631.3" r="0.8"/><circle cx="347.99" cy="612.38" r="0.8"/><circle cx="311.94" cy="621.86" r="0.8"/><circle cx="321.87" cy="611.95" r="0.8"/><circle cx="347.38" cy="617.45" r="0.8"/><circle cx="297.09" cy="617.77" r="0.8"/><circle cx="296.63" cy="624.44" r="0.8"/><circle cx="305.54" cy="615.82" r="0.8"/><circle cx="350.57" cy="616.61" r="0.8"/><circle cx="337.88" cy="619.4" r="0.8"/><circle cx="317.46" cy="606.13" r="0.8"/><circle cx="295.33" cy="622.34" r="0.8"/><circle cx="348.43" cy="614.85" r="0.8"/><circle cx="293.9" cy="621.21" r="0.8"/><circle cx="279.5" cy="612.43" r="0.8"/><circle cx="287.52" cy="618.24" r="0.8"/><circle cx="311.6" cy="612.46" r="0.8"/><circle cx="316.83" cy="610.04" r="0.8"/><circle cx="293.7" cy="607.43" r="0.8"/><circle cx="334.69" cy="619.88" r="0.8"/><circle cx="355.43" cy="616.72" r="0.8"/><circle cx="277.84" cy="613.59" r="0.8"/><circle cx="344.03" cy="616.55" r="0.8"/><circle cx="315.89" cy="605.04" r="0.8"/><circle cx="311.88" cy="609.26" r="0.8"/><circle cx="334.07" cy="625.44" r="0.8"/><circle cx="326.6" cy="618.1" r="0.8"/><circle cx="297.67" cy="599.59" r="0.8"/><circle cx="306.64" cy="619.05" r="0.8"/><circle cx="332.64" cy="613.43" r="0.8"/><circle cx="357.09" cy="616.1" r="0.8"/><circle cx="324.31" cy="612.67" r="0.8"/><circle cx="349.79" cy="615.03" r="0.8"/><circle cx="337.92" cy="616.56" r="0.8"/><circle cx="308.53" cy="618.61" r="0.8"/><circle cx="354.55" cy="616.63" r="0.8"/><circle cx="295.26" cy="631.88" r="0.8"/><circle cx="314.4" cy="617.17" r="0.8"/><circle cx="321.39" cy="619.65" r="0.8"/><circle cx="345.75" cy="616.61" r="0.8"/><circle cx="313.85" cy="614.28" r="0.8"/><circle cx="299.31" cy="615.12" r="0.8"/><circle cx="294.67" cy="629.22" r="0.8"/><circle cx="316.35" cy="611.97" r="0.8"/><circle cx="301.86" cy="613.81" r="0.8"/><circle cx="329.05" cy="619.66" r="0.8"/><circle cx="324.23" cy="623.92" r="0.8"/><circle cx="330.34" cy="614.79" r="0.8"/><circle cx="346.31" cy="616.48" r="0.8"/><circle cx="326.95" cy="615" r="0.8"/><circle cx="302.31" cy="633.15" r="0.8"/><circle cx="355.04" cy="614.29" r="0.8"/><circle cx="299.33" cy="638.86" r="0.8"/><circle cx="310.38" cy="615.19" r="0.8"/><circle cx="324" cy="609.34" r="0.8"/><circle cx="319.97" cy="605.19" r="0.8"/><circle cx="321" cy="613.48" r="0.8"/><circle cx="343.85" cy="616.55" r="0.8"/><circle cx="325.13" cy="618.35" r="0.8"/><circle cx="348.56" cy="618.07" r="0.8"/><circle cx="344.68" cy="614.05" r="0.8"/><circle cx="307.1" cy="627.24" r="0.8"/><circle cx="311.2" cy="616.9" r="0.8"/><circle cx="326.13" cy="616.21" r="0.8"/><circle cx="313.6" cy="626.25" r="0.8"/><circle cx="326.3" cy="612.84" r="0.8"/><circle cx="312.1" cy="625.94" r="0.8"/><circle cx="313.34" cy="613.45" r="0.8"/><circle cx="319.92" cy="614.95" r="0.8"/><circle cx="321.95" cy="617.45" r="0.8"/><circle cx="350.7" cy="616.87" r="0.8"/><circle cx="322.57" cy="614.61" r="0.8"/><circle cx="304.97" cy="617.9" r="0.8"/><circle cx="295.09" cy="625.45" r="0.8"/><circle cx="305.1" cy="613.42" r="0.8"/><circle cx="299.84" cy="607.26" r="0.8"/><circle cx="296.84" cy="611.7" r="0.8"/><circle cx="341.57" cy="615.51" r="0.8"/><circle cx="339.62" cy="609.01" r="0.8"/><circle cx="302.55" cy="595.47" r="0.8"/><circle cx="339.6" cy="618.62" r="0.8"/><circle cx="336.38" cy="615.66" r="0.8"/><circle cx="347.05" cy="618.84" r="0.8"/><circle cx="321.79" cy="613.98" r="0.8"/><circle cx="304.76" cy="608.74" r="0.8"/><circle cx="327.41" cy="615.07" r="0.8"/><circle cx="334" cy="617" r="0.8"/><circle cx="344.48" cy="609.71" r="0.8"/><circle cx="337.19" cy="615.92" r="0.8"/><circle cx="290" cy="604.74" r="0.8"/><circle cx="300.98" cy="611.5" r="0.8"/><circle cx="364.26" cy="616.17" r="0.8"/><circle cx="297.31" cy="606.29" r="0.8"/><circle cx="333.14" cy="614.26" r="0.8"/><circle cx="332.61" cy="614.69" r="0.8"/><circle cx="296.53" cy="619.83" r="0.8"/><circle cx="313.96" cy="616.32" r="0.8"/><circle cx="355.59" cy="615.64" r="0.8"/><circle cx="287.14" cy="613.04" r="0.8"/><circle cx="339.18" cy="616.62" r="0.8"/><circle cx="309.62" cy="617.79" r="0.8"/><circle cx="294.01" cy="618.86" r="0.8"/><circle cx="317.71" cy="610.6" r="0.8"/><circle cx="309.54" cy="617.43" r="0.8"/><circle cx="310.83" cy="623.63" r="0.8"/><circle cx="314.01" cy="620.82" r="0.8"/><circle cx="324.64" cy="618.74" r="0.8"/><circle cx="307.01" cy="617.88" r="0.8"/><circle cx="300.56" cy="616.49" r="0.8"/><circle cx="305.31" cy="616.97" r="0.8"/><circle cx="337.75" cy="611.37" r="0.8"/><circle cx="316.43" cy="615.41" r="0.8"/><circle cx="321.51" cy="618.05" r="0.8"/><circle cx="359.47" cy="615.36" r="0.8"/><circle cx="295.7" cy="610.19" r="0.8"/><circle cx="298.6" cy="594.61" r="0.8"/><circle cx="321.45" cy="631.92" r="0.8"/><circle cx="304.09" cy="623.32" r="0.8"/><circle cx="319.15" cy="613.47" r="0.8"/><circle cx="340.06" cy="621.06" r="0.8"/><circle cx="337.1" cy="610.39" r="0.8"/><circle cx="319.61" cy="614.67" r="0.8"/><circle cx="332.69" cy="619.58" r="0.8"/><circle cx="362.81" cy="617.45" r="0.8"/><circle cx="284.43" cy="619.74" r="0.8"/><circle cx="323.63" cy="616.94" r="0.8"/><circle cx="292.7" cy="606.71" r="0.8"/><circle cx="322.36" cy="616.79" r="0.8"/><circle cx="337.19" cy="616.1" r="0.8"/><circle cx="316.1" cy="614.28" r="0.8"/><circle cx="319.11" cy="608.99" r="0.8"/><circle cx="288.99" cy="612.19" r="0.8"/><circle cx="319.11" cy="625.12" r="0.8"/><circle cx="308.83" cy="609.33" r="0.8"/><circle cx="319.9" cy="608.57" r="0.8"/><circle cx="306.99" cy="621.28" r="0.8"/><circle cx="329.17" cy="617.42" r="0.8"/><circle cx="293.16" cy="620.36" r="0.8"/><circle cx="304.61" cy="618.98" r="0.8"/><circle cx="325.97" cy="613.36" r="0.8"/><circle cx="342.23" cy="618.86" r="0.8"/><circle cx="312.09" cy="615.38" r="0.8"/><circle cx="297.31" cy="609.4" r="0.8"/><circle cx="330.92" cy="611.76" r="0.8"/><circle cx="345.2" cy="613.04" r="0.8"/><circle cx="313.12" cy="609.22" r="0.8"/><circle cx="312.16" cy="616.06" r="0.8"/><circle cx="336.35" cy="618.31" r="0.8"/><circle cx="342.22" cy="615.21" r="0.8"/><circle cx="354.59" cy="617.43" r="0.8"/><circle cx="295.42" cy="627.63" r="0.8"/><circle cx="352.34" cy="615.45" r="0.8"/><circle cx="317.02" cy="627.66" r="0.8"/><circle cx="296.18" cy="620.62" r="0.8"/><circle cx="317.56" cy="610.71" r="0.8"/><circle cx="304.52" cy="634.83" r="0.8"/><circle cx="313.6" cy="618.02" r="0.8"/><circle cx="306.45" cy="629.54" r="0.8"/><circle cx="296.72" cy="625.54" r="0.8"/><circle cx="302.83" cy="621.99" r="0.8"/><circle cx="301.89" cy="611.99" r="0.8"/><circle cx="325.65" cy="611.41" r="0.8"/><circle cx="351.55" cy="617.3" r="0.8"/><circle cx="338.96" cy="616.76" r="0.8"/><circle cx="295.13" cy="613.22" r="0.8"/><circle cx="363.19" cy="617.09" r="0.8"/><circle cx="295.04" cy="605.55" r="0.8"/><circle cx="290.88" cy="621.13" r="0.8"/><circle cx="361.17" cy="615.94" r="0.8"/><circle cx="359.11" cy="615.81" r="0.8"/><circle cx="356.96" cy="617.33" r="0.8"/><circle cx="310.81" cy="611" r="0.8"/><circle cx="288.05" cy="608.77" r="0.8"/><circle cx="288.7" cy="620.65" r="0.8"/><circle cx="306.18" cy="611.25" r="0.8"/><circle cx="305.18" cy="608.72" r="0.8"/><circle cx="307.06" cy="614.18" r="0.8"/><circle cx="340.73" cy="611.16" r="0.8"/><circle cx="295.3" cy="621.83" r="0.8"/><circle cx="352.44" cy="614.82" r="0.8"/><circle cx="345.39" cy="616.52" r="0.8"/><circle cx="311.95" cy="615.54" r="0.8"/><circle cx="320.06" cy="616.83" r="0.8"/><circle cx="318.16" cy="606.97" r="0.8"/><circle cx="364.34" cy="616.31" r="0.8"/><circle cx="354.1" cy="617.14" r="0.8"/><circle cx="283.96" cy="623.88" r="0.8"/><circle cx="344.89" cy="619.16" r="0.8"/><circle cx="290.67" cy="603.45" r="0.8"/><circle cx="294.38" cy="616.5" r="0.8"/><circle cx="341.91" cy="612.9" r="0.8"/><circle cx="333.7" cy="619.82" r="0.8"/><circle cx="356.31" cy="615.43" r="0.8"/><circle cx="284.63" cy="618.22" r="0.8"/><circle cx="288.97" cy="611.13" r="0.8"/><circle cx="340.7" cy="619.91" r="0.8"/><circle cx="301.79" cy="618.45" r="0.8"/><circle cx="338.33" cy="611.85" r="0.8"/><circle cx="287.98" cy="608.4" r="0.8"/><circle cx="324.74" cy="619.72" r="0.8"/><circle cx="295.85" cy="615.05" r="0.8"/><circle cx="317.71" cy="607.41" r="0.8"/><circle cx="341.86" cy="615.58" r="0.8"/><circle cx="346.31" cy="615.86" r="0.8"/><circle cx="357.04" cy="616.79" r="0.8"/><circle cx="313.9" cy="606.28" r="0.8"/><circle cx="310.21" cy="614.82" r="0.8"/><circle cx="340.59" cy="615.84" r="0.8"/><circle cx="337.35" cy="617.56" r="0.8"/><circle cx="314.92" cy="622.69" r="0.8"/><circle cx="285.93" cy="614.64" r="0.8"/><circle cx="328.45" cy="608.72" r="0.8"/><circle cx="318.61" cy="626.88" r="0.8"/><circle cx="328.52" cy="612.16" r="0.8"/><circle cx="320.9" cy="611.8" r="0.8"/><circle cx="300.24" cy="617.73" r="0.8"/><circle cx="292.02" cy="609.75" r="0.8"/><circle cx="317.56" cy="615.24" r="0.8"/><circle cx="288.83" cy="611.58" r="0.8"/><circle cx="326.78" cy="619.25" r="0.8"/><circle cx="362.19" cy="616.2" r="0.8"/><circle cx="326.02" cy="614.4" r="0.8"/><circle cx="333.31" cy="622.03" r="0.8"/><circle cx="316.12" cy="614.34" r="0.8"/><circle cx="309" cy="616.35" r="0.8"/><circle cx="332.65" cy="611.98" r="0.8"/><circle cx="322.8" cy="613.01" r="0.8"/><circle cx="291.44" cy="609.26" r="0.8"/><circle cx="310.97" cy="614.08" r="0.8"/><circle cx="280.36" cy="617.03" r="0.8"/><circle cx="327.07" cy="618" r="0.8"/><circle cx="340.25" cy="615.43" r="0.8"/><circle cx="302.79" cy="614.08" r="0.8"/><circle cx="296.79" cy="614.73" r="0.8"/><circle cx="343.48" cy="618.25" r="0.8"/><circle cx="297.28" cy="604.09" r="0.8"/><circle cx="358.96" cy="616.68" r="0.8"/><circle cx="351.29" cy="615.5" r="0.8"/><circle cx="305.42" cy="606.25" r="0.8"/><circle cx="295.5" cy="622.78" r="0.8"/><circle cx="343.23" cy="620.76" r="0.8"/><circle cx="347.56" cy="616.4" r="0.8"/><circle cx="289.93" cy="604.99" r="0.8"/><circle cx="309.8" cy="606.79" r="0.8"/><circle cx="338.06" cy="618.46" r="0.8"/><circle cx="335.02" cy="613.32" r="0.8"/><circle cx="343.23" cy="618.83" r="0.8"/><circle cx="311.52" cy="612.53" r="0.8"/><circle cx="287.01" cy="613.24" r="0.8"/><circle cx="320.51" cy="618.68" r="0.8"/><circle cx="353.39" cy="617.76" r="0.8"/><circle cx="327.47" cy="623.08" r="0.8"/><circle cx="350.64" cy="613.66" r="0.8"/><circle cx="355.37" cy="616.26" r="0.8"/><circle cx="335.1" cy="612.33" r="0.8"/><circle cx="344.4" cy="611.8" r="0.8"/><circle cx="307.91" cy="610.1" r="0.8"/><circle cx="332.71" cy="612.34" r="0.8"/><circle cx="331.36" cy="620.05" r="0.8"/><circle cx="306.7" cy="631.47" r="0.8"/><circle cx="306.2" cy="614.22" r="0.8"/><circle cx="342.06" cy="618.11" r="0.8"/><circle cx="341.11" cy="612.11" r="0.8"/><circle cx="312.76" cy="610.09" r="0.8"/><circle cx="338.86" cy="614.21" r="0.8"/><circle cx="294.67" cy="597.74" r="0.8"/><circle cx="327" cy="611.14" r="0.8"/><circle cx="289.16" cy="618.86" r="0.8"/><circle cx="308.44" cy="606.54" r="0.8"/><circle cx="295.65" cy="609.56" r="0.8"/><circle cx="342.52" cy="615.84" r="0.8"/><circle cx="339.09" cy="613.09" r="0.8"/><circle cx="353.35" cy="617.23" r="0.8"/><circle cx="339.44" cy="621.6" r="0.8"/><circle cx="327.3" cy="620.65" r="0.8"/><circle cx="291.09" cy="602.13" r="0.8"/><circle cx="308.7" cy="623.24" r="0.8"/><circle cx="311.52" cy="621.67" r="0.8"/><circle cx="363.48" cy="615.91" r="0.8"/><circle cx="299.52" cy="616.74" r="0.8"/><circle cx="346.27" cy="615.05" r="0.8"/><circle cx="311.02" cy="616.84" r="0.8"/><circle cx="330.26" cy="607.87" r="0.8"/><circle cx="315.11" cy="633" r="0.8"/><circle cx="294.47" cy="615.05" r="0.8"/><circle cx="347.57" cy="616.6" r="0.8"/><circle cx="298.65" cy="621.1" r="0.8"/><circle cx="318.42" cy="624.95" r="0.8"/><circle cx="346.92" cy="613.72" r="0.8"/><circle cx="302.33" cy="628.11" r="0.8"/><circle cx="307.92" cy="619.42" r="0.8"/><circle cx="300.6" cy="612.91" r="0.8"/><circle cx="348.04" cy="616.5" r="0.8"/><circle cx="297.6" cy="617.24" r="0.8"/><circle cx="355.96" cy="617.47" r="0.8"/><circle cx="354.33" cy="614.68" r="0.8"/><circle cx="291.77" cy="606.14" r="0.8"/><circle cx="332.79" cy="618.18" r="0.8"/><circle cx="347.58" cy="616.37" r="0.8"/><circle cx="344.78" cy="611.25" r="0.8"/><circle cx="325.46" cy="612.72" r="0.8"/><circle cx="288.68" cy="620.69" r="0.8"/><circle cx="295.35" cy="619.7" r="0.8"/><circle cx="326.78" cy="615.58" r="0.8"/><circle cx="355.87" cy="614.3" r="0.8"/><circle cx="305.46" cy="625.76" r="0.8"/><circle cx="342.1" cy="620" r="0.8"/><circle cx="328.55" cy="618.78" r="0.8"/><circle cx="338.39" cy="617.88" r="0.8"/><circle cx="359.62" cy="617.97" r="0.8"/><circle cx="349.88" cy="617.09" r="0.8"/><circle cx="352.85" cy="614.14" r="0.8"/><circle cx="351.12" cy="616.67" r="0.8"/><circle cx="355.65" cy="615.92" r="0.8"/><circle cx="308.8" cy="614.8" r="0.8"/><circle cx="300.05" cy="622.82" r="0.8"/><circle cx="355.21" cy="616.34" r="0.8"/><circle cx="345.93" cy="617.87" r="0.8"/><circle cx="304.37" cy="605.24" r="0.8"/><circle cx="325.68" cy="618.54" r="0.8"/><circle cx="326.97" cy="623.84" r="0.8"/><circle cx="330.33" cy="618.12" r="0.8"/><circle cx="301.71" cy="621.33" r="0.8"/><circle cx="353.59" cy="613.76" r="0.8"/><circle cx="352.16" cy="618.59" r="0.8"/><circle cx="338.94" cy="615.27" r="0.8"/><circle cx="327.08" cy="613.29" r="0.8"/><circle cx="332.54" cy="622.48" r="0.8"/><circle cx="296.9" cy="607.84" r="0.8"/><circle cx="330.29" cy="616.5" r="0.8"/><circle cx="363.83" cy="616.19" r="0.8"/><circle cx="335.69" cy="612.98" r="0.8"/><circle cx="325.79" cy="613.45" r="0.8"/><circle cx="323.8" cy="617.31" r="0.8"/><circle cx="328.72" cy="612.37" r="0.8"/><circle cx="347.69" cy="621.1" r="0.8"/><circle cx="304.93" cy="625.78" r="0.8"/><circle cx="293.68" cy="618.06" r="0.8"/><circle cx="346.78" cy="620.51" r="0.8"/><circle cx="286.63" cy="611.05" r="0.8"/><circle cx="307.58" cy="622.06" r="0.8"/><circle cx="327.31" cy="614.16" r="0.8"/><circle cx="329.71" cy="623.94" r="0.8"/><circle cx="280.79" cy="611.89" r="0.8"/><circle cx="312.89" cy="617.28" r="0.8"/><circle cx="341.11" cy="616.37" r="0.8"/><circle cx="315.36" cy="616.7" r="0.8"/><circle cx="292.82" cy="614.65" r="0.8"/><circle cx="333.7" cy="613.8" r="0.8"/><circle cx="332.09" cy="623.34" r="0.8"/><circle cx="330.17" cy="613.67" r="0.8"/><circle cx="331.19" cy="612.77" r="0.8"/><circle cx="338.85" cy="612.52" r="0.8"/><circle cx="340.5" cy="617.06" r="0.8"/><circle cx="364.73" cy="616.19" r="0.8"/><circle cx="349.78" cy="615.6" r="0.8"/><circle cx="287.53" cy="615" r="0.8"/><circle cx="307.86" cy="629.94" r="0.8"/><circle cx="312.86" cy="609.73" r="0.8"/><circle cx="344.44" cy="617.05" r="0.8"/><circle cx="353.43" cy="616.48" r="0.8"/><circle cx="305.75" cy="607.21" r="0.8"/><circle cx="352.35" cy="616.8" r="0.8"/><circle cx="319.84" cy="618.96" r="0.8"/><circle cx="351.43" cy="615.31" r="0.8"/><circle cx="348.54" cy="617.05" r="0.8"/><circle cx="293.99" cy="608.97" r="0.8"/><circle cx="317.53" cy="614.16" r="0.8"/><circle cx="354.78" cy="616.76" r="0.8"/><circle cx="326.36" cy="611.97" r="0.8"/><circle cx="314.43" cy="610.74" r="0.8"/><circle cx="350.07" cy="618.03" r="0.8"/><circle cx="358.19" cy="615.61" r="0.8"/><circle cx="292.21" cy="605.71" r="0.8"/><circle cx="294.57" cy="604.85" r="0.8"/><circle cx="297.78" cy="602.02" r="0.8"/><circle cx="339.15" cy="624.64" r="0.8"/><circle cx="352.81" cy="616.04" r="0.8"/><circle cx="351.19" cy="616.34" r="0.8"/><circle cx="317.42" cy="620.59" r="0.8"/><circle cx="340.75" cy="614.54" r="0.8"/><circle cx="355.87" cy="617.3" r="0.8"/><circle cx="300.44" cy="603.42" r="0.8"/><circle cx="326.92" cy="609.95" r="0.8"/><circle cx="300.65" cy="617.34" r="0.8"/><circle cx="312.31" cy="630.56" r="0.8"/><circle cx="333.63" cy="623.06" r="0.8"/><circle cx="297.27" cy="608.11" r="0.8"/><circle cx="358.19" cy="617.45" r="0.8"/><circle cx="348.89" cy="617.11" r="0.8"/><circle cx="290.22" cy="623.47" r="0.8"/><circle cx="312.19" cy="611.66" r="0.8"/><circle cx="309.21" cy="615.05" r="0.8"/><circle cx="292.58" cy="602.63" r="0.8"/><circle cx="304.64" cy="623.76" r="0.8"/><circle cx="294.48" cy="617.22" r="0.8"/><circle cx="346.25" cy="616.53" r="0.8"/><circle cx="302.41" cy="617.15" r="0.8"/><circle cx="336.05" cy="614.75" r="0.8"/><circle cx="323.93" cy="620.55" r="0.8"/><circle cx="318.26" cy="622.52" r="0.8"/><circle cx="332.48" cy="615.76" r="0.8"/><circle cx="310.52" cy="613.95" r="0.8"/><circle cx="305.88" cy="613.06" r="0.8"/><circle cx="311.27" cy="611.82" r="0.8"/><circle cx="283.98" cy="618.57" r="0.8"/><circle cx="315.75" cy="619.29" r="0.8"/><circle cx="353.22" cy="618.37" r="0.8"/><circle cx="306.13" cy="613.55" r="0.8"/><circle cx="304.81" cy="613.17" r="0.8"/><circle cx="343.7" cy="617.75" r="0.8"/><circle cx="317.74" cy="608.11" r="0.8"/><circle cx="288.58" cy="617.9" r="0.8"/><circle cx="318.92" cy="608.18" r="0.8"/><circle cx="311.18" cy="630.6" r="0.8"/><circle cx="315.91" cy="610.62" r="0.8"/><circle cx="328.33" cy="617.88" r="0.8"/><circle cx="344.81" cy="614.09" r="0.8"/><circle cx="317.89" cy="615.32" r="0.8"/><circle cx="301.91" cy="624.24" r="0.8"/><circle cx="351.88" cy="616.72" r="0.8"/><circle cx="297.65" cy="616.58" r="0.8"/><circle cx="331.04" cy="619.14" r="0.8"/><circle cx="320.56" cy="608.81" r="0.8"/><circle cx="314.38" cy="620.44" r="0.8"/><circle cx="305.76" cy="605.96" r="0.8"/><circle cx="322.74" cy="618.35" r="0.8"/><circle cx="299.66" cy="616.32" r="0.8"/><circle cx="300.28" cy="631.56" r="0.8"/><circle cx="323.39" cy="612.24" r="0.8"/><circle cx="301.94" cy="620.63" r="0.8"/><circle cx="328.39" cy="621.51" r="0.8"/><circle cx="354.52" cy="616.98" r="0.8"/><circle cx="296.06" cy="613.52" r="0.8"/><circle cx="354.93" cy="615.3" r="0.8"/><circle cx="341.28" cy="610.59" r="0.8"/><circle cx="333.64" cy="607.71" r="0.8"/><circle cx="346.29" cy="617.44" r="0.8"/><circle cx="325.58" cy="612.84" r="0.8"/><circle cx="311.37" cy="624.65" r="0.8"/><circle cx="323.94" cy="608.41" r="0.8"/><circle cx="300.47" cy="617.72" r="0.8"/><circle cx="330.16" cy="614.02" r="0.8"/><circle cx="293.95" cy="608.68" r="0.8"/><circle cx="293.75" cy="610.78" r="0.8"/><circle cx="316.6" cy="606.91" r="0.8"/><circle cx="317.7" cy="619.81" r="0.8"/><circle cx="318.46" cy="620.63" r="0.8"/><circle cx="295.29" cy="617.5" r="0.8"/><circle cx="352.49" cy="614.98" r="0.8"/><circle cx="336.53" cy="619.45" r="0.8"/><circle cx="340.13" cy="622.56" r="0.8"/><circle cx="330.15" cy="616.23" r="0.8"/><circle cx="338.7" cy="612.86" r="0.8"/><circle cx="344.44" cy="618.7" r="0.8"/><circle cx="300.88" cy="616.98" r="0.8"/><circle cx="293.95" cy="596.34" r="0.8"/><circle cx="353.44" cy="617.7" r="0.8"/><circle cx="305.18" cy="625.76" r="0.8"/><circle cx="307.52" cy="618.21" r="0.8"/><circle cx="295.61" cy="606.11" r="0.8"/><circle cx="335.33" cy="615.9" r="0.8"/><circle cx="300.09" cy="618.63" r="0.8"/><circle cx="338.32" cy="620.83" r="0.8"/><circle cx="311.35" cy="609.33" r="0.8"/><circle cx="345.76" cy="620.69" r="0.8"/><circle cx="339.66" cy="615.87" r="0.8"/><circle cx="316.62" cy="621.36" r="0.8"/><circle cx="301.27" cy="617.66" r="0.8"/><circle cx="305.99" cy="616.24" r="0.8"/><circle cx="322.6" cy="618.6" r="0.8"/><circle cx="352.07" cy="617.22" r="0.8"/><circle cx="359.78" cy="616.42" r="0.8"/><circle cx="332.3" cy="616.32" r="0.8"/><circle cx="309.93" cy="615.75" r="0.8"/><circle cx="314.87" cy="616.05" r="0.8"/><circle cx="299.23" cy="609.1" r="0.8"/><circle cx="318.46" cy="619.29" r="0.8"/><circle cx="312.7" cy="621.33" r="0.8"/><circle cx="345.17" cy="613.32" r="0.8"/><circle cx="347" cy="613.09" r="0.8"/><circle cx="323.56" cy="618.41" r="0.8"/><circle cx="346.85" cy="616.34" r="0.8"/><circle cx="322.04" cy="613.59" r="0.8"/><circle cx="356" cy="616.09" r="0.8"/><circle cx="331.33" cy="619.92" r="0.8"/><circle cx="303.4" cy="607.05" r="0.8"/><circle cx="351" cy="617.39" r="0.8"/><circle cx="342.99" cy="614.2" r="0.8"/><circle cx="339.13" cy="614.48" r="0.8"/><circle cx="341.49" cy="617.55" r="0.8"/><circle cx="289.95" cy="622.18" r="0.8"/><circle cx="342.12" cy="617.19" r="0.8"/><circle cx="329.06" cy="612.15" r="0.8"/><circle cx="317.18" cy="614.44" r="0.8"/><circle cx="332.97" cy="614.01" r="0.8"/><circle cx="338.87" cy="617.44" r="0.8"/><circle cx="321.23" cy="612.77" r="0.8"/><circle cx="325.51" cy="613.37" r="0.8"/><circle cx="293.82" cy="624.16" r="0.8"/><circle cx="340.09" cy="615.82" r="0.8"/><circle cx="295.95" cy="634.92" r="0.8"/><circle cx="327.32" cy="607.53" r="0.8"/><circle cx="340.98" cy="618.83" r="0.8"/><circle cx="350.62" cy="613.32" r="0.8"/><circle cx="326.64" cy="619.36" r="0.8"/><circle cx="316.33" cy="616.43" r="0.8"/><circle cx="331.28" cy="615.42" r="0.8"/><circle cx="336.02" cy="614.14" r="0.8"/><circle cx="349.22" cy="616" r="0.8"/><circle cx="293.22" cy="625.78" r="0.8"/><circle cx="293.16" cy="615.36" r="0.8"/><circle cx="344.08" cy="613.84" r="0.8"/><circle cx="289.75" cy="611.26" r="0.8"/><circle cx="346.62" cy="612.39" r="0.8"/><circle cx="329.35" cy="620.02" r="0.8"/><circle cx="302.37" cy="608.75" r="0.8"/><circle cx="310.21" cy="602.33" r="0.8"/><circle cx="341.56" cy="617.31" r="0.8"/><circle cx="322.04" cy="619.42" r="0.8"/><circle cx="324.81" cy="617.79" r="0.8"/><circle cx="291.98" cy="613.79" r="0.8"/><circle cx="288.83" cy="613.75" r="0.8"/><circle cx="296.99" cy="623.85" r="0.8"/><circle cx="317.52" cy="614.12" r="0.8"/><circle cx="344.96" cy="615.73" r="0.8"/><circle cx="355.59" cy="617.32" r="0.8"/><circle cx="290.54" cy="598.38" r="0.8"/><circle cx="312.45" cy="620.68" r="0.8"/><circle cx="300.96" cy="616.43" r="0.8"/><circle cx="305.33" cy="611.42" r="0.8"/><circle cx="334.87" cy="616.43" r="0.8"/><circle cx="305.57" cy="625.32" r="0.8"/><circle cx="330.3" cy="619.72" r="0.8"/><circle cx="322.13" cy="615.02" r="0.8"/><circle cx="320.61" cy="619.42" r="0.8"/><circle cx="319.53" cy="614.19" r="0.8"/><circle cx="317.47" cy="610.64" r="0.8"/><circle cx="355.06" cy="616.49" r="0.8"/><circle cx="302.05" cy="602.63" r="0.8"/><circle cx="284.97" cy="625.53" r="0.8"/><circle cx="362.44" cy="615.64" r="0.8"/><circle cx="355.69" cy="616.17" r="0.8"/><circle cx="334.46" cy="620.57" r="0.8"/><circle cx="299.38" cy="610.53" r="0.8"/><circle cx="297.35" cy="614.38" r="0.8"/><circle cx="356.87" cy="616.39" r="0.8"/><circle cx="343.22" cy="614.36" r="0.8"/><circle cx="341.33" cy="618.92" r="0.8"/><circle cx="322.35" cy="606.32" r="0.8"/><circle cx="287.23" cy="612.5" r="0.8"/><circle cx="347.98" cy="617.53" r="0.8"/><circle cx="301.13" cy="626.36" r="0.8"/><circle cx="294.08" cy="605.56" r="0.8"/><circle cx="339.17" cy="617.49" r="0.8"/><circle cx="306.26" cy="617.05" r="0.8"/><circle cx="327.8" cy="608.23" r="0.8"/><circle cx="338.04" cy="615.18" r="0.8"/><circle cx="336.06" cy="613.41" r="0.8"/><circle cx="348.83" cy="615.22" r="0.8"/><circle cx="328.63" cy="621.62" r="0.8"/><circle cx="336.47" cy="619.62" r="0.8"/><circle cx="334.98" cy="619.41" r="0.8"/><circle cx="354.92" cy="616.49" r="0.8"/><circle cx="321.8" cy="628.12" r="0.8"/><circle cx="353.49" cy="616.34" r="0.8"/><circle cx="303.15" cy="622.48" r="0.8"/><circle cx="302.65" cy="608.87" r="0.8"/><circle cx="351.36" cy="615.89" r="0.8"/><circle cx="312.89" cy="611.81" r="0.8"/><circle cx="314.55" cy="606.76" r="0.8"/><circle cx="344.45" cy="614.84" r="0.8"/><circle cx="291.64" cy="610.19" r="0.8"/><circle cx="348.99" cy="617.14" r="0.8"/><circle cx="340.94" cy="615.91" r="0.8"/><circle cx="331.3" cy="617.33" r="0.8"/><circle cx="302.01" cy="621.42" r="0.8"/><circle cx="327.47" cy="619.91" r="0.8"/><circle cx="352.41" cy="612.59" r="0.8"/><circle cx="331.79" cy="614.86" r="0.8"/><circle cx="312.7" cy="619.75" r="0.8"/><circle cx="337.02" cy="614.33" r="0.8"/><circle cx="321.41" cy="612.99" r="0.8"/><circle cx="332.92" cy="610.6" r="0.8"/><circle cx="317.51" cy="606.32" r="0.8"/><circle cx="332.87" cy="614.84" r="0.8"/><circle cx="336.54" cy="618.09" r="0.8"/><circle cx="307.98" cy="613.44" r="0.8"/><circle cx="317.98" cy="615.6" r="0.8"/><circle cx="346.41" cy="621.91" r="0.8"/><circle cx="362.79" cy="616.63" r="0.8"/><circle cx="302.31" cy="615.04" r="0.8"/><circle cx="339.21" cy="618.04" r="0.8"/><circle cx="342.68" cy="613.02" r="0.8"/><circle cx="309.74" cy="625.52" r="0.8"/><circle cx="335.31" cy="614.2" r="0.8"/><circle cx="341.82" cy="619.74" r="0.8"/><circle cx="316.01" cy="609.74" r="0.8"/><circle cx="294.41" cy="613" r="0.8"/><circle cx="280.42" cy="610.47" r="0.8"/><circle cx="330.9" cy="620.63" r="0.8"/><circle cx="343.68" cy="615.68" r="0.8"/><circle cx="302.82" cy="621.6" r="0.8"/><circle cx="292.47" cy="606.34" r="0.8"/><circle cx="290.28" cy="623.75" r="0.8"/><circle cx="300.36" cy="625.43" r="0.8"/><circle cx="323.73" cy="612" r="0.8"/><circle cx="304.79" cy="633.89" r="0.8"/><circle cx="284.22" cy="620.58" r="0.8"/><circle cx="324.05" cy="606.01" r="0.8"/><circle cx="304.88" cy="607.85" r="0.8"/><circle cx="335.42" cy="615.04" r="0.8"/><circle cx="322.3" cy="612.69" r="0.8"/><circle cx="348.61" cy="615.57" r="0.8"/><circle cx="327.86" cy="613.93" r="0.8"/><circle cx="315.25" cy="618" r="0.8"/><circle cx="303.11" cy="607.83" r="0.8"/><circle cx="333.11" cy="615.63" r="0.8"/><circle cx="287.14" cy="615.86" r="0.8"/><circle cx="299.22" cy="616.45" r="0.8"/><circle cx="302.23" cy="623.02" r="0.8"/><circle cx="296.27" cy="596.33" r="0.8"/><circle cx="352.84" cy="614.97" r="0.8"/><circle cx="335.82" cy="616.71" r="0.8"/><circle cx="336.82" cy="624.79" r="0.8"/><circle cx="296.15" cy="629.13" r="0.8"/><circle cx="316.95" cy="622.72" r="0.8"/><circle cx="279.16" cy="617.65" r="0.8"/><circle cx="333.76" cy="610.28" r="0.8"/><circle cx="287.49" cy="615.7" r="0.8"/><circle cx="348" cy="610.43" r="0.8"/><circle cx="328.85" cy="622.39" r="0.8"/><circle cx="314.96" cy="623.56" r="0.8"/><circle cx="292.95" cy="601.36" r="0.8"/><circle cx="346.74" cy="619.17" r="0.8"/><circle cx="299.54" cy="616.78" r="0.8"/><circle cx="312.43" cy="621.65" r="0.8"/><circle cx="334" cy="608.41" r="0.8"/><circle cx="344.42" cy="617.98" r="0.8"/><circle cx="314.24" cy="598.04" r="0.8"/><circle cx="326.14" cy="620.55" r="0.8"/><circle cx="291.99" cy="622.96" r="0.8"/><circle cx="298.56" cy="607.15" r="0.8"/><circle cx="335.9" cy="615.85" r="0.8"/><circle cx="321.22" cy="620.53" r="0.8"/><circle cx="282.59" cy="611.5" r="0.8"/><circle cx="288.09" cy="623.72" r="0.8"/><circle cx="294.37" cy="616.74" r="0.8"/><circle cx="306.91" cy="610.92" r="0.8"/><circle cx="278.69" cy="612.81" r="0.8"/><circle cx="333.14" cy="616.47" r="0.8"/><circle cx="290.66" cy="621.31" r="0.8"/><circle cx="292.45" cy="613.55" r="0.8"/><circle cx="332.19" cy="614.89" r="0.8"/><circle cx="329.85" cy="619.39" r="0.8"/><circle cx="295.26" cy="617.01" r="0.8"/><circle cx="296.44" cy="630.77" r="0.8"/><circle cx="336.45" cy="615.5" r="0.8"/><circle cx="317.48" cy="611.05" r="0.8"/><circle cx="354.8" cy="616.54" r="0.8"/><circle cx="295.63" cy="611.53" r="0.8"/><circle cx="355.79" cy="615.2" r="0.8"/><circle cx="321.27" cy="614.52" r="0.8"/><circle cx="337.05" cy="609.87" r="0.8"/><circle cx="346.9" cy="618.49" r="0.8"/><circle cx="298.89" cy="601.99" r="0.8"/><circle cx="326.49" cy="620.66" r="0.8"/><circle cx="350.4" cy="615.38" r="0.8"/><circle cx="293.15" cy="622.86" r="0.8"/><circle cx="314.8" cy="613.28" r="0.8"/><circle cx="340.08" cy="616.75" r="0.8"/><circle cx="350.63" cy="616.38" r="0.8"/><circle cx="317.92" cy="613.96" r="0.8"/><circle cx="346.48" cy="615.49" r="0.8"/><circle cx="305.41" cy="629.16" r="0.8"/><circle cx="318.05" cy="616.51" r="0.8"/><circle cx="302.73" cy="617.34" r="0.8"/><circle cx="347.04" cy="616.09" r="0.8"/><circle cx="344.95" cy="613.58" r="0.8"/><circle cx="285.94" cy="616.4" r="0.8"/><circle cx="325.51" cy="605.27" r="0.8"/><circle cx="322.86" cy="614.39" r="0.8"/><circle cx="356.37" cy="616.61" r="0.8"/><circle cx="299.53" cy="612.87" r="0.8"/><circle cx="312.97" cy="612.8" r="0.8"/><circle cx="323.87" cy="622.1" r="0.8"/><circle cx="290.19" cy="620.97" r="0.8"/><circle cx="301.02" cy="612.27" r="0.8"/><circle cx="346.27" cy="609.84" r="0.8"/><circle cx="305.84" cy="602.52" r="0.8"/><circle cx="321.93" cy="619.72" r="0.8"/><circle cx="297.22" cy="606.06" r="0.8"/><circle cx="334.79" cy="617.38" r="0.8"/><circle cx="319.17" cy="613.58" r="0.8"/><circle cx="353.19" cy="616.35" r="0.8"/><circle cx="315.34" cy="611.5" r="0.8"/><circle cx="305.74" cy="622.25" r="0.8"/><circle cx="312.28" cy="618.45" r="0.8"/><circle cx="308.45" cy="626.43" r="0.8"/><circle cx="343.53" cy="615.9" r="0.8"/><circle cx="287.8" cy="618.24" r="0.8"/><circle cx="322.29" cy="621.27" r="0.8"/><circle cx="302.37" cy="615.61" r="0.8"/><circle cx="297.03" cy="624.6" r="0.8"/><circle cx="306.08" cy="610.91" r="0.8"/><circle cx="349.96" cy="616.75" r="0.8"/><circle cx="340.88" cy="624.05" r="0.8"/><circle cx="319" cy="621.5" r="0.8"/><circle cx="350.79" cy="615.5" r="0.8"/><circle cx="290.67" cy="621.7" r="0.8"/><circle cx="290.98" cy="623.82" r="0.8"/><circle cx="309.5" cy="621.73" r="0.8"/><circle cx="314.68" cy="612.76" r="0.8"/><circle cx="349.42" cy="614.88" r="0.8"/><circle cx="305.1" cy="613.98" r="0.8"/><circle cx="287.5" cy="631.11" r="0.8"/><circle cx="303.82" cy="618.28" r="0.8"/><circle cx="289.82" cy="620.99" r="0.8"/><circle cx="316.65" cy="608.8" r="0.8"/><circle cx="343.29" cy="615.73" r="0.8"/><circle cx="358.64" cy="616.47" r="0.8"/><circle cx="282.67" cy="614.13" r="0.8"/><circle cx="340.37" cy="615.52" r="0.8"/><circle cx="314.54" cy="627.9" r="0.8"/><circle cx="289.53" cy="610.12" r="0.8"/><circle cx="325.67" cy="624.79" r="0.8"/><circle cx="364.66" cy="617.15" r="0.8"/><circle cx="283.96" cy="609.67" r="0.8"/><circle cx="343.39" cy="616.85" r="0.8"/><circle cx="341.57" cy="612.92" r="0.8"/><circle cx="334.61" cy="625.05" r="0.8"/><circle cx="358.35" cy="616.07" r="0.8"/><circle cx="340.95" cy="618.29" r="0.8"/><circle cx="319.5" cy="612.77" r="0.8"/><circle cx="313.17" cy="613.19" r="0.8"/><circle cx="333.8" cy="617.6" r="0.8"/><circle cx="335.54" cy="621.65" r="0.8"/><circle cx="280.77" cy="621.81" r="0.8"/><circle cx="342.99" cy="615.8" r="0.8"/><circle cx="330.47" cy="612.03" r="0.8"/><circle cx="313.52" cy="623.69" r="0.8"/><circle cx="337.83" cy="618.09" r="0.8"/><circle cx="299.45" cy="610.87" r="0.8"/><circle cx="311.57" cy="629.19" r="0.8"/><circle cx="291.66" cy="617.19" r="0.8"/><circle cx="322.04" cy="622.15" r="0.8"/><circle cx="347.87" cy="612.93" r="0.8"/><circle cx="342.82" cy="612.03" r="0.8"/><circle cx="332.65" cy="616.39" r="0.8"/><circle cx="353.59" cy="616.9" r="0.8"/><circle cx="344.08" cy="619.34" r="0.8"/><circle cx="316.35" cy="632.3" r="0.8"/><circle cx="346.65" cy="619.05" r="0.8"/><circle cx="317.44" cy="608.93" r="0.8"/><circle cx="327.53" cy="614.64" r="0.8"/><circle cx="324.36" cy="624.61" r="0.8"/><circle cx="309.43" cy="623.91" r="0.8"/><circle cx="310.59" cy="625.83" r="0.8"/><circle cx="316.6" cy="609.54" r="0.8"/><circle cx="322.25" cy="612.98" r="0.8"/><circle cx="327.86" cy="612.95" r="0.8"/><circle cx="311.25" cy="617.67" r="0.8"/><circle cx="297.66" cy="610.54" r="0.8"/><circle cx="293.58" cy="614.03" r="0.8"/><circle cx="332.64" cy="620.77" r="0.8"/><circle cx="311.75" cy="615.5" r="0.8"/><circle cx="350.32" cy="615.25" r="0.8"/><circle cx="284.08" cy="619.75" r="0.8"/><circle cx="316.63" cy="626.9" r="0.8"/><circle cx="348.49" cy="617.48" r="0.8"/><circle cx="331.3" cy="616.92" r="0.8"/><circle cx="315.72" cy="614.13" r="0.8"/><circle cx="291.2" cy="615.02" r="0.8"/><circle cx="287.77" cy="621.1" r="0.8"/><circle cx="328.14" cy="621.68" r="0.8"/><circle cx="355.34" cy="615.37" r="0.8"/><circle cx="319.81" cy="613.98" r="0.8"/><circle cx="336.4" cy="614.96" r="0.8"/><circle cx="314.58" cy="608.83" r="0.8"/><circle cx="352.92" cy="616.58" r="0.8"/><circle cx="340.2" cy="612.61" r="0.8"/><circle cx="312.59" cy="616.49" r="0.8"/><circle cx="324.05" cy="611.17" r="0.8"/><circle cx="300.27" cy="622.41" r="0.8"/><circle cx="287.4" cy="615.8" r="0.8"/><circle cx="322.57" cy="611.23" r="0.8"/><circle cx="307.54" cy="632.32" r="0.8"/><circle cx="358.91" cy="616.44" r="0.8"/><circle cx="277.87" cy="613.27" r="0.8"/><circle cx="334.27" cy="612.69" r="0.8"/><circle cx="310.03" cy="617.53" r="0.8"/><circle cx="329.25" cy="612.62" r="0.8"/><circle cx="335.8" cy="617.97" r="0.8"/><circle cx="299.7" cy="617.85" r="0.8"/><circle cx="289.06" cy="605.97" r="0.8"/><circle cx="297.25" cy="618.96" r="0.8"/><circle cx="313.13" cy="618.14" r="0.8"/><circle cx="301.99" cy="607.17" r="0.8"/><circle cx="352.52" cy="616.01" r="0.8"/><circle cx="305.88" cy="613.79" r="0.8"/><circle cx="331.27" cy="619.23" r="0.8"/><circle cx="335.82" cy="617.95" r="0.8"/><circle cx="309.52" cy="610.94" r="0.8"/><circle cx="290.24" cy="611.24" r="0.8"/><circle cx="351.22" cy="617.09" r="0.8"/><circle cx="320.68" cy="624.3" r="0.8"/><circle cx="347.84" cy="617.72" r="0.8"/><circle cx="303.54" cy="616.33" r="0.8"/><circle cx="341.88" cy="612.16" r="0.8"/><circle cx="296.91" cy="627.72" r="0.8"/><circle cx="291.05" cy="619.04" r="0.8"/><circle cx="345.83" cy="615.33" r="0.8"/><circle cx="343.45" cy="621.61" r="0.8"/><circle cx="360.94" cy="615.36" r="0.8"/><circle cx="308.95" cy="606.6" r="0.8"/><circle cx="348.88" cy="615.98" r="0.8"/><circle cx="326.5" cy="618.38" r="0.8"/><circle cx="352.3" cy="617.65" r="0.8"/><circle cx="328.91" cy="616.51" r="0.8"/><circle cx="331.85" cy="624" r="0.8"/><circle cx="328.58" cy="607.41" r="0.8"/><circle cx="323.6" cy="616.95" r="0.8"/><circle cx="317.24" cy="620.74" r="0.8"/><circle cx="292.88" cy="623.39" r="0.8"/><circle cx="311.06" cy="615.47" r="0.8"/><circle cx="340.83" cy="620.19" r="0.8"/><circle cx="312.3" cy="612.76" r="0.8"/><circle cx="310.32" cy="619.75" r="0.8"/><circle cx="345.34" cy="615.92" r="0.8"/><circle cx="282.83" cy="612.92" r="0.8"/><circle cx="303.07" cy="622.67" r="0.8"/><circle cx="306.83" cy="620.17" r="0.8"/><circle cx="294.09" cy="625.06" r="0.8"/><circle cx="348.17" cy="614.35" r="0.8"/><circle cx="278.7" cy="618.58" r="0.8"/><circle cx="352.21" cy="617.61" r="0.8"/><circle cx="287.73" cy="619.63" r="0.8"/><circle cx="305.07" cy="616.57" r="0.8"/><circle cx="340.87" cy="610.31" r="0.8"/><circle cx="335.49" cy="613.17" r="0.8"/><circle cx="319.04" cy="614.4" r="0.8"/><circle cx="315.08" cy="620.57" r="0.8"/><circle cx="297.02" cy="614.38" r="0.8"/><circle cx="317.58" cy="610.84" r="0.8"/><circle cx="296.59" cy="622.34" r="0.8"/><circle cx="300.26" cy="623.32" r="0.8"/><circle cx="334.96" cy="611.26" r="0.8"/><circle cx="277.93" cy="620.82" r="0.8"/><circle cx="354.17" cy="617.35" r="0.8"/><circle cx="313.58" cy="608.72" r="0.8"/><circle cx="320.35" cy="607.39" r="0.8"/><circle cx="303.44" cy="630.31" r="0.8"/><circle cx="296.6" cy="605.68" r="0.8"/><circle cx="319.04" cy="616.09" r="0.8"/><circle cx="343.39" cy="613.31" r="0.8"/><circle cx="360.42" cy="616.48" r="0.8"/><circle cx="296.55" cy="623.18" r="0.8"/><circle cx="293.34" cy="618.38" r="0.8"/><circle cx="322.83" cy="617.44" r="0.8"/><circle cx="343.99" cy="614.81" r="0.8"/><circle cx="353.93" cy="614.93" r="0.8"/><circle cx="340.46" cy="615.48" r="0.8"/><circle cx="289.44" cy="611.82" r="0.8"/><circle cx="349.49" cy="614.52" r="0.8"/><circle cx="315.34" cy="608.32" r="0.8"/><circle cx="310.63" cy="611.47" r="0.8"/><circle cx="353.88" cy="618.23" r="0.8"/><circle cx="348.68" cy="616.53" r="0.8"/><circle cx="293.58" cy="615.24" r="0.8"/><circle cx="316.42" cy="615.14" r="0.8"/><circle cx="320.38" cy="612.79" r="0.8"/><circle cx="295.52" cy="616.86" r="0.8"/><circle cx="355.16" cy="616.35" r="0.8"/><circle cx="344.2" cy="613.05" r="0.8"/><circle cx="291.27" cy="603.96" r="0.8"/><circle cx="344.52" cy="613.07" r="0.8"/><circle cx="351.66" cy="613.8" r="0.8"/><circle cx="341.36" cy="613.68" r="0.8"/><circle cx="288.76" cy="612.91" r="0.8"/><circle cx="347.3" cy="614.32" r="0.8"/><circle cx="317.32" cy="609.22" r="0.8"/><circle cx="334.76" cy="624.07" r="0.8"/><circle cx="298.36" cy="614.47" r="0.8"/><circle cx="306.36" cy="601.49" r="0.8"/><circle cx="327.31" cy="612.13" r="0.8"/><circle cx="299.14" cy="613.96" r="0.8"/><circle cx="331.99" cy="628.24" r="0.8"/><circle cx="302.58" cy="617.95" r="0.8"/><circle cx="295.08" cy="616.48" r="0.8"/><circle cx="326.83" cy="616.6" r="0.8"/><circle cx="278.18" cy="617.33" r="0.8"/><circle cx="306.93" cy="619.16" r="0.8"/><circle cx="295.86" cy="621.44" r="0.8"/><circle cx="345.72" cy="615.54" r="0.8"/><circle cx="339.02" cy="620.92" r="0.8"/><circle cx="301.06" cy="620.65" r="0.8"/><circle cx="301.57" cy="611.14" r="0.8"/><circle cx="314.77" cy="614.56" r="0.8"/><circle cx="316.2" cy="616.63" r="0.8"/><circle cx="339.33" cy="618.84" r="0.8"/><circle cx="340.17" cy="614.04" r="0.8"/><circle cx="322.33" cy="612.47" r="0.8"/><circle cx="326.9" cy="613.28" r="0.8"/><circle cx="307.71" cy="629.5" r="0.8"/><circle cx="342.32" cy="618.6" r="0.8"/><circle cx="340.23" cy="612.02" r="0.8"/><circle cx="315.1" cy="625.88" r="0.8"/><circle cx="285.49" cy="616.8" r="0.8"/><circle cx="329.82" cy="620.14" r="0.8"/><circle cx="325.88" cy="615.83" r="0.8"/><circle cx="323.87" cy="615.55" r="0.8"/><circle cx="311.12" cy="611.15" r="0.8"/><circle cx="316.96" cy="610.5" r="0.8"/><circle cx="346.96" cy="613.59" r="0.8"/><circle cx="322.82" cy="615.04" r="0.8"/><circle cx="351.45" cy="613.81" r="0.8"/><circle cx="357.48" cy="616.22" r="0.8"/><circle cx="288.79" cy="629.8" r="0.8"/><circle cx="329.59" cy="616.76" r="0.8"/><circle cx="303.78" cy="599.32" r="0.8"/><circle cx="290.04" cy="617.85" r="0.8"/><circle cx="284.55" cy="622.76" r="0.8"/><circle cx="316.7" cy="607.36" r="0.8"/><circle cx="291.22" cy="615.98" r="0.8"/><circle cx="310.41" cy="622.55" r="0.8"/><circle cx="346.23" cy="613.05" r="0.8"/><circle cx="300.69" cy="626.59" r="0.8"/><circle cx="293.16" cy="638.87" r="0.8"/><circle cx="315.25" cy="625.16" r="0.8"/><circle cx="348.45" cy="613.68" r="0.8"/><circle cx="356.08" cy="617.35" r="0.8"/><circle cx="313.6" cy="618.64" r="0.8"/><circle cx="294.93" cy="616.51" r="0.8"/><circle cx="355.77" cy="615.83" r="0.8"/><circle cx="329.69" cy="623.56" r="0.8"/><circle cx="320.44" cy="617.78" r="0.8"/><circle cx="323.5" cy="613.47" r="0.8"/><circle cx="297.37" cy="627.81" r="0.8"/><circle cx="321.57" cy="613.68" r="0.8"/><circle cx="330.69" cy="618.03" r="0.8"/><circle cx="340.88" cy="623.56" r="0.8"/><circle cx="333.43" cy="611.18" r="0.8"/><circle cx="298.31" cy="637.13" r="0.8"/><circle cx="316.47" cy="627.95" r="0.8"/><circle cx="314.47" cy="621.13" r="0.8"/><circle cx="323.47" cy="606.68" r="0.8"/><circle cx="348.1" cy="615.28" r="0.8"/><circle cx="314.68" cy="620.44" r="0.8"/><circle cx="325.97" cy="614.85" r="0.8"/><circle cx="326.17" cy="618.96" r="0.8"/><circle cx="315.27" cy="619.35" r="0.8"/><circle cx="349.57" cy="616.16" r="0.8"/><circle cx="300.39" cy="621.56" r="0.8"/><circle cx="323.56" cy="621.27" r="0.8"/><circle cx="308.23" cy="624.98" r="0.8"/><circle cx="324.69" cy="630.66" r="0.8"/><circle cx="310.99" cy="609.99" r="0.8"/><circle cx="315.89" cy="608.21" r="0.8"/><circle cx="280.39" cy="615.93" r="0.8"/><circle cx="314.32" cy="608.51" r="0.8"/><circle cx="348.55" cy="617.08" r="0.8"/><circle cx="333.23" cy="621.36" r="0.8"/><circle cx="320" cy="616.36" r="0.8"/><circle cx="346.05" cy="614.34" r="0.8"/><circle cx="308.31" cy="601.26" r="0.8"/><circle cx="320.65" cy="619.16" r="0.8"/><circle cx="331.54" cy="616.22" r="0.8"/><circle cx="343.95" cy="616.24" r="0.8"/><circle cx="299" cy="613.59" r="0.8"/><circle cx="336.11" cy="612.73" r="0.8"/><circle cx="330.53" cy="616.5" r="0.8"/><circle cx="347.77" cy="620.03" r="0.8"/><circle cx="311.49" cy="615.37" r="0.8"/><circle cx="350.59" cy="615.26" r="0.8"/><circle cx="290.81" cy="628.82" r="0.8"/><circle cx="349.02" cy="612.73" r="0.8"/><circle cx="342.01" cy="615.04" r="0.8"/><circle cx="358.06" cy="616.98" r="0.8"/><circle cx="311.09" cy="620.32" r="0.8"/><circle cx="343.09" cy="619.83" r="0.8"/><circle cx="298.39" cy="615.7" r="0.8"/><circle cx="349.57" cy="614.25" r="0.8"/><circle cx="342.31" cy="621.09" r="0.8"/><circle cx="362.75" cy="616.35" r="0.8"/><circle cx="340.63" cy="617.08" r="0.8"/><circle cx="314.98" cy="615.25" r="0.8"/><circle cx="306.92" cy="611.35" r="0.8"/><circle cx="280.8" cy="617.22" r="0.8"/><circle cx="310.1" cy="624.66" r="0.8"/><circle cx="309.83" cy="616.62" r="0.8"/><circle cx="349.07" cy="615.9" r="0.8"/><circle cx="330.97" cy="618.63" r="0.8"/><circle cx="322.15" cy="615.86" r="0.8"/><circle cx="323.98" cy="610.67" r="0.8"/><circle cx="347.49" cy="616.42" r="0.8"/><circle cx="335.38" cy="622.4" r="0.8"/><circle cx="348.11" cy="618.39" r="0.8"/><circle cx="330.74" cy="605.2" r="0.8"/><circle cx="322.33" cy="615.43" r="0.8"/><circle cx="304.27" cy="622.79" r="0.8"/><circle cx="295.52" cy="613.32" r="0.8"/><circle cx="349.3" cy="612.24" r="0.8"/><circle cx="355.84" cy="614.96" r="0.8"/><circle cx="301.76" cy="623.26" r="0.8"/><circle cx="320.79" cy="619.42" r="0.8"/><circle cx="302.77" cy="615.99" r="0.8"/><circle cx="316.26" cy="621.72" r="0.8"/><circle cx="305.79" cy="624.17" r="0.8"/><circle cx="353.38" cy="617.76" r="0.8"/><circle cx="302.65" cy="631.47" r="0.8"/><circle cx="344.11" cy="616.5" r="0.8"/><circle cx="334.64" cy="618.14" r="0.8"/><circle cx="329.52" cy="623.23" r="0.8"/><circle cx="328.14" cy="618.08" r="0.8"/><circle cx="344.26" cy="617.87" r="0.8"/><circle cx="314.01" cy="611.05" r="0.8"/><circle cx="308.84" cy="612.74" r="0.8"/><circle cx="312.72" cy="612.43" r="0.8"/><circle cx="286.98" cy="624.13" r="0.8"/><circle cx="344.05" cy="614.73" r="0.8"/><circle cx="330.69" cy="618.87" r="0.8"/><circle cx="324.46" cy="614.74" r="0.8"/><circle cx="343.65" cy="616.14" r="0.8"/><circle cx="343.75" cy="619.01" r="0.8"/><circle cx="331.87" cy="618.46" r="0.8"/><circle cx="287.88" cy="603.98" r="0.8"/><circle cx="346.42" cy="619.16" r="0.8"/><circle cx="355.06" cy="618.02" r="0.8"/><circle cx="296.49" cy="624.47" r="0.8"/><circle cx="315.85" cy="630.72" r="0.8"/><circle cx="303.99" cy="615.65" r="0.8"/><circle cx="316.23" cy="614.33" r="0.8"/><circle cx="300.48" cy="621.41" r="0.8"/><circle cx="286.81" cy="610.69" r="0.8"/><circle cx="329.6" cy="626.62" r="0.8"/><circle cx="351.77" cy="616.59" r="0.8"/><circle cx="323.73" cy="617.09" r="0.8"/><circle cx="288.86" cy="612.31" r="0.8"/><circle cx="345.27" cy="611.98" r="0.8"/><circle cx="293.43" cy="611.13" r="0.8"/><circle cx="297.31" cy="608.02" r="0.8"/><circle cx="287.81" cy="623.07" r="0.8"/><circle cx="316.82" cy="617.53" r="0.8"/><circle cx="365.57" cy="615.84" r="0.8"/><circle cx="347.78" cy="617.47" r="0.8"/><circle cx="359.88" cy="616.69" r="0.8"/><circle cx="328.35" cy="625.14" r="0.8"/><circle cx="349.8" cy="616.78" r="0.8"/><circle cx="348.98" cy="619.55" r="0.8"/><circle cx="342.32" cy="618.73" r="0.8"/><circle cx="349.15" cy="619.32" r="0.8"/><circle cx="296.49" cy="631.63" r="0.8"/><circle cx="333.85" cy="618.04" r="0.8"/><circle cx="351.97" cy="613.36" r="0.8"/><circle cx="340.21" cy="615.47" r="0.8"/><circle cx="350.23" cy="612.89" r="0.8"/><circle cx="320.5" cy="621.98" r="0.8"/><circle cx="286.41" cy="622.12" r="0.8"/><circle cx="319.71" cy="613.45" r="0.8"/><circle cx="323.12" cy="619.07" r="0.8"/><circle cx="297.82" cy="622.05" r="0.8"/><circle cx="291.19" cy="601.93" r="0.8"/><circle cx="297.04" cy="609.33" r="0.8"/><circle cx="339.9" cy="614.94" r="0.8"/><circle cx="336.23" cy="617.12" r="0.8"/><circle cx="302.72" cy="621.83" r="0.8"/><circle cx="288.79" cy="614.26" r="0.8"/><circle cx="281.42" cy="615.61" r="0.8"/><circle cx="343.2" cy="612.58" r="0.8"/><circle cx="294.44" cy="614.08" r="0.8"/><circle cx="312.93" cy="616.65" r="0.8"/><circle cx="348.55" cy="618.93" r="0.8"/><circle cx="347.23" cy="616.03" r="0.8"/><circle cx="301.81" cy="597.46" r="0.8"/><circle cx="350.08" cy="617.43" r="0.8"/><circle cx="298.27" cy="620.67" r="0.8"/><circle cx="313.83" cy="613.43" r="0.8"/><circle cx="312.31" cy="606.92" r="0.8"/><circle cx="355.89" cy="617.41" r="0.8"/><circle cx="288.69" cy="612.55" r="0.8"/><circle cx="319.01" cy="610.1" r="0.8"/><circle cx="319.36" cy="616.29" r="0.8"/><circle cx="346.61" cy="620.33" r="0.8"/><circle cx="327.14" cy="620.46" r="0.8"/><circle cx="334.92" cy="626.44" r="0.8"/><circle cx="300.87" cy="612.6" r="0.8"/><circle cx="302.24" cy="614.17" r="0.8"/><circle cx="316.15" cy="610.13" r="0.8"/><circle cx="319.37" cy="604.37" r="0.8"/><circle cx="308.76" cy="613.69" r="0.8"/><circle cx="311.96" cy="622.2" r="0.8"/><circle cx="297.13" cy="613.62" r="0.8"/><circle cx="291.03" cy="622.1" r="0.8"/><circle cx="343.17" cy="611.46" r="0.8"/><circle cx="308" cy="597.1" r="0.8"/><circle cx="320.87" cy="623.39" r="0.8"/><circle cx="289.88" cy="625.51" r="0.8"/><circle cx="316.62" cy="618" r="0.8"/><circle cx="355.89" cy="616.91" r="0.8"/><circle cx="304.74" cy="622.84" r="0.8"/><circle cx="314.65" cy="617.34" r="0.8"/><circle cx="306.33" cy="625.03" r="0.8"/><circle cx="336.98" cy="623.44" r="0.8"/><circle cx="326.19" cy="615.9" r="0.8"/><circle cx="345.48" cy="613.54" r="0.8"/><circle cx="341.98" cy="614.1" r="0.8"/><circle cx="348.87" cy="615.03" r="0.8"/><circle cx="291.76" cy="622.04" r="0.8"/><circle cx="294.93" cy="616.5" r="0.8"/><circle cx="305.2" cy="625.62" r="0.8"/><circle cx="278.16" cy="622.03" r="0.8"/><circle cx="313.38" cy="616.14" r="0.8"/><circle cx="280.37" cy="613.19" r="0.8"/><circle cx="290.42" cy="610.71" r="0.8"/><circle cx="313" cy="617.95" r="0.8"/><circle cx="301.78" cy="594.38" r="0.8"/><circle cx="352.78" cy="615.28" r="0.8"/><circle cx="355.35" cy="613.63" r="0.8"/><circle cx="304.66" cy="632.76" r="0.8"/><circle cx="298.55" cy="602.51" r="0.8"/><circle cx="282.15" cy="615.04" r="0.8"/><circle cx="300.02" cy="616.8" r="0.8"/><circle cx="353.54" cy="614.79" r="0.8"/><circle cx="305.11" cy="634.5" r="0.8"/><circle cx="354.25" cy="614.15" r="0.8"/><circle cx="347.57" cy="614.81" r="0.8"/><circle cx="309.03" cy="613.5" r="0.8"/><circle cx="316.13" cy="607.97" r="0.8"/><circle cx="292.71" cy="621.38" r="0.8"/><circle cx="346.74" cy="616.32" r="0.8"/><circle cx="298.22" cy="622.93" r="0.8"/><circle cx="307.92" cy="619.17" r="0.8"/><circle cx="319.21" cy="625.17" r="0.8"/><circle cx="288.45" cy="626.96" r="0.8"/><circle cx="308.73" cy="616.71" r="0.8"/><circle cx="339.78" cy="614.56" r="0.8"/><circle cx="303.77" cy="605.08" r="0.8"/><circle cx="330.23" cy="613.36" r="0.8"/><circle cx="315.37" cy="624.79" r="0.8"/><circle cx="342.66" cy="611.91" r="0.8"/><circle cx="313.86" cy="609.45" r="0.8"/><circle cx="360.7" cy="616.83" r="0.8"/><circle cx="324.88" cy="618.24" r="0.8"/><circle cx="289.42" cy="608.84" r="0.8"/><circle cx="349.01" cy="616.24" r="0.8"/><circle cx="291.15" cy="611.04" r="0.8"/><circle cx="353.45" cy="617.33" r="0.8"/><circle cx="311.8" cy="618.11" r="0.8"/><circle cx="294.68" cy="626.46" r="0.8"/><circle cx="307.49" cy="622.99" r="0.8"/><circle cx="329.38" cy="617.96" r="0.8"/><circle cx="335.49" cy="621.8" r="0.8"/><circle cx="349.02" cy="614.87" r="0.8"/><circle cx="339.09" cy="614.91" r="0.8"/><circle cx="288.75" cy="621.27" r="0.8"/><circle cx="344.8" cy="615.39" r="0.8"/><circle cx="331.15" cy="621.13" r="0.8"/><circle cx="291.11" cy="603.51" r="0.8"/><circle cx="354.4" cy="617.39" r="0.8"/><circle cx="321.9" cy="621.31" r="0.8"/><circle cx="343.91" cy="621.03" r="0.8"/><circle cx="305.15" cy="617.92" r="0.8"/><circle cx="341.12" cy="615.27" r="0.8"/><circle cx="328.2" cy="613.12" r="0.8"/><circle cx="318.29" cy="621.59" r="0.8"/><circle cx="290.1" cy="624.1" r="0.8"/><circle cx="351.44" cy="616.83" r="0.8"/><circle cx="348.32" cy="611.98" r="0.8"/><circle cx="288.8" cy="608.85" r="0.8"/><circle cx="332.2" cy="617.18" r="0.8"/><circle cx="349.05" cy="617.47" r="0.8"/><circle cx="316.8" cy="611.15" r="0.8"/><circle cx="299.63" cy="612.82" r="0.8"/><circle cx="288.66" cy="613.23" r="0.8"/><circle cx="344.59" cy="616.03" r="0.8"/><circle cx="322.17" cy="624.5" r="0.8"/><circle cx="328.85" cy="614.5" r="0.8"/><circle cx="285.62" cy="616.17" r="0.8"/><circle cx="304.76" cy="608.79" r="0.8"/><circle cx="295.85" cy="626.19" r="0.8"/><circle cx="282.77" cy="613.92" r="0.8"/><circle cx="288.07" cy="618.76" r="0.8"/><circle cx="346.52" cy="615.16" r="0.8"/><circle cx="329.06" cy="614.25" r="0.8"/><circle cx="347.99" cy="614.07" r="0.8"/><circle cx="327.37" cy="622.44" r="0.8"/><circle cx="314.3" cy="616.58" r="0.8"/><circle cx="309.54" cy="611.16" r="0.8"/><circle cx="309.5" cy="621.1" r="0.8"/><circle cx="325.65" cy="610.26" r="0.8"/><circle cx="307.48" cy="611.25" r="0.8"/><circle cx="304.19" cy="615.86" r="0.8"/><circle cx="295.4" cy="621.61" r="0.8"/><circle cx="314.37" cy="611.73" r="0.8"/><circle cx="338.1" cy="616.88" r="0.8"/><circle cx="296.68" cy="608.04" r="0.8"/><circle cx="348.71" cy="611.52" r="0.8"/><circle cx="346.83" cy="617.42" r="0.8"/><circle cx="277.29" cy="617.22" r="0.8"/><circle cx="311.12" cy="608.97" r="0.8"/><circle cx="353.4" cy="617.77" r="0.8"/><circle cx="363.84" cy="616.57" r="0.8"/><circle cx="345.31" cy="614.08" r="0.8"/><circle cx="307.39" cy="610.88" r="0.8"/><circle cx="325.31" cy="618.4" r="0.8"/><circle cx="309.66" cy="610.9" r="0.8"/><circle cx="290.53" cy="614.13" r="0.8"/><circle cx="329.51" cy="608.51" r="0.8"/><circle cx="306.04" cy="607.99" r="0.8"/><circle cx="314.78" cy="618.79" r="0.8"/><circle cx="305.41" cy="624.68" r="0.8"/><circle cx="284.5" cy="611.57" r="0.8"/><circle cx="298.03" cy="613.32" r="0.8"/><circle cx="297.35" cy="617.56" r="0.8"/><circle cx="337.47" cy="617.87" r="0.8"/><circle cx="343.95" cy="617.93" r="0.8"/><circle cx="317.93" cy="604.92" r="0.8"/><circle cx="341.93" cy="615.58" r="0.8"/><circle cx="351.52" cy="617.32" r="0.8"/><circle cx="344.43" cy="620.47" r="0.8"/><circle cx="307.38" cy="620.37" r="0.8"/><circle cx="337.28" cy="621.33" r="0.8"/><circle cx="329.04" cy="612.25" r="0.8"/><circle cx="302.65" cy="626" r="0.8"/><circle cx="306.88" cy="619.52" r="0.8"/><circle cx="348.9" cy="615.79" r="0.8"/><circle cx="338.98" cy="620.62" r="0.8"/><circle cx="302.67" cy="618.26" r="0.8"/><circle cx="337.75" cy="615.14" r="0.8"/><circle cx="310.96" cy="611.6" r="0.8"/><circle cx="343.78" cy="612.39" r="0.8"/><circle cx="296.64" cy="612.24" r="0.8"/><circle cx="353.05" cy="617.48" r="0.8"/><circle cx="312.19" cy="617.78" r="0.8"/><circle cx="360.27" cy="616.35" r="0.8"/><circle cx="300.78" cy="607.88" r="0.8"/><circle cx="345.42" cy="613.73" r="0.8"/><circle cx="301.25" cy="629.55" r="0.8"/><circle cx="318.1" cy="624.8" r="0.8"/><circle cx="352.92" cy="616.71" r="0.8"/><circle cx="332.84" cy="607.97" r="0.8"/><circle cx="342.31" cy="619.85" r="0.8"/><circle cx="317.31" cy="624.95" r="0.8"/><circle cx="287.45" cy="610.02" r="0.8"/><circle cx="349.33" cy="619.15" r="0.8"/><circle cx="302.74" cy="608.8" r="0.8"/><circle cx="336.17" cy="616.36" r="0.8"/><circle cx="292.21" cy="619.39" r="0.8"/><circle cx="343.86" cy="614.89" r="0.8"/><circle cx="290.46" cy="612.94" r="0.8"/><circle cx="295.48" cy="614.99" r="0.8"/><circle cx="328.39" cy="616.2" r="0.8"/><circle cx="292.02" cy="607.72" r="0.8"/><circle cx="309.27" cy="605.99" r="0.8"/><circle cx="314.88" cy="613.99" r="0.8"/><circle cx="310.49" cy="626.94" r="0.8"/><circle cx="314.57" cy="619.87" r="0.8"/><circle cx="314.25" cy="612.94" r="0.8"/><circle cx="330.14" cy="608.52" r="0.8"/><circle cx="277.88" cy="619.31" r="0.8"/><circle cx="313.15" cy="627.17" r="0.8"/><circle cx="310.18" cy="618.18" r="0.8"/><circle cx="318.48" cy="620.66" r="0.8"/><circle cx="286.94" cy="623.09" r="0.8"/><circle cx="347.78" cy="616.59" r="0.8"/><circle cx="328.8" cy="617.48" r="0.8"/><circle cx="297.27" cy="605.78" r="0.8"/><circle cx="337.17" cy="614.45" r="0.8"/><circle cx="286.65" cy="624.65" r="0.8"/><circle cx="324.74" cy="613.23" r="0.8"/><circle cx="335.29" cy="618.1" r="0.8"/><circle cx="283.32" cy="613.97" r="0.8"/><circle cx="334.29" cy="607.41" r="0.8"/><circle cx="334.96" cy="619.35" r="0.8"/><circle cx="326.89" cy="620.04" r="0.8"/><circle cx="332.84" cy="615.28" r="0.8"/><circle cx="310.75" cy="610.94" r="0.8"/><circle cx="319.29" cy="622.46" r="0.8"/><circle cx="283.09" cy="614.97" r="0.8"/><circle cx="293.46" cy="617.05" r="0.8"/><circle cx="315.19" cy="608.88" r="0.8"/><circle cx="324.23" cy="611.12" r="0.8"/><circle cx="318.4" cy="619.51" r="0.8"/><circle cx="315.18" cy="615.52" r="0.8"/><circle cx="299.55" cy="620.32" r="0.8"/><circle cx="292.45" cy="605.35" r="0.8"/><circle cx="306.1" cy="629.06" r="0.8"/><circle cx="318.63" cy="626.28" r="0.8"/><circle cx="355.37" cy="616.77" r="0.8"/><circle cx="303.83" cy="619.95" r="0.8"/><circle cx="289.86" cy="615.81" r="0.8"/><circle cx="288.9" cy="619.41" r="0.8"/><circle cx="296.93" cy="613.38" r="0.8"/><circle cx="293.27" cy="611.7" r="0.8"/><circle cx="355.33" cy="616.79" r="0.8"/><circle cx="318.45" cy="603.4" r="0.8"/><circle cx="335.34" cy="608.57" r="0.8"/><circle cx="321.64" cy="613.63" r="0.8"/><circle cx="343.18" cy="612.06" r="0.8"/><circle cx="302.96" cy="618" r="0.8"/><circle cx="346.53" cy="617.65" r="0.8"/><circle cx="329.6" cy="617.66" r="0.8"/><circle cx="325.39" cy="617.02" r="0.8"/><circle cx="317.03" cy="610.56" r="0.8"/><circle cx="360.2" cy="616.38" r="0.8"/><circle cx="329.53" cy="618.12" r="0.8"/><circle cx="289.77" cy="622.46" r="0.8"/><circle cx="289.2" cy="607.65" r="0.8"/><circle cx="294.07" cy="622" r="0.8"/><circle cx="309.52" cy="620.83" r="0.8"/><circle cx="341.13" cy="610.28" r="0.8"/><circle cx="354.48" cy="615.72" r="0.8"/><circle cx="338.82" cy="609.12" r="0.8"/><circle cx="334.96" cy="618.4" r="0.8"/><circle cx="326.92" cy="614.04" r="0.8"/><circle cx="363.21" cy="616.67" r="0.8"/><circle cx="329.38" cy="613.46" r="0.8"/><circle cx="325.02" cy="620.67" r="0.8"/><circle cx="287.09" cy="634.89" r="0.8"/><circle cx="332" cy="618.19" r="0.8"/><circle cx="344.26" cy="614.79" r="0.8"/><circle cx="288.09" cy="616.81" r="0.8"/><circle cx="306.13" cy="609.02" r="0.8"/><circle cx="308.76" cy="601.24" r="0.8"/><circle cx="312.66" cy="619.42" r="0.8"/><circle cx="324.81" cy="608.21" r="0.8"/><circle cx="299.59" cy="613.08" r="0.8"/><circle cx="342.27" cy="614.54" r="0.8"/><circle cx="346.53" cy="616.19" r="0.8"/><circle cx="305.49" cy="611.76" r="0.8"/><circle cx="314.28" cy="606.37" r="0.8"/><circle cx="302.85" cy="627.71" r="0.8"/><circle cx="355.08" cy="616.68" r="0.8"/><circle cx="310.49" cy="617.13" r="0.8"/><circle cx="309.68" cy="614.83" r="0.8"/><circle cx="306.88" cy="620.19" r="0.8"/><circle cx="325.7" cy="618.89" r="0.8"/><circle cx="365.82" cy="616.3" r="0.8"/><circle cx="277.01" cy="617.03" r="0.8"/><circle cx="297.74" cy="628.07" r="0.8"/><circle cx="295.24" cy="617.41" r="0.8"/><circle cx="299.67" cy="624.93" r="0.8"/><circle cx="307.75" cy="620.27" r="0.8"/><circle cx="355.52" cy="615.24" r="0.8"/><circle cx="318.8" cy="611.46" r="0.8"/><circle cx="352.36" cy="618.66" r="0.8"/><circle cx="336.61" cy="613.2" r="0.8"/><circle cx="347.5" cy="617.47" r="0.8"/><circle cx="365.42" cy="616.13" r="0.8"/><circle cx="341.18" cy="619.44" r="0.8"/><circle cx="299.29" cy="603.83" r="0.8"/><circle cx="347.18" cy="616.02" r="0.8"/><circle cx="347.91" cy="614.74" r="0.8"/><circle cx="288.56" cy="614.58" r="0.8"/><circle cx="288.16" cy="619.09" r="0.8"/><circle cx="298.71" cy="637.19" r="0.8"/><circle cx="359.52" cy="616.83" r="0.8"/><circle cx="310.93" cy="611.48" r="0.8"/><circle cx="328.12" cy="619.39" r="0.8"/><circle cx="329.5" cy="613.26" r="0.8"/><circle cx="306.87" cy="616.43" r="0.8"/><circle cx="336.67" cy="615.83" r="0.8"/><circle cx="316.32" cy="608.14" r="0.8"/><circle cx="291.31" cy="602.65" r="0.8"/><circle cx="320.33" cy="612.01" r="0.8"/><circle cx="341.06" cy="614.25" r="0.8"/><circle cx="329.51" cy="621.69" r="0.8"/><circle cx="365.64" cy="615.92" r="0.8"/><circle cx="337.6" cy="620.53" r="0.8"/><circle cx="349.59" cy="616.25" r="0.8"/><circle cx="316.63" cy="617.46" r="0.8"/><circle cx="308.34" cy="618.03" r="0.8"/><circle cx="364.75" cy="615.43" r="0.8"/><circle cx="300.13" cy="629.09" r="0.8"/><circle cx="305.51" cy="622.9" r="0.8"/><circle cx="353.57" cy="616.32" r="0.8"/><circle cx="350.26" cy="614.86" r="0.8"/><circle cx="320.37" cy="614.31" r="0.8"/><circle cx="342.63" cy="615.66" r="0.8"/><circle cx="294.6" cy="614.7" r="0.8"/><circle cx="344.04" cy="615.99" r="0.8"/><circle cx="321.16" cy="622.46" r="0.8"/><circle cx="291.53" cy="612.54" r="0.8"/><circle cx="323.63" cy="610.23" r="0.8"/><circle cx="331.78" cy="616.73" r="0.8"/><circle cx="335.53" cy="615.92" r="0.8"/><circle cx="344.45" cy="621.99" r="0.8"/><circle cx="306.49" cy="610.66" r="0.8"/><circle cx="312.03" cy="618.35" r="0.8"/><circle cx="365.84" cy="616.6" r="0.8"/><circle cx="343.65" cy="615.56" r="0.8"/><circle cx="315.63" cy="605.01" r="0.8"/><circle cx="313.58" cy="615.96" r="0.8"/><circle cx="327.18" cy="621.33" r="0.8"/><circle cx="307.29" cy="617.51" r="0.8"/><circle cx="303.14" cy="606.31" r="0.8"/><circle cx="297.17" cy="627.38" r="0.8"/><circle cx="329.35" cy="617.16" r="0.8"/><circle cx="300.9" cy="622.24" r="0.8"/><circle cx="327.97" cy="614.58" r="0.8"/><circle cx="306.35" cy="624.94" r="0.8"/><circle cx="339.34" cy="621.14" r="0.8"/><circle cx="330.99" cy="612.94" r="0.8"/><circle cx="348.69" cy="616.9" r="0.8"/><circle cx="322.36" cy="620.96" r="0.8"/><circle cx="331.37" cy="625.1" r="0.8"/><circle cx="294.31" cy="617.96" r="0.8"/><circle cx="288.53" cy="619" r="0.8"/><circle cx="331.61" cy="609.88" r="0.8"/><circle cx="302.91" cy="611.62" r="0.8"/><circle cx="299.9" cy="626.82" r="0.8"/><circle cx="331.84" cy="616.99" r="0.8"/><circle cx="307.87" cy="627.5" r="0.8"/><circle cx="361.61" cy="616.67" r="0.8"/><circle cx="321.95" cy="617.37" r="0.8"/><circle cx="322.02" cy="609.46" r="0.8"/><circle cx="298.45" cy="618.08" r="0.8"/><circle cx="309.71" cy="618.38" r="0.8"/><circle cx="304.08" cy="609.63" r="0.8"/><circle cx="354.04" cy="615.54" r="0.8"/><circle cx="287.25" cy="627.12" r="0.8"/><circle cx="312.93" cy="626.96" r="0.8"/><circle cx="351.66" cy="617.37" r="0.8"/><circle cx="309.27" cy="610.41" r="0.8"/><circle cx="309.91" cy="613.29" r="0.8"/><circle cx="321.01" cy="610.77" r="0.8"/><circle cx="334.23" cy="617.7" r="0.8"/><circle cx="319.78" cy="621.7" r="0.8"/><circle cx="350.97" cy="613.83" r="0.8"/><circle cx="344.79" cy="616.81" r="0.8"/><circle cx="320.46" cy="611.08" r="0.8"/><circle cx="298.04" cy="615.55" r="0.8"/><circle cx="323.26" cy="611.45" r="0.8"/><circle cx="354.39" cy="617.32" r="0.8"/><circle cx="325.28" cy="610.67" r="0.8"/><circle cx="311.33" cy="621.11" r="0.8"/><circle cx="354.16" cy="615.65" r="0.8"/><circle cx="314.63" cy="629.22" r="0.8"/><circle cx="335.24" cy="611.84" r="0.8"/><circle cx="292.99" cy="630.4" r="0.8"/><circle cx="301.78" cy="607.82" r="0.8"/><circle cx="343.57" cy="619.63" r="0.8"/><circle cx="337.73" cy="610.74" r="0.8"/><circle cx="296.69" cy="612.65" r="0.8"/><circle cx="316.85" cy="616.11" r="0.8"/><circle cx="309.28" cy="607.83" r="0.8"/><circle cx="297.64" cy="617.16" r="0.8"/><circle cx="288.41" cy="601.51" r="0.8"/><circle cx="355.6" cy="615.91" r="0.8"/><circle cx="318.06" cy="617.44" r="0.8"/><circle cx="350.42" cy="614.38" r="0.8"/><circle cx="316.21" cy="613.91" r="0.8"/><circle cx="334.59" cy="620.58" r="0.8"/><circle cx="359.57" cy="617.33" r="0.8"/><circle cx="341.91" cy="614.65" r="0.8"/><circle cx="332.22" cy="612.64" r="0.8"/><circle cx="312.81" cy="618.06" r="0.8"/><circle cx="294.3" cy="615.39" r="0.8"/><circle cx="287.41" cy="623.44" r="0.8"/><circle cx="305.11" cy="624.14" r="0.8"/><circle cx="329.25" cy="621.5" r="0.8"/><circle cx="306.49" cy="627.21" r="0.8"/><circle cx="324.18" cy="611.35" r="0.8"/><circle cx="319.02" cy="610.12" r="0.8"/><circle cx="294.9" cy="624.1" r="0.8"/><circle cx="296.54" cy="621.95" r="0.8"/><circle cx="343.74" cy="619.11" r="0.8"/><circle cx="325.37" cy="612.92" r="0.8"/><circle cx="312.91" cy="610.76" r="0.8"/><circle cx="322.17" cy="616.45" r="0.8"/><circle cx="289.17" cy="623.68" r="0.8"/><circle cx="338.73" cy="613.4" r="0.8"/><circle cx="307.73" cy="616.07" r="0.8"/><circle cx="330.51" cy="611.86" r="0.8"/><circle cx="296.87" cy="616.25" r="0.8"/><circle cx="334.61" cy="625.63" r="0.8"/><circle cx="316.78" cy="617.81" r="0.8"/><circle cx="324.71" cy="615.68" r="0.8"/><circle cx="356.91" cy="617.33" r="0.8"/><circle cx="347.11" cy="615.81" r="0.8"/><circle cx="326.83" cy="613.7" r="0.8"/><circle cx="318.84" cy="617.33" r="0.8"/><circle cx="290.83" cy="609.86" r="0.8"/><circle cx="309.54" cy="618.98" r="0.8"/><circle cx="342.79" cy="617.5" r="0.8"/><circle cx="290.62" cy="616.39" r="0.8"/><circle cx="316.27" cy="615.74" r="0.8"/><circle cx="288.1" cy="608.92" r="0.8"/><circle cx="347.46" cy="612.45" r="0.8"/><circle cx="305.95" cy="611.86" r="0.8"/><circle cx="322.56" cy="617.69" r="0.8"/><circle cx="333.65" cy="618.45" r="0.8"/><circle cx="310.41" cy="621.38" r="0.8"/><circle cx="353.64" cy="615.95" r="0.8"/><circle cx="283.03" cy="626.94" r="0.8"/><circle cx="329.53" cy="608.59" r="0.8"/><circle cx="354.36" cy="615.53" r="0.8"/><circle cx="353.82" cy="613.61" r="0.8"/><circle cx="342.19" cy="616.32" r="0.8"/><circle cx="317.92" cy="621.67" r="0.8"/><circle cx="318.53" cy="612.87" r="0.8"/><circle cx="283.83" cy="615.63" r="0.8"/><circle cx="308.84" cy="615.67" r="0.8"/><circle cx="311.92" cy="607.31" r="0.8"/><circle cx="319.54" cy="619.2" r="0.8"/><circle cx="312.65" cy="621.83" r="0.8"/><circle cx="342.13" cy="609.53" r="0.8"/><circle cx="314.93" cy="612.11" r="0.8"/><circle cx="333.81" cy="619.13" r="0.8"/><circle cx="329.64" cy="623.28" r="0.8"/><circle cx="333.06" cy="618.56" r="0.8"/><circle cx="354.65" cy="616.97" r="0.8"/><circle cx="320.2" cy="613.82" r="0.8"/><circle cx="316.29" cy="621.68" r="0.8"/><circle cx="355.86" cy="616.29" r="0.8"/><circle cx="290.93" cy="606.29" r="0.8"/><circle cx="332.4" cy="609.49" r="0.8"/><circle cx="313.8" cy="614.8" r="0.8"/><circle cx="301.5" cy="619.19" r="0.8"/><circle cx="312.75" cy="608.89" r="0.8"/><circle cx="311.62" cy="635.89" r="0.8"/><circle cx="312.17" cy="624.39" r="0.8"/><circle cx="341.94" cy="617.38" r="0.8"/><circle cx="309.9" cy="606.42" r="0.8"/><circle cx="282.68" cy="615.76" r="0.8"/><circle cx="304.26" cy="629.14" r="0.8"/><circle cx="292.45" cy="610.47" r="0.8"/><circle cx="278.66" cy="613.08" r="0.8"/><circle cx="311.81" cy="611.87" r="0.8"/><circle cx="347.37" cy="615.22" r="0.8"/><circle cx="321.85" cy="610.2" r="0.8"/><circle cx="356.24" cy="616.9" r="0.8"/><circle cx="346.11" cy="617.4" r="0.8"/><circle cx="324.78" cy="626.88" r="0.8"/><circle cx="316.81" cy="615.32" r="0.8"/><circle cx="355.46" cy="615.61" r="0.8"/><circle cx="352.91" cy="613.37" r="0.8"/><circle cx="302.69" cy="629.01" r="0.8"/><circle cx="308.38" cy="611.96" r="0.8"/><circle cx="333.21" cy="614.19" r="0.8"/><circle cx="291.38" cy="606.41" r="0.8"/><circle cx="350.95" cy="616.01" r="0.8"/><circle cx="314.27" cy="607.61" r="0.8"/><circle cx="295.25" cy="615.65" r="0.8"/><circle cx="308.94" cy="617.31" r="0.8"/><circle cx="315.59" cy="617.6" r="0.8"/><circle cx="325.97" cy="610.24" r="0.8"/><circle cx="317.97" cy="614.81" r="0.8"/><circle cx="353.53" cy="615.55" r="0.8"/><circle cx="334.48" cy="616.51" r="0.8"/><circle cx="313.57" cy="615.32" r="0.8"/><circle cx="311.75" cy="626.17" r="0.8"/><circle cx="310.45" cy="619.13" r="0.8"/><circle cx="365.5" cy="616.24" r="0.8"/><circle cx="302.9" cy="626.08" r="0.8"/><circle cx="288.33" cy="623.46" r="0.8"/><circle cx="316.87" cy="610.28" r="0.8"/><circle cx="314.64" cy="616.79" r="0.8"/><circle cx="320.57" cy="612.42" r="0.8"/><circle cx="354.45" cy="617.04" r="0.8"/><circle cx="321.4" cy="624.1" r="0.8"/><circle cx="346.06" cy="615.59" r="0.8"/><circle cx="296.82" cy="616.82" r="0.8"/><circle cx="299.02" cy="606.43" r="0.8"/><circle cx="327.64" cy="617.86" r="0.8"/><circle cx="308.95" cy="603.33" r="0.8"/><circle cx="355.48" cy="614.73" r="0.8"/><circle cx="330.36" cy="619.57" r="0.8"/><circle cx="322.67" cy="617.38" r="0.8"/><circle cx="360.2" cy="616.46" r="0.8"/><circle cx="316.3" cy="615.72" r="0.8"/><circle cx="318.07" cy="611.75" r="0.8"/><circle cx="308.72" cy="622.75" r="0.8"/><circle cx="309.97" cy="620.01" r="0.8"/><circle cx="337.79" cy="620.83" r="0.8"/><circle cx="330" cy="616.81" r="0.8"/><circle cx="347.94" cy="618.36" r="0.8"/><circle cx="332.76" cy="612.57" r="0.8"/><circle cx="340.2" cy="616.1" r="0.8"/><circle cx="327.52" cy="619.17" r="0.8"/><circle cx="347.42" cy="616.93" r="0.8"/><circle cx="322.06" cy="614.95" r="0.8"/><circle cx="337.76" cy="617.75" r="0.8"/><circle cx="318.05" cy="608.28" r="0.8"/><circle cx="334.59" cy="615.36" r="0.8"/><circle cx="331.44" cy="607.57" r="0.8"/><circle cx="323.68" cy="611.63" r="0.8"/><circle cx="333.37" cy="608.09" r="0.8"/><circle cx="298.44" cy="606.29" r="0.8"/><circle cx="341.2" cy="615.13" r="0.8"/><circle cx="325.34" cy="612.93" r="0.8"/><circle cx="344.02" cy="614.55" r="0.8"/><circle cx="295.52" cy="607.33" r="0.8"/><circle cx="351.23" cy="614.43" r="0.8"/><circle cx="332.91" cy="612.36" r="0.8"/><circle cx="351.49" cy="616.49" r="0.8"/><circle cx="294.29" cy="610.22" r="0.8"/><circle cx="310.04" cy="604.06" r="0.8"/><circle cx="339.22" cy="616.46" r="0.8"/><circle cx="309.32" cy="623.57" r="0.8"/><circle cx="325.88" cy="619.72" r="0.8"/><circle cx="332.6" cy="616.44" r="0.8"/><circle cx="333.62" cy="611.97" r="0.8"/><circle cx="333.07" cy="618.94" r="0.8"/><circle cx="321.14" cy="619.19" r="0.8"/><circle cx="347.09" cy="615.64" r="0.8"/><circle cx="301.34" cy="630.74" r="0.8"/><circle cx="340.77" cy="612.26" r="0.8"/><circle cx="297.74" cy="611.26" r="0.8"/><circle cx="365.13" cy="616.01" r="0.8"/><circle cx="288.2" cy="624.91" r="0.8"/><circle cx="339.07" cy="615.81" r="0.8"/><circle cx="306.04" cy="619.41" r="0.8"/><circle cx="304.02" cy="620.41" r="0.8"/><circle cx="302.38" cy="615.92" r="0.8"/><circle cx="341.07" cy="618.97" r="0.8"/><circle cx="314.25" cy="621.89" r="0.8"/><circle cx="336.27" cy="613.99" r="0.8"/><circle cx="319.09" cy="627.9" r="0.8"/><circle cx="287.35" cy="621.5" r="0.8"/><circle cx="315.71" cy="609.98" r="0.8"/><circle cx="293.1" cy="631.92" r="0.8"/><circle cx="315.68" cy="621.36" r="0.8"/><circle cx="327.91" cy="629.19" r="0.8"/><circle cx="360.3" cy="615.9" r="0.8"/><circle cx="311.76" cy="616.65" r="0.8"/><circle cx="347.41" cy="615.61" r="0.8"/><circle cx="300.78" cy="635.67" r="0.8"/><circle cx="353.08" cy="615.87" r="0.8"/><circle cx="313.68" cy="617.43" r="0.8"/><circle cx="297.12" cy="613.98" r="0.8"/><circle cx="355.13" cy="614.3" r="0.8"/><circle cx="314.47" cy="616.76" r="0.8"/><circle cx="353.49" cy="616.21" r="0.8"/><circle cx="360.15" cy="616.59" r="0.8"/><circle cx="300.23" cy="612.67" r="0.8"/><circle cx="322.61" cy="621.6" r="0.8"/><circle cx="319.94" cy="618.62" r="0.8"/><circle cx="312.79" cy="610.71" r="0.8"/><circle cx="299.39" cy="621.08" r="0.8"/><circle cx="332.12" cy="613.15" r="0.8"/><circle cx="356.5" cy="616.85" r="0.8"/><circle cx="352.58" cy="614.65" r="0.8"/><circle cx="357.82" cy="616.42" r="0.8"/><circle cx="354.78" cy="615.9" r="0.8"/><circle cx="303.12" cy="601.43" r="0.8"/><circle cx="290.33" cy="623.88" r="0.8"/><circle cx="313.75" cy="612.15" r="0.8"/><circle cx="332.71" cy="612.76" r="0.8"/><circle cx="294.86" cy="596.1" r="0.8"/><circle cx="292.95" cy="604.94" r="0.8"/><circle cx="300.9" cy="622.59" r="0.8"/><circle cx="314.77" cy="615.9" r="0.8"/><circle cx="292.79" cy="605.51" r="0.8"/><circle cx="307.17" cy="614.52" r="0.8"/><circle cx="293.44" cy="624.99" r="0.8"/><circle cx="331.24" cy="608.44" r="0.8"/><circle cx="319.49" cy="616.35" r="0.8"/><circle cx="290.68" cy="622.11" r="0.8"/><circle cx="336.52" cy="621.88" r="0.8"/><circle cx="287.01" cy="613.98" r="0.8"/><circle cx="329.77" cy="616.24" r="0.8"/><circle cx="360.74" cy="615.51" r="0.8"/><circle cx="299.08" cy="628.49" r="0.8"/><circle cx="326.77" cy="607.74" r="0.8"/><circle cx="308.13" cy="621.31" r="0.8"/><circle cx="304.27" cy="633.54" r="0.8"/><circle cx="295.52" cy="624.45" r="0.8"/><circle cx="350.86" cy="616.87" r="0.8"/><circle cx="306.59" cy="609.32" r="0.8"/><circle cx="319.64" cy="618.26" r="0.8"/><circle cx="301.69" cy="613.22" r="0.8"/><circle cx="293.89" cy="615.04" r="0.8"/><circle cx="280.7" cy="611.27" r="0.8"/><circle cx="360.55" cy="616.05" r="0.8"/><circle cx="321.3" cy="611.31" r="0.8"/><circle cx="290.2" cy="607.88" r="0.8"/><circle cx="283.08" cy="619.6" r="0.8"/><circle cx="340.03" cy="618.12" r="0.8"/><circle cx="327.92" cy="611.14" r="0.8"/><circle cx="296.2" cy="614.22" r="0.8"/><circle cx="295.19" cy="611.63" r="0.8"/><circle cx="309.86" cy="612.48" r="0.8"/><circle cx="305.13" cy="617.34" r="0.8"/><circle cx="353.83" cy="617.48" r="0.8"/><circle cx="279.37" cy="621.43" r="0.8"/><circle cx="360.54" cy="616.82" r="0.8"/><circle cx="358.14" cy="615.25" r="0.8"/><circle cx="312.43" cy="628.13" r="0.8"/><circle cx="312.52" cy="601.45" r="0.8"/><circle cx="345.39" cy="617.84" r="0.8"/><circle cx="330.23" cy="614.41" r="0.8"/><circle cx="336.14" cy="615" r="0.8"/><circle cx="299.62" cy="620.64" r="0.8"/><circle cx="318.94" cy="621.42" r="0.8"/><circle cx="320.12" cy="615.75" r="0.8"/><circle cx="318.36" cy="604.73" r="0.8"/><circle cx="304.59" cy="611.46" r="0.8"/><circle cx="347.74" cy="616.55" r="0.8"/><circle cx="344.43" cy="617.21" r="0.8"/><circle cx="349.17" cy="617.08" r="0.8"/><circle cx="296.07" cy="608.91" r="0.8"/><circle cx="307.09" cy="611.09" r="0.8"/><circle cx="339.9" cy="612.83" r="0.8"/><circle cx="360.21" cy="616.64" r="0.8"/><circle cx="304.07" cy="613.6" r="0.8"/><circle cx="296.23" cy="619.62" r="0.8"/><circle cx="301.42" cy="605.22" r="0.8"/><circle cx="328.84" cy="616.91" r="0.8"/><circle cx="303.05" cy="623.9" r="0.8"/><circle cx="352.99" cy="616.04" r="0.8"/><circle cx="287.14" cy="616.28" r="0.8"/><circle cx="357.79" cy="616.56" r="0.8"/><circle cx="298.83" cy="610.07" r="0.8"/><circle cx="300.46" cy="621.42" r="0.8"/><circle cx="359.44" cy="615.39" r="0.8"/><circle cx="325.87" cy="617.98" r="0.8"/><circle cx="336.79" cy="612.96" r="0.8"/><circle cx="293.29" cy="614.91" r="0.8"/><circle cx="298.16" cy="610.85" r="0.8"/><circle cx="311.07" cy="615.93" r="0.8"/><circle cx="309.05" cy="623.83" r="0.8"/><circle cx="337.26" cy="619.21" r="0.8"/><circle cx="288.09" cy="615.08" r="0.8"/><circle cx="326.5" cy="615.69" r="0.8"/><circle cx="311.95" cy="621.65" r="0.8"/><circle cx="292.49" cy="618.31" r="0.8"/><circle cx="304.79" cy="610.58" r="0.8"/><circle cx="294.16" cy="615.86" r="0.8"/><circle cx="298.43" cy="615.74" r="0.8"/><circle cx="292.96" cy="624.92" r="0.8"/><circle cx="290.67" cy="615.92" r="0.8"/><circle cx="310.43" cy="617.3" r="0.8"/><circle cx="287.17" cy="610.69" r="0.8"/><circle cx="354.2" cy="616.55" r="0.8"/><circle cx="336.05" cy="620.76" r="0.8"/><circle cx="346.96" cy="616.9" r="0.8"/><circle cx="339.78" cy="620.36" r="0.8"/><circle cx="337.66" cy="614.48" r="0.8"/><circle cx="356.18" cy="616.65" r="0.8"/><circle cx="332.02" cy="624.37" r="0.8"/><circle cx="318.66" cy="598.78" r="0.8"/><circle cx="338.49" cy="614.74" r="0.8"/><circle cx="316.83" cy="610.86" r="0.8"/><circle cx="308.97" cy="609.69" r="0.8"/><circle cx="292.93" cy="621.94" r="0.8"/><circle cx="311.11" cy="614.37" r="0.8"/><circle cx="289.8" cy="611.17" r="0.8"/><circle cx="340.07" cy="616.27" r="0.8"/><circle cx="291.18" cy="612.64" r="0.8"/><circle cx="343.28" cy="610.43" r="0.8"/><circle cx="321.25" cy="619.72" r="0.8"/><circle cx="313.98" cy="617.49" r="0.8"/><circle cx="334.96" cy="613.68" r="0.8"/><circle cx="359.19" cy="616.51" r="0.8"/><circle cx="338.48" cy="614.89" r="0.8"/><circle cx="321.64" cy="611.57" r="0.8"/><circle cx="328.01" cy="617.45" r="0.8"/><circle cx="306.05" cy="624.03" r="0.8"/><circle cx="340.09" cy="613.73" r="0.8"/><circle cx="337.13" cy="612.26" r="0.8"/><circle cx="295.06" cy="624.08" r="0.8"/><circle cx="342.11" cy="621.9" r="0.8"/><circle cx="356.68" cy="615.7" r="0.8"/><circle cx="323.05" cy="614.11" r="0.8"/><circle cx="365.26" cy="616.52" r="0.8"/><circle cx="347.9" cy="616.56" r="0.8"/><circle cx="362.11" cy="616.62" r="0.8"/><circle cx="296.94" cy="620.85" r="0.8"/><circle cx="314.87" cy="610.05" r="0.8"/><circle cx="317.61" cy="615.96" r="0.8"/><circle cx="331.66" cy="617.09" r="0.8"/><circle cx="330.53" cy="617" r="0.8"/><circle cx="331.38" cy="618.41" r="0.8"/><circle cx="322.72" cy="617.28" r="0.8"/><circle cx="338.89" cy="617.72" r="0.8"/><circle cx="303.18" cy="636.5" r="0.8"/><circle cx="322.2" cy="615.69" r="0.8"/><circle cx="323.24" cy="619.06" r="0.8"/><circle cx="350.21" cy="614.99" r="0.8"/><circle cx="340.06" cy="619.87" r="0.8"/><circle cx="347.84" cy="613.88" r="0.8"/><circle cx="301.39" cy="603.8" r="0.8"/><circle cx="338.31" cy="614.84" r="0.8"/><circle cx="328.89" cy="611.65" r="0.8"/><circle cx="348.07" cy="614.27" r="0.8"/><circle cx="294.25" cy="610.38" r="0.8"/><circle cx="288.88" cy="610.8" r="0.8"/><circle cx="355.68" cy="616.49" r="0.8"/><circle cx="342.41" cy="616.05" r="0.8"/><circle cx="302.26" cy="613.51" r="0.8"/><circle cx="311.41" cy="622.86" r="0.8"/><circle cx="318.02" cy="600.43" r="0.8"/><circle cx="308.33" cy="610.44" r="0.8"/><circle cx="317.1" cy="614.46" r="0.8"/><circle cx="326.2" cy="612.22" r="0.8"/><circle cx="314.22" cy="612.09" r="0.8"/><circle cx="290.43" cy="609.33" r="0.8"/><circle cx="357.26" cy="615.29" r="0.8"/><circle cx="345.14" cy="610.54" r="0.8"/><circle cx="324.45" cy="621.8" r="0.8"/><circle cx="307.91" cy="598.65" r="0.8"/><circle cx="342.88" cy="617.22" r="0.8"/><circle cx="324.94" cy="614.31" r="0.8"/><circle cx="342.07" cy="612.77" r="0.8"/><circle cx="298.21" cy="614.82" r="0.8"/><circle cx="290.3" cy="604.61" r="0.8"/><circle cx="305.37" cy="604.06" r="0.8"/><circle cx="334.45" cy="615.53" r="0.8"/><circle cx="312.66" cy="619.11" r="0.8"/><circle cx="303.25" cy="611.73" r="0.8"/><circle cx="318.05" cy="610.98" r="0.8"/><circle cx="341.06" cy="621.46" r="0.8"/><circle cx="291.46" cy="614.43" r="0.8"/><circle cx="278.46" cy="618.03" r="0.8"/><circle cx="321.46" cy="614.24" r="0.8"/><circle cx="353.4" cy="615.08" r="0.8"/><circle cx="344.87" cy="614.41" r="0.8"/><circle cx="292.55" cy="618.81" r="0.8"/><circle cx="295.12" cy="609.77" r="0.8"/><circle cx="321.93" cy="628.29" r="0.8"/><circle cx="322.67" cy="624.98" r="0.8"/><circle cx="300.12" cy="607.07" r="0.8"/><circle cx="290.78" cy="609.19" r="0.8"/><circle cx="344.74" cy="618.53" r="0.8"/><circle cx="305.35" cy="604.23" r="0.8"/><circle cx="323.41" cy="615.43" r="0.8"/><circle cx="344.65" cy="611.5" r="0.8"/><circle cx="296.45" cy="607.36" r="0.8"/><circle cx="321.07" cy="610.21" r="0.8"/><circle cx="315.64" cy="613.66" r="0.8"/><circle cx="346.55" cy="616.84" r="0.8"/><circle cx="287.22" cy="622" r="0.8"/><circle cx="318.45" cy="623.75" r="0.8"/><circle cx="280.57" cy="615.91" r="0.8"/><circle cx="361.46" cy="615.83" r="0.8"/><circle cx="293.6" cy="631.2" r="0.8"/><circle cx="317.68" cy="628.36" r="0.8"/><circle cx="293.29" cy="619.97" r="0.8"/><circle cx="316.43" cy="617.94" r="0.8"/><circle cx="332.58" cy="621.92" r="0.8"/><circle cx="363.99" cy="616.01" r="0.8"/><circle cx="351.77" cy="615.6" r="0.8"/><circle cx="354.86" cy="615.85" r="0.8"/><circle cx="333.65" cy="615.91" r="0.8"/><circle cx="355.39" cy="615.97" r="0.8"/><circle cx="292.85" cy="612.93" r="0.8"/><circle cx="316.28" cy="618.98" r="0.8"/><circle cx="297.36" cy="622.73" r="0.8"/><circle cx="300.74" cy="627.92" r="0.8"/><circle cx="277.48" cy="620.46" r="0.8"/><circle cx="322.71" cy="603.5" r="0.8"/><circle cx="326.92" cy="611.37" r="0.8"/><circle cx="301.32" cy="610.98" r="0.8"/><circle cx="290.05" cy="612.05" r="0.8"/><circle cx="342.47" cy="619.83" r="0.8"/><circle cx="331.81" cy="619.53" r="0.8"/><circle cx="335.43" cy="618.34" r="0.8"/><circle cx="304.43" cy="614.28" r="0.8"/><circle cx="310.26" cy="621.03" r="0.8"/><circle cx="289.53" cy="615.51" r="0.8"/><circle cx="315.84" cy="601.94" r="0.8"/><circle cx="332.76" cy="614.52" r="0.8"/><circle cx="359.99" cy="616.83" r="0.8"/><circle cx="299.02" cy="615.57" r="0.8"/><circle cx="312.22" cy="614.49" r="0.8"/><circle cx="302.21" cy="621.13" r="0.8"/><circle cx="335.86" cy="616.87" r="0.8"/><circle cx="322.07" cy="623.28" r="0.8"/><circle cx="299" cy="621.07" r="0.8"/><circle cx="334.98" cy="618.46" r="0.8"/><circle cx="290.22" cy="599.99" r="0.8"/><circle cx="324.89" cy="610.67" r="0.8"/><circle cx="318.84" cy="618.29" r="0.8"/><circle cx="351.6" cy="616.01" r="0.8"/><circle cx="359.41" cy="615.49" r="0.8"/><circle cx="353.81" cy="615.73" r="0.8"/><circle cx="297.47" cy="623.49" r="0.8"/><circle cx="311" cy="618.54" r="0.8"/><circle cx="288.83" cy="623.72" r="0.8"/><circle cx="315.66" cy="617.55" r="0.8"/><circle cx="326.15" cy="618.1" r="0.8"/><circle cx="343.89" cy="616.51" r="0.8"/><circle cx="344.76" cy="612" r="0.8"/><circle cx="292.21" cy="620.43" r="0.8"/><circle cx="344.52" cy="612.45" r="0.8"/><circle cx="306.03" cy="615.01" r="0.8"/><circle cx="321.74" cy="609.47" r="0.8"/><circle cx="338.05" cy="617.14" r="0.8"/><circle cx="356.71" cy="616.49" r="0.8"/><circle cx="277.91" cy="618.66" r="0.8"/><circle cx="277.09" cy="615" r="0.8"/><circle cx="326.31" cy="616.2" r="0.8"/><circle cx="303.54" cy="613.43" r="0.8"/><circle cx="344.38" cy="620.21" r="0.8"/><circle cx="345.66" cy="619.08" r="0.8"/><circle cx="350.08" cy="616.34" r="0.8"/><circle cx="307.15" cy="620.55" r="0.8"/><circle cx="317.48" cy="618.04" r="0.8"/><circle cx="351.56" cy="617.49" r="0.8"/><circle cx="307.3" cy="624.19" r="0.8"/><circle cx="314.73" cy="617.91" r="0.8"/><circle cx="302.08" cy="606.54" r="0.8"/><circle cx="345.07" cy="619.46" r="0.8"/><circle cx="324.15" cy="619.64" r="0.8"/><circle cx="302.91" cy="611.89" r="0.8"/><circle cx="306.33" cy="606.21" r="0.8"/><circle cx="290.53" cy="624.19" r="0.8"/><circle cx="359.8" cy="615.61" r="0.8"/><circle cx="331.14" cy="613.88" r="0.8"/><circle cx="297.27" cy="617.09" r="0.8"/><circle cx="351.96" cy="617.13" r="0.8"/><circle cx="326.42" cy="617.39" r="0.8"/><circle cx="333.39" cy="618.32" r="0.8"/><circle cx="319.91" cy="616.03" r="0.8"/><circle cx="339.19" cy="609.16" r="0.8"/><circle cx="348.68" cy="616.21" r="0.8"/><circle cx="355.02" cy="614.58" r="0.8"/><circle cx="288.27" cy="610.68" r="0.8"/><circle cx="342.35" cy="613.69" r="0.8"/><circle cx="325.3" cy="609.67" r="0.8"/><circle cx="307.36" cy="609.85" r="0.8"/><circle cx="317.19" cy="619.33" r="0.8"/><circle cx="344.82" cy="614.72" r="0.8"/><circle cx="287.14" cy="602.72" r="0.8"/><circle cx="360.93" cy="615.87" r="0.8"/><circle cx="292.78" cy="608.89" r="0.8"/><circle cx="301.71" cy="631.36" r="0.8"/><circle cx="287.54" cy="618.22" r="0.8"/><circle cx="352.69" cy="617.47" r="0.8"/><circle cx="342.67" cy="613.57" r="0.8"/><circle cx="349.53" cy="616.74" r="0.8"/><circle cx="346.92" cy="617.55" r="0.8"/><circle cx="304.47" cy="594.9" r="0.8"/><circle cx="354.64" cy="616.32" r="0.8"/><circle cx="309.84" cy="619.05" r="0.8"/><circle cx="310.48" cy="619.38" r="0.8"/><circle cx="320.59" cy="631.66" r="0.8"/><circle cx="351.42" cy="616.92" r="0.8"/><circle cx="331.89" cy="617.66" r="0.8"/><circle cx="342.96" cy="611.64" r="0.8"/><circle cx="334.35" cy="616.23" r="0.8"/><circle cx="333.25" cy="613.55" r="0.8"/><circle cx="340.2" cy="620.19" r="0.8"/><circle cx="287.99" cy="623.86" r="0.8"/><circle cx="340.19" cy="613.23" r="0.8"/><circle cx="291.29" cy="622.23" r="0.8"/><circle cx="317.83" cy="615.9" r="0.8"/><circle cx="350.29" cy="614.91" r="0.8"/><circle cx="288.42" cy="620.77" r="0.8"/><circle cx="308.18" cy="628.33" r="0.8"/><circle cx="348.33" cy="615.96" r="0.8"/><circle cx="354.77" cy="615.98" r="0.8"/><circle cx="328.1" cy="612.78" r="0.8"/><circle cx="353.45" cy="614.36" r="0.8"/><circle cx="317.81" cy="616.31" r="0.8"/><circle cx="319.62" cy="617.44" r="0.8"/><circle cx="314.36" cy="605.32" r="0.8"/><circle cx="332.82" cy="619.98" r="0.8"/><circle cx="305.51" cy="622.24" r="0.8"/><circle cx="357.67" cy="615.98" r="0.8"/><circle cx="338.63" cy="613.74" r="0.8"/><circle cx="311.27" cy="616.24" r="0.8"/><circle cx="314.97" cy="620.39" r="0.8"/><circle cx="321.08" cy="616.42" r="0.8"/><circle cx="345.44" cy="616.78" r="0.8"/><circle cx="325.69" cy="626.62" r="0.8"/><circle cx="348.54" cy="615.75" r="0.8"/><circle cx="345.52" cy="615.52" r="0.8"/><circle cx="341.41" cy="615.32" r="0.8"/><circle cx="312.06" cy="630.3" r="0.8"/><circle cx="315.97" cy="617.91" r="0.8"/><circle cx="339.93" cy="620.65" r="0.8"/><circle cx="353.84" cy="616.67" r="0.8"/><circle cx="307.87" cy="598.8" r="0.8"/><circle cx="311.72" cy="610.62" r="0.8"/><circle cx="326.71" cy="620.01" r="0.8"/><circle cx="310.84" cy="615.15" r="0.8"/><circle cx="342.51" cy="624.66" r="0.8"/><circle cx="292.16" cy="612.64" r="0.8"/><circle cx="298.83" cy="629.17" r="0.8"/><circle cx="338.54" cy="617.04" r="0.8"/><circle cx="326.56" cy="614.12" r="0.8"/><circle cx="290.28" cy="613.95" r="0.8"/><circle cx="303.29" cy="597.34" r="0.8"/><circle cx="353.42" cy="614.94" r="0.8"/><circle cx="320.7" cy="613.45" r="0.8"/><circle cx="309.93" cy="627" r="0.8"/><circle cx="337.54" cy="611.69" r="0.8"/><circle cx="300.6" cy="611.16" r="0.8"/><circle cx="336.85" cy="620.32" r="0.8"/><circle cx="313.08" cy="628.46" r="0.8"/><circle cx="337.37" cy="606.91" r="0.8"/><circle cx="339.74" cy="619.24" r="0.8"/><circle cx="332.08" cy="617.49" r="0.8"/><circle cx="298.09" cy="620.12" r="0.8"/><circle cx="352.98" cy="614.58" r="0.8"/><circle cx="333.55" cy="610.19" r="0.8"/><circle cx="297.3" cy="622.39" r="0.8"/><circle cx="317.05" cy="615.97" r="0.8"/><circle cx="345.06" cy="616.53" r="0.8"/><circle cx="332.06" cy="612.87" r="0.8"/><circle cx="351.96" cy="617.14" r="0.8"/><circle cx="320.3" cy="618.61" r="0.8"/><circle cx="353.47" cy="614.78" r="0.8"/><circle cx="327.55" cy="614.29" r="0.8"/><circle cx="352.15" cy="618.47" r="0.8"/><circle cx="297.9" cy="614.92" r="0.8"/><circle cx="284.69" cy="614.83" r="0.8"/><circle cx="345.53" cy="620.77" r="0.8"/><circle cx="301.12" cy="625.02" r="0.8"/><circle cx="342.25" cy="613" r="0.8"/><circle cx="349.27" cy="616.67" r="0.8"/><circle cx="332.1" cy="624.81" r="0.8"/><circle cx="362.87" cy="615.91" r="0.8"/><circle cx="349.89" cy="611.8" r="0.8"/><circle cx="302.55" cy="633.8" r="0.8"/><circle cx="289.69" cy="614.29" r="0.8"/><circle cx="327.27" cy="609.96" r="0.8"/><circle cx="303.1" cy="609.86" r="0.8"/><circle cx="300.19" cy="618.57" r="0.8"/><circle cx="332.14" cy="619.52" r="0.8"/><circle cx="303.92" cy="616.08" r="0.8"/><circle cx="292.76" cy="629.17" r="0.8"/><circle cx="347.18" cy="618.52" r="0.8"/><circle cx="304.13" cy="615.58" r="0.8"/><circle cx="296.34" cy="632.2" r="0.8"/><circle cx="345.94" cy="616.29" r="0.8"/><circle cx="303.02" cy="621.63" r="0.8"/><circle cx="351.64" cy="617.01" r="0.8"/><circle cx="300.97" cy="618.61" r="0.8"/><circle cx="321.32" cy="623.81" r="0.8"/><circle cx="298.02" cy="610.16" r="0.8"/><circle cx="318.38" cy="620.45" r="0.8"/><circle cx="309.48" cy="614.09" r="0.8"/><circle cx="335.08" cy="614.13" r="0.8"/><circle cx="325.47" cy="614.47" r="0.8"/><circle cx="311.09" cy="611.26" r="0.8"/><circle cx="359" cy="617.45" r="0.8"/><circle cx="340.76" cy="613.77" r="0.8"/><circle cx="328.57" cy="617.47" r="0.8"/><circle cx="359.94" cy="616.66" r="0.8"/><circle cx="346.19" cy="614.61" r="0.8"/><circle cx="352.89" cy="618.75" r="0.8"/><circle cx="351.99" cy="616.26" r="0.8"/><circle cx="299.8" cy="608.5" r="0.8"/><circle cx="292.09" cy="608.65" r="0.8"/><circle cx="333.15" cy="618.52" r="0.8"/><circle cx="355.27" cy="617.06" r="0.8"/><circle cx="305.58" cy="613.61" r="0.8"/><circle cx="325.78" cy="626.75" r="0.8"/><circle cx="300.44" cy="626.05" r="0.8"/><circle cx="356.13" cy="616.36" r="0.8"/><circle cx="311.78" cy="624.95" r="0.8"/><circle cx="339.61" cy="613.96" r="0.8"/><circle cx="342.57" cy="613.84" r="0.8"/><circle cx="352.01" cy="617.58" r="0.8"/><circle cx="313.98" cy="615.29" r="0.8"/><circle cx="355.01" cy="615.91" r="0.8"/><circle cx="330.29" cy="612.21" r="0.8"/><circle cx="333.77" cy="618.89" r="0.8"/><circle cx="298.22" cy="620.98" r="0.8"/><circle cx="304.89" cy="604.84" r="0.8"/><circle cx="288.39" cy="633.37" r="0.8"/><circle cx="333.12" cy="612.66" r="0.8"/><circle cx="344.23" cy="611.45" r="0.8"/><circle cx="346.79" cy="618.26" r="0.8"/><circle cx="354.43" cy="616.35" r="0.8"/><circle cx="320.02" cy="619.1" r="0.8"/><circle cx="290.49" cy="605.78" r="0.8"/><circle cx="333.84" cy="620.43" r="0.8"/><circle cx="330.63" cy="616.57" r="0.8"/><circle cx="287.02" cy="616.24" r="0.8"/><circle cx="351.37" cy="614.88" r="0.8"/><circle cx="340.35" cy="615.47" r="0.8"/><circle cx="319.42" cy="611.93" r="0.8"/><circle cx="299.46" cy="608.09" r="0.8"/><circle cx="291.3" cy="628.61" r="0.8"/><circle cx="299.22" cy="608.46" r="0.8"/><circle cx="308.36" cy="605.73" r="0.8"/><circle cx="353.89" cy="616.75" r="0.8"/><circle cx="310.15" cy="625.82" r="0.8"/><circle cx="331.2" cy="623.88" r="0.8"/><circle cx="309.17" cy="623.43" r="0.8"/><circle cx="317.27" cy="616.55" r="0.8"/><circle cx="303.41" cy="617.32" r="0.8"/><circle cx="355.4" cy="616.68" r="0.8"/><circle cx="299.42" cy="619.65" r="0.8"/><circle cx="349.6" cy="617.88" r="0.8"/><circle cx="302.11" cy="619.59" r="0.8"/><circle cx="353" cy="615.8" r="0.8"/><circle cx="300.22" cy="602.36" r="0.8"/><circle cx="304.55" cy="612.59" r="0.8"/><circle cx="338.29" cy="615.07" r="0.8"/><circle cx="304.58" cy="611.96" r="0.8"/><circle cx="321.16" cy="620.61" r="0.8"/><circle cx="290.44" cy="615.71" r="0.8"/><circle cx="282.23" cy="613.53" r="0.8"/><circle cx="306.87" cy="598.81" r="0.8"/><circle cx="296.7" cy="613.52" r="0.8"/><circle cx="315.38" cy="618.99" r="0.8"/><circle cx="339.97" cy="613.22" r="0.8"/><circle cx="308.1" cy="619.36" r="0.8"/><circle cx="296.77" cy="619.93" r="0.8"/><circle cx="355.33" cy="616.06" r="0.8"/><circle cx="326.38" cy="610.27" r="0.8"/><circle cx="339.35" cy="611.11" r="0.8"/><circle cx="288.26" cy="609.83" r="0.8"/><circle cx="314.97" cy="603.64" r="0.8"/><circle cx="354.14" cy="614.81" r="0.8"/><circle cx="288.36" cy="606.76" r="0.8"/><circle cx="354.66" cy="615.72" r="0.8"/><circle cx="354.27" cy="615.59" r="0.8"/><circle cx="305.95" cy="627.76" r="0.8"/><circle cx="315.09" cy="613.15" r="0.8"/><circle cx="286.3" cy="621.23" r="0.8"/><circle cx="354.67" cy="614.59" r="0.8"/><circle cx="352.75" cy="616.14" r="0.8"/><circle cx="339.04" cy="615.6" r="0.8"/><circle cx="307.23" cy="624.04" r="0.8"/><circle cx="324.98" cy="614.95" r="0.8"/><circle cx="310.65" cy="615.6" r="0.8"/><circle cx="293.11" cy="614.75" r="0.8"/><circle cx="318.7" cy="625.93" r="0.8"/><circle cx="284.74" cy="622.97" r="0.8"/><circle cx="311.59" cy="616.14" r="0.8"/><circle cx="297.67" cy="627.42" r="0.8"/><circle cx="354.15" cy="614.57" r="0.8"/><circle cx="291.72" cy="622.67" r="0.8"/><circle cx="342.27" cy="619.6" r="0.8"/><circle cx="330.65" cy="613.36" r="0.8"/><circle cx="344.28" cy="621.63" r="0.8"/><circle cx="350.72" cy="613.12" r="0.8"/><circle cx="351.4" cy="615.27" r="0.8"/><circle cx="319.85" cy="608.53" r="0.8"/><circle cx="351.75" cy="617.13" r="0.8"/><circle cx="332.24" cy="621.37" r="0.8"/><circle cx="312.38" cy="621.46" r="0.8"/><circle cx="339.44" cy="617.31" r="0.8"/><circle cx="327.39" cy="620.41" r="0.8"/><circle cx="338.92" cy="614.76" r="0.8"/><circle cx="298.13" cy="622.54" r="0.8"/><circle cx="311.91" cy="623.01" r="0.8"/><circle cx="342.05" cy="619.74" r="0.8"/><circle cx="304.17" cy="620.02" r="0.8"/><circle cx="289.97" cy="618.53" r="0.8"/><circle cx="346.44" cy="611.11" r="0.8"/><circle cx="291.55" cy="620.52" r="0.8"/><circle cx="314.97" cy="610.97" r="0.8"/><circle cx="298.67" cy="624.92" r="0.8"/><circle cx="288.11" cy="620.89" r="0.8"/><circle cx="353.01" cy="615.37" r="0.8"/><circle cx="341.09" cy="616.39" r="0.8"/><circle cx="323.16" cy="615.41" r="0.8"/><circle cx="337.94" cy="623.75" r="0.8"/><circle cx="327.99" cy="622.39" r="0.8"/><circle cx="305.18" cy="617.16" r="0.8"/><circle cx="335.21" cy="613.15" r="0.8"/><circle cx="353.49" cy="613.84" r="0.8"/><circle cx="287.46" cy="610.43" r="0.8"/><circle cx="322.93" cy="615.6" r="0.8"/><circle cx="355.67" cy="616.13" r="0.8"/><circle cx="303.07" cy="609.05" r="0.8"/><circle cx="320.95" cy="613.68" r="0.8"/><circle cx="310.45" cy="609.22" r="0.8"/><circle cx="350.45" cy="615.95" r="0.8"/><circle cx="326" cy="616.91" r="0.8"/><circle cx="323.03" cy="617.38" r="0.8"/><circle cx="331.84" cy="612.98" r="0.8"/><circle cx="349.05" cy="615.94" r="0.8"/><circle cx="365.66" cy="616.56" r="0.8"/><circle cx="342.11" cy="614.93" r="0.8"/><circle cx="302.94" cy="615.12" r="0.8"/><circle cx="360.54" cy="616.17" r="0.8"/><circle cx="336.78" cy="617.38" r="0.8"/><circle cx="319.59" cy="611.72" r="0.8"/><circle cx="293.01" cy="617.63" r="0.8"/><circle cx="352.07" cy="617.87" r="0.8"/><circle cx="349.71" cy="614.05" r="0.8"/><circle cx="296.46" cy="613.85" r="0.8"/><circle cx="291.93" cy="614.66" r="0.8"/><circle cx="289.32" cy="622.25" r="0.8"/><circle cx="319.96" cy="604.23" r="0.8"/><circle cx="299.05" cy="623.87" r="0.8"/><circle cx="321.04" cy="619.14" r="0.8"/><circle cx="325.25" cy="625.41" r="0.8"/><circle cx="308.4" cy="614.79" r="0.8"/><circle cx="345.19" cy="621.38" r="0.8"/><circle cx="354.11" cy="616.18" r="0.8"/><circle cx="345.83" cy="619.22" r="0.8"/><circle cx="351.68" cy="616.93" r="0.8"/><circle cx="310.7" cy="606.84" r="0.8"/><circle cx="306.21" cy="618.64" r="0.8"/><circle cx="303.12" cy="615.83" r="0.8"/><circle cx="284.58" cy="614.48" r="0.8"/><circle cx="299.79" cy="635.97" r="0.8"/><circle cx="301.61" cy="616.77" r="0.8"/><circle cx="290.11" cy="612.29" r="0.8"/><circle cx="332.01" cy="620.41" r="0.8"/><circle cx="339.07" cy="616.88" r="0.8"/><circle cx="300.31" cy="627.15" r="0.8"/><circle cx="331.37" cy="614.33" r="0.8"/><circle cx="355.45" cy="617.07" r="0.8"/><circle cx="289.93" cy="621.09" r="0.8"/><circle cx="297.46" cy="607.16" r="0.8"/><circle cx="353.27" cy="617.39" r="0.8"/><circle cx="304.14" cy="608.3" r="0.8"/><circle cx="322" cy="610.3" r="0.8"/><circle cx="350.36" cy="616.94" r="0.8"/><circle cx="342.51" cy="618.67" r="0.8"/><circle cx="295.56" cy="624.19" r="0.8"/><circle cx="354.39" cy="617.42" r="0.8"/><circle cx="325.52" cy="616.18" r="0.8"/><circle cx="315.23" cy="622.79" r="0.8"/><circle cx="303.66" cy="622.81" r="0.8"/><circle cx="299.31" cy="616.94" r="0.8"/><circle cx="287.16" cy="603.72" r="0.8"/><circle cx="307.96" cy="624.59" r="0.8"/><circle cx="312.92" cy="624" r="0.8"/><circle cx="322.88" cy="611.07" r="0.8"/><circle cx="352.8" cy="615.11" r="0.8"/><circle cx="324.44" cy="612.78" r="0.8"/><circle cx="290.45" cy="602.88" r="0.8"/><circle cx="349.04" cy="614.64" r="0.8"/><circle cx="323.52" cy="626.85" r="0.8"/><circle cx="289.41" cy="607.22" r="0.8"/><circle cx="299.29" cy="621.71" r="0.8"/><circle cx="327.3" cy="614.25" r="0.8"/><circle cx="317.41" cy="613.99" r="0.8"/><circle cx="297.59" cy="631.48" r="0.8"/><circle cx="304.78" cy="620.68" r="0.8"/><circle cx="330.39" cy="611.25" r="0.8"/><circle cx="355.23" cy="615.25" r="0.8"/><circle cx="285.08" cy="611.42" r="0.8"/><circle cx="324.1" cy="615.3" r="0.8"/><circle cx="354.56" cy="618.64" r="0.8"/><circle cx="345.7" cy="615.76" r="0.8"/><circle cx="289.13" cy="613.41" r="0.8"/><circle cx="334.92" cy="609.46" r="0.8"/><circle cx="302.8" cy="606.6" r="0.8"/><circle cx="299.47" cy="628.42" r="0.8"/><circle cx="309.75" cy="623.9" r="0.8"/><circle cx="323.73" cy="607.79" r="0.8"/><circle cx="310.93" cy="616.9" r="0.8"/><circle cx="339.94" cy="614.64" r="0.8"/><circle cx="318.43" cy="616.74" r="0.8"/><circle cx="348.63" cy="618.03" r="0.8"/><circle cx="338.53" cy="611.21" r="0.8"/><circle cx="351.73" cy="615.6" r="0.8"/></g>
<path d="M289,613.08 L290,610.83 L291,608.44 L292,605.91 L293,604.43 L294,604.09 L295,603.74 L296,603.4 L297,603.59 L298,603.78 L299,603.97 L300,604.16 L301,604.35 L302,604.54 L303,604.73 L304,604.92 L305,605.11 L306,605.3 L307,605.5 L308,605.69 L309,605.88 L310,606.07 L311,606.26 L312,606.45 L313,606.64 L314,606.83 L315,607.02 L316,607.21 L317,607.4 L318,607.57 L319,607.75 L320,607.92 L321,608.1 L322,608.27 L323,608.44 L324,608.62 L325,608.79 L326,608.97 L327,609.14 L328,609.31 L329,609.49 L330,609.66 L331,609.83 L332,610.01 L333,610.18 L334,610.36 L335,610.53 L336,610.7 L337,610.88 L338,611.05 L339,611.23 L340,611.4 L341,611.62 L342,611.84 L343,612.06 L344,612.28 L345,612.5 L346,612.72 L347,612.94 L348,613.16 L349,613.38 L350,613.6 L351,613.82 L352,614.04 L353,614.26 L354,614.48 L355,614.7 L356,614.92 L356,617.48 L355,617.7 L354,617.92 L353,618.14 L352,618.36 L351,618.58 L350,618.8 L349,619.02 L348,619.24 L347,619.46 L346,619.68 L345,619.9 L344,620.12 L343,620.34 L342,620.56 L341,620.78 L340,621 L339,621.17 L338,621.35 L337,621.52 L336,621.7 L335,621.87 L334,622.04 L333,622.22 L332,622.39 L331,622.57 L330,622.74 L329,622.91 L328,623.09 L327,623.26 L326,623.43 L325,623.61 L324,623.78 L323,623.96 L322,624.13 L321,624.3 L320,624.48 L319,624.65 L318,624.83 L317,625 L316,625.19 L315,625.38 L314,625.57 L313,625.76 L312,625.95 L311,626.14 L310,626.33 L309,626.52 L308,626.71 L307,626.9 L306,627.1 L305,627.29 L304,627.48 L303,627.67 L302,627.86 L301,628.05 L300,628.24 L299,628.43 L298,628.62 L297,628.81 L296,629 L295,628.66 L294,628.31 L293,627.97 L292,626.49 L291,623.96 L290,621.57 L289,619.32Z" fill="#c4c9c9"/>
<line x1="273.6" y1="616.1" x2="375.9" y2="616.1" stroke="#d9b85a" stroke-width="0.6"/>
<g fill="#e77373"><circle cx="341.43" cy="628.96" r="1.25"/><circle cx="328.87" cy="631.78" r="1.25"/><circle cx="334.68" cy="633.98" r="1.25"/><circle cx="330.44" cy="639.16" r="1.25"/><circle cx="330.44" cy="652.5" r="1.25"/><circle cx="305.32" cy="656.43" r="1.25"/><circle cx="313.17" cy="655.33" r="1.25"/><circle cx="308.93" cy="648.27" r="1.25"/><circle cx="305.79" cy="643.08" r="1.25"/><circle cx="307.68" cy="639.95" r="1.25"/><circle cx="311.6" cy="636.81" r="1.25"/><circle cx="311.13" cy="635.55" r="1.25"/><circle cx="314.74" cy="632.1" r="1.25"/><circle cx="317.1" cy="630.53" r="1.25"/><circle cx="318.67" cy="629.74" r="1.25"/><circle cx="321.02" cy="629.27" r="1.25"/><circle cx="323.06" cy="628.96" r="1.25"/><circle cx="324.95" cy="629.43" r="1.25"/><circle cx="315.53" cy="634.45" r="1.25"/><circle cx="317.88" cy="635.24" r="1.25"/><circle cx="320.24" cy="632.88" r="1.25"/><circle cx="322.59" cy="632.1" r="1.25"/><circle cx="317.1" cy="637.59" r="1.25"/><circle cx="315.53" cy="642.77" r="1.25"/><circle cx="315.53" cy="646.22" r="1.25"/><circle cx="312.7" cy="643.08" r="1.25"/><circle cx="313.96" cy="638.38" r="1.25"/><circle cx="319.92" cy="638.38" r="1.25"/><circle cx="322.75" cy="636.49" r="1.25"/><circle cx="311.6" cy="639.16" r="1.25"/><circle cx="314.74" cy="636.02" r="1.25"/><circle cx="317.88" cy="631.78" r="1.25"/><circle cx="323.38" cy="630.53" r="1.25"/><circle cx="316.31" cy="632.88" r="1.25"/><circle cx="321.81" cy="631.31" r="1.25"/><circle cx="313.17" cy="647.01" r="1.25"/><circle cx="309.25" cy="646.22" r="1.25"/><circle cx="319.45" cy="634.45" r="1.25"/><circle cx="313.64" cy="640.73" r="1.25"/></g>
<text x="371.2" y="595.1" font-size="8.8" text-anchor="end" fill="#3a3a3a" stroke="#3a3a3a" stroke-width="0.1">Up (0)</text>
<text x="372.5" y="666.5" font-size="8.8" text-anchor="end" fill="#3a3a3a" stroke="#3a3a3a" stroke-width="0.1">Down (39)</text>
<text x="384.2" y="564" font-size="13.5" text-anchor="start" fill="#111" font-weight="bold">h</text>
<text x="471.3" y="579" font-size="7.2" text-anchor="end" fill="#3a3a3a"><tspan font-style="italic">P</tspan> = 2.6 × 10<tspan font-size="4.6" dy="-2.6">−22</tspan></text>
<line x1="436.6" y1="583.5" x2="461" y2="583.5" stroke="#555" stroke-width="0.6"/>
<line x1="422.2" y1="596.8" x2="422.2" y2="658.9" stroke="#777" stroke-width="0.7"/>
<line x1="420" y1="596.7" x2="422.2" y2="596.7" stroke="#777" stroke-width="0.7"/>
<text x="416.8" y="599.5" font-size="7.8" text-anchor="end" fill="#3a3a3a" stroke="#3a3a3a" stroke-width="0.1">0.5</text>
<line x1="420" y1="609.1" x2="422.2" y2="609.1" stroke="#777" stroke-width="0.7"/>
<text x="416.8" y="611.9" font-size="7.8" text-anchor="end" fill="#3a3a3a" stroke="#3a3a3a" stroke-width="0.1">0</text>
<line x1="420" y1="621.5" x2="422.2" y2="621.5" stroke="#777" stroke-width="0.7"/>
<text x="416.8" y="624.3" font-size="7.8" text-anchor="end" fill="#3a3a3a" stroke="#3a3a3a" stroke-width="0.1">−0.5</text>
<line x1="420" y1="633.9" x2="422.2" y2="633.9" stroke="#777" stroke-width="0.7"/>
<text x="416.8" y="636.7" font-size="7.8" text-anchor="end" fill="#3a3a3a" stroke="#3a3a3a" stroke-width="0.1">−1.0</text>
<line x1="420" y1="646.3" x2="422.2" y2="646.3" stroke="#777" stroke-width="0.7"/>
<text x="416.8" y="649.1" font-size="7.8" text-anchor="end" fill="#3a3a3a" stroke="#3a3a3a" stroke-width="0.1">−1.5</text>
<line x1="420" y1="658.7" x2="422.2" y2="658.7" stroke="#777" stroke-width="0.7"/>
<text x="416.8" y="661.5" font-size="7.8" text-anchor="end" fill="#3a3a3a" stroke="#3a3a3a" stroke-width="0.1">−2.0</text>
<text x="393.2" y="627" font-size="9.5" text-anchor="middle" fill="#3a3a3a" transform="rotate(-90 393.2 627)">Fold change (log<tspan font-size="5.8" dy="1.8">2</tspan><tspan dy="-1.8">)</tspan></text>
<line x1="437" y1="599.5" x2="437" y2="623.5" stroke="#8a8a8a" stroke-width="0.6"/>
<rect x="429.8" y="608.2" width="15.2" height="6.8" fill="#d3d3d3" stroke="#666" stroke-width="0.6"/>
<line x1="429.8" y1="611.4" x2="445" y2="611.4" stroke="#555" stroke-width="0.6"/>
<line x1="461" y1="588" x2="461" y2="664.6" stroke="#aaa" stroke-width="0.8"/>
<rect x="453" y="613.9" width="16" height="21" fill="#9c5e9c" stroke="#4e2e4e" stroke-width="0.6"/>
<line x1="453" y1="622.4" x2="469" y2="622.4" stroke="#3e1e3e" stroke-width="0.7"/>
<path d="M437,670.3 L437,666.9 L461,666.9 L461,670.3" fill="none" stroke="#777" stroke-width="0.7"/>
<text x="442" y="679.5" font-size="9.2" text-anchor="end" fill="#3a3a3a" stroke="#3a3a3a" stroke-width="0.1" transform="rotate(-45 442 679.5)">Not bound</text>
<text x="466.3" y="679.5" font-size="9.2" text-anchor="end" fill="#3a3a3a" stroke="#3a3a3a" stroke-width="0.1" transform="rotate(-45 466.3 679.5)">Bound genes</text>
<text x="480.5" y="563.5" font-size="13.5" text-anchor="start" fill="#111" font-weight="bold">i</text>
<text x="589.5" y="573.7" font-size="8.4" text-anchor="start" fill="#3a3a3a" stroke="#3a3a3a" stroke-width="0.1">2 kb</text>
<line x1="576.3" y1="579" x2="616.2" y2="579" stroke="#777" stroke-width="0.7"/>
<line x1="576.3" y1="576.8" x2="576.3" y2="581.2" stroke="#777" stroke-width="0.7"/>
<line x1="616.2" y1="576.8" x2="616.2" y2="581.2" stroke="#777" stroke-width="0.7"/>
<line x1="531.5" y1="583.3" x2="531.5" y2="600.5" stroke="#777" stroke-width="0.7"/>
<line x1="529.3" y1="583.3" x2="531.5" y2="583.3" stroke="#777" stroke-width="0.7"/>
<line x1="529.3" y1="600.5" x2="531.5" y2="600.5" stroke="#777" stroke-width="0.7"/>
<text x="526" y="585.3" font-size="7.8" text-anchor="end" fill="#3a3a3a" stroke="#3a3a3a" stroke-width="0.1">7.3</text>
<text x="526" y="602.3" font-size="7.8" text-anchor="end" fill="#3a3a3a" stroke="#3a3a3a" stroke-width="0.1">0</text>
<text x="508.5" y="592.6" font-size="9" text-anchor="end" fill="#3a3a3a" stroke="#3a3a3a" stroke-width="0.1">Zfp574</text>
<path d="M533,600.5 L533,600.21 L533.55,600.12 L534.1,600.18 L534.65,600.22 L535.2,600.14 L535.75,600.22 L536.3,600.21 L536.85,598.5 L537.4,600.03 L537.95,600.08 L538.5,598.5 L539.05,600.08 L539.6,600.14 L540.15,600.17 L540.7,600.07 L541.25,600.04 L541.8,600.04 L542.35,600.03 L542.9,599.89 L543.45,599.92 L544,600.04 L544.55,600.04 L545.1,599.9 L545.65,599.87 L546.2,599.83 L546.75,600.08 L547.3,599.82 L547.85,599.78 L548.4,600.04 L548.95,599.82 L549.5,599.8 L550.05,599.41 L550.6,598.66 L551.15,598.46 L551.7,598.62 L552.25,597.71 L552.8,597.23 L553.35,596.63 L553.9,593.79 L554.45,595.94 L555,595.61 L555.55,596.54 L556.1,597.48 L556.65,596.05 L557.2,596.91 L557.75,595.34 L558.3,596.26 L558.85,595.02 L559.4,595.22 L559.95,594.64 L560.5,591.75 L561.05,591.91 L561.6,594.14 L562.15,592.59 L562.7,595.18 L563.25,594.5 L563.8,592.18 L564.35,592.15 L564.9,593.67 L565.45,588.97 L566,591.93 L566.55,590.72 L567.1,586.58 L567.65,588.27 L568.2,587.48 L568.75,589.93 L569.3,590.67 L569.85,588.74 L570.4,593.65 L570.95,596.77 L571.5,599.75 L572.05,599.72 L572.6,599.72 L573.15,599.57 L573.7,599.85 L574.25,599.6 L574.8,599.84 L575.35,599.56 L575.9,599.56 L576.45,599.69 L577,597.54 L577.55,599.84 L578.1,599.84 L578.65,599.71 L579.2,599.87 L579.75,599.92 L580.3,599.74 L580.85,599.72 L581.4,599.61 L581.95,599.95 L582.5,598.32 L583.05,599.83 L583.6,599.91 L584.15,599.65 L584.7,599.73 L585.25,599.76 L585.8,597.59 L586.35,599.73 L586.9,599.97 L587.45,599.81 L588,599.87 L588.55,599.96 L589.1,599.74 L589.65,599.74 L590.2,599.73 L590.75,599.88 L591.3,599.7 L591.85,599.87 L592.4,599.72 L592.95,599.8 L593.5,599.82 L594.05,599.99 L594.6,599.7 L595.15,599.79 L595.7,599.79 L596.25,599.89 L596.8,600 L597.35,600.02 L597.9,599.88 L598.45,599.82 L599,599.85 L599.55,598.2 L600.1,599.84 L600.65,600 L601.2,599.85 L601.75,599.79 L602.3,599.86 L602.85,599.93 L603.4,599.79 L603.95,599.95 L604.5,599.98 L605.05,599.93 L605.6,599.83 L606.15,599.81 L606.7,600.03 L607.25,600 L607.8,599.97 L608.35,599.95 L608.9,599.86 L609.45,599.97 L610,600.09 L610.55,600.09 L611.1,599.95 L611.65,598.36 L612.2,597.67 L612.75,600.05 L613.3,600.1 L613.85,600 L614.4,599.95 L614.95,599.88 L615.5,600.07 L616,600.5 Z" fill="#9d6aa8"/>
<line x1="533" y1="600.5" x2="616" y2="600.5" stroke="#8e5a99" stroke-width="0.8"/>
<text x="532.1" y="584.8" font-size="8" text-anchor="start" fill="#3a3a3a" stroke="#3a3a3a" stroke-width="0.1">Cut&amp;Run</text>
<line x1="531.5" y1="607.6" x2="531.5" y2="624.3" stroke="#777" stroke-width="0.7"/>
<line x1="529.3" y1="607.6" x2="531.5" y2="607.6" stroke="#777" stroke-width="0.7"/>
<line x1="529.3" y1="624.3" x2="531.5" y2="624.3" stroke="#777" stroke-width="0.7"/>
<text x="526" y="609.6" font-size="7.8" text-anchor="end" fill="#3a3a3a" stroke="#3a3a3a" stroke-width="0.1">7.3</text>
<text x="526" y="626.1" font-size="7.8" text-anchor="end" fill="#3a3a3a" stroke="#3a3a3a" stroke-width="0.1">0</text>
<text x="508.5" y="616.6" font-size="9" text-anchor="end" fill="#3a3a3a" stroke="#3a3a3a" stroke-width="0.1">Input</text>
<path d="M533,624.3 L533,622.72 L533.6,623.94 L534.2,624.16 L534.8,623.95 L535.4,623.99 L536,624.1 L536.6,623.85 L537.2,623.83 L537.8,624.24 L538.4,623.99 L539,624.11 L539.6,623.86 L540.2,623.83 L540.8,623.97 L541.4,623.94 L542,623.98 L542.6,624.19 L543.2,623.81 L543.8,624.03 L544.4,624.14 L545,623.87 L545.6,624.26 L546.2,624.02 L546.8,622.45 L547.4,624.27 L548,624.21 L548.6,623.91 L549.2,624.23 L549.8,623.94 L550.4,623.96 L551,624.05 L551.6,624.26 L552.2,624.04 L552.8,623.94 L553.4,624.04 L554,624.02 L554.6,624.11 L555.2,623.85 L555.8,623.87 L556.4,624.04 L557,624.2 L557.6,624.05 L558.2,624.29 L558.8,624.04 L559.4,623.9 L560,624.05 L560.6,624.27 L561.2,624.09 L561.8,623.84 L562.4,624.06 L563,624.08 L563.6,623.85 L564.2,624.14 L564.8,623.99 L565.4,624.24 L566,624.29 L566.6,624.19 L567.2,624.14 L567.8,623.99 L568.4,623.93 L569,624.04 L569.6,624.2 L570.2,624.08 L570.8,624.09 L571.4,624.22 L572,623.98 L572.6,624.04 L573.2,623.99 L573.8,624.18 L574.4,623.89 L575,624.14 L575.6,623.84 L576.2,623.8 L576.8,624.23 L577.4,623.94 L578,624.25 L578.6,624.09 L579.2,624.24 L579.8,622.94 L580.4,623.96 L581,623.82 L581.6,624.05 L582.2,624.05 L582.8,624.21 L583.4,622.66 L584,624.04 L584.6,624.23 L585.2,624.2 L585.8,623.8 L586.4,624.25 L587,621.8 L587.6,621.8 L588.2,621.8 L588.8,621.8 L589.4,624.29 L590,623.88 L590.6,624.07 L591.2,624.1 L591.8,624.22 L592.4,624.29 L593,623.9 L593.6,623.87 L594.2,624.1 L594.8,624.05 L595.4,623.9 L596,623.84 L596.6,623.91 L597.2,624.1 L597.8,623.86 L598.4,623.92 L599,624.1 L599.6,624.26 L600.2,622.82 L600.8,623.98 L601.4,624.18 L602,623.97 L602.6,623.97 L603.2,624.03 L603.8,623.8 L604.4,623.95 L605,622.61 L605.6,623.93 L606.2,622.94 L606.8,624.11 L607.4,624.17 L608,624.02 L608.6,623.82 L609.2,623.8 L609.8,623.9 L610.4,624 L611,624.28 L611.6,624.22 L612.2,624.22 L612.8,622.34 L613.4,624.09 L614,624 L614.6,624.16 L615.2,624.02 L615.8,623.94 L616,624.3 Z" fill="#7a7a7a"/>
<line x1="533" y1="624.3" x2="616" y2="624.3" stroke="#666" stroke-width="0.8"/>
<line x1="531.5" y1="639.2" x2="531.5" y2="655.7" stroke="#777" stroke-width="0.7"/>
<line x1="529.3" y1="639.2" x2="531.5" y2="639.2" stroke="#777" stroke-width="0.7"/>
<line x1="529.3" y1="655.7" x2="531.5" y2="655.7" stroke="#777" stroke-width="0.7"/>
<text x="526" y="641.2" font-size="7.8" text-anchor="end" fill="#3a3a3a" stroke="#3a3a3a" stroke-width="0.1">23</text>
<text x="526" y="657.5" font-size="7.8" text-anchor="end" fill="#3a3a3a" stroke="#3a3a3a" stroke-width="0.1">0</text>
<text x="508.5" y="649.7" font-size="9" text-anchor="end" fill="#3a3a3a" stroke="#3a3a3a" stroke-width="0.1">−IAA</text>
<g stroke="#9c9c9c" stroke-width="0.65"><line x1="533" y1="655.7" x2="533" y2="655.7"/><line x1="533.5" y1="655.7" x2="533.5" y2="655.69"/><line x1="534" y1="655.7" x2="534" y2="655.7"/><line x1="534.5" y1="655.7" x2="534.5" y2="655.7"/><line x1="535" y1="655.7" x2="535" y2="654.73"/><line x1="535.5" y1="655.7" x2="535.5" y2="655.63"/><line x1="536" y1="655.7" x2="536" y2="653.75"/><line x1="536.5" y1="655.7" x2="536.5" y2="654.76"/><line x1="537" y1="655.7" x2="537" y2="655.7"/><line x1="537.5" y1="655.7" x2="537.5" y2="652.83"/><line x1="538" y1="655.7" x2="538" y2="653.31"/><line x1="538.5" y1="655.7" x2="538.5" y2="655.7"/><line x1="539" y1="655.7" x2="539" y2="653.68"/><line x1="539.5" y1="655.7" x2="539.5" y2="655.6"/><line x1="540" y1="655.7" x2="540" y2="655.54"/><line x1="540.5" y1="655.7" x2="540.5" y2="653.01"/><line x1="541" y1="655.7" x2="541" y2="655.69"/><line x1="541.5" y1="655.7" x2="541.5" y2="655.47"/><line x1="542" y1="655.7" x2="542" y2="653.38"/><line x1="542.5" y1="655.7" x2="542.5" y2="654.88"/><line x1="543" y1="655.7" x2="543" y2="655.56"/><line x1="543.5" y1="655.7" x2="543.5" y2="652.95"/><line x1="544" y1="655.7" x2="544" y2="654.37"/><line x1="544.5" y1="655.7" x2="544.5" y2="655.3"/><line x1="545" y1="655.7" x2="545" y2="655.69"/><line x1="545.5" y1="655.7" x2="545.5" y2="654.24"/><line x1="546" y1="655.7" x2="546" y2="655.13"/><line x1="546.5" y1="655.7" x2="546.5" y2="655.65"/><line x1="547" y1="655.7" x2="547" y2="655.7"/><line x1="547.5" y1="655.7" x2="547.5" y2="654.82"/><line x1="548" y1="655.7" x2="548" y2="655.69"/><line x1="548.5" y1="655.7" x2="548.5" y2="655.18"/><line x1="549" y1="655.7" x2="549" y2="653.91"/><line x1="549.5" y1="655.7" x2="549.5" y2="655.13"/><line x1="550" y1="655.7" x2="550" y2="655.59"/><line x1="550.5" y1="655.7" x2="550.5" y2="654.52"/><line x1="551" y1="655.7" x2="551" y2="655.26"/><line x1="551.5" y1="655.7" x2="551.5" y2="652.87"/><line x1="552" y1="655.7" x2="552" y2="654.8"/><line x1="552.5" y1="655.7" x2="552.5" y2="649.74"/><line x1="553" y1="655.7" x2="553" y2="650.51"/><line x1="553.5" y1="655.7" x2="553.5" y2="653.32"/><line x1="554" y1="655.7" x2="554" y2="655.62"/><line x1="554.5" y1="655.7" x2="554.5" y2="655.69"/><line x1="555" y1="655.7" x2="555" y2="651.43"/><line x1="555.5" y1="655.7" x2="555.5" y2="652.81"/><line x1="556" y1="655.7" x2="556" y2="654.24"/><line x1="556.5" y1="655.7" x2="556.5" y2="655.42"/><line x1="557" y1="655.7" x2="557" y2="655.58"/><line x1="557.5" y1="655.7" x2="557.5" y2="653.77"/><line x1="558" y1="655.7" x2="558" y2="654.62"/><line x1="558.5" y1="655.7" x2="558.5" y2="654.46"/><line x1="559" y1="655.7" x2="559" y2="654.18"/><line x1="559.5" y1="655.7" x2="559.5" y2="653.13"/><line x1="560" y1="655.7" x2="560" y2="655.66"/><line x1="560.5" y1="655.7" x2="560.5" y2="655.61"/><line x1="561" y1="655.7" x2="561" y2="650.06"/><line x1="561.5" y1="655.7" x2="561.5" y2="651.09"/><line x1="562" y1="655.7" x2="562" y2="643.5"/><line x1="562.5" y1="655.7" x2="562.5" y2="655.61"/><line x1="563" y1="655.7" x2="563" y2="655.53"/><line x1="563.5" y1="655.7" x2="563.5" y2="653.84"/><line x1="564" y1="655.7" x2="564" y2="651.88"/><line x1="564.5" y1="655.7" x2="564.5" y2="648.66"/><line x1="565" y1="655.7" x2="565" y2="655.31"/><line x1="565.5" y1="655.7" x2="565.5" y2="650.08"/><line x1="566" y1="655.7" x2="566" y2="655.47"/><line x1="566.5" y1="655.7" x2="566.5" y2="655.4"/><line x1="567" y1="655.7" x2="567" y2="647.68"/><line x1="567.5" y1="655.7" x2="567.5" y2="649.93"/><line x1="568" y1="655.7" x2="568" y2="648.52"/><line x1="568.5" y1="655.7" x2="568.5" y2="652.6"/><line x1="569" y1="655.7" x2="569" y2="651.09"/><line x1="569.5" y1="655.7" x2="569.5" y2="654.46"/><line x1="570" y1="655.7" x2="570" y2="652.98"/><line x1="570.5" y1="655.7" x2="570.5" y2="646.34"/><line x1="571" y1="655.7" x2="571" y2="644.38"/><line x1="571.5" y1="655.7" x2="571.5" y2="655.47"/><line x1="572" y1="655.7" x2="572" y2="655.2"/><line x1="572.5" y1="655.7" x2="572.5" y2="645.01"/><line x1="573" y1="655.7" x2="573" y2="648.65"/><line x1="573.5" y1="655.7" x2="573.5" y2="645.85"/><line x1="574" y1="655.7" x2="574" y2="654.44"/><line x1="574.5" y1="655.7" x2="574.5" y2="651.89"/><line x1="575" y1="655.7" x2="575" y2="653.98"/><line x1="575.5" y1="655.7" x2="575.5" y2="645"/><line x1="576" y1="655.7" x2="576" y2="652.66"/><line x1="576.5" y1="655.7" x2="576.5" y2="648.1"/><line x1="577" y1="655.7" x2="577" y2="640.96"/><line x1="577.5" y1="655.7" x2="577.5" y2="653.21"/><line x1="578" y1="655.7" x2="578" y2="649.96"/><line x1="578.5" y1="655.7" x2="578.5" y2="646.31"/><line x1="579" y1="655.7" x2="579" y2="642.55"/><line x1="579.5" y1="655.7" x2="579.5" y2="651.85"/><line x1="580" y1="655.7" x2="580" y2="652.65"/><line x1="580.5" y1="655.7" x2="580.5" y2="655.34"/><line x1="581" y1="655.7" x2="581" y2="643.58"/><line x1="581.5" y1="655.7" x2="581.5" y2="655.44"/><line x1="582" y1="655.7" x2="582" y2="655.42"/><line x1="582.5" y1="655.7" x2="582.5" y2="649.7"/><line x1="583" y1="655.7" x2="583" y2="650.99"/><line x1="583.5" y1="655.7" x2="583.5" y2="647.51"/><line x1="584" y1="655.7" x2="584" y2="653.53"/><line x1="584.5" y1="655.7" x2="584.5" y2="652.9"/><line x1="585" y1="655.7" x2="585" y2="655.7"/><line x1="585.5" y1="655.7" x2="585.5" y2="655.64"/><line x1="586" y1="655.7" x2="586" y2="653.96"/><line x1="586.5" y1="655.7" x2="586.5" y2="655.7"/><line x1="587" y1="655.7" x2="587" y2="655.53"/><line x1="587.5" y1="655.7" x2="587.5" y2="653.41"/><line x1="588" y1="655.7" x2="588" y2="653.69"/><line x1="588.5" y1="655.7" x2="588.5" y2="655.56"/><line x1="589" y1="655.7" x2="589" y2="655.68"/><line x1="589.5" y1="655.7" x2="589.5" y2="655.43"/><line x1="590" y1="655.7" x2="590" y2="653.4"/><line x1="590.5" y1="655.7" x2="590.5" y2="655.4"/><line x1="591" y1="655.7" x2="591" y2="655.69"/><line x1="591.5" y1="655.7" x2="591.5" y2="653.56"/><line x1="592" y1="655.7" x2="592" y2="654.59"/><line x1="592.5" y1="655.7" x2="592.5" y2="651.05"/><line x1="593" y1="655.7" x2="593" y2="650.72"/><line x1="593.5" y1="655.7" x2="593.5" y2="651.13"/><line x1="594" y1="655.7" x2="594" y2="655.2"/><line x1="594.5" y1="655.7" x2="594.5" y2="652.59"/><line x1="595" y1="655.7" x2="595" y2="655.53"/><line x1="595.5" y1="655.7" x2="595.5" y2="655.51"/><line x1="596" y1="655.7" x2="596" y2="655.32"/><line x1="596.5" y1="655.7" x2="596.5" y2="650.8"/><line x1="597" y1="655.7" x2="597" y2="651.4"/><line x1="597.5" y1="655.7" x2="597.5" y2="655.61"/><line x1="598" y1="655.7" x2="598" y2="655.42"/><line x1="598.5" y1="655.7" x2="598.5" y2="655.41"/><line x1="599" y1="655.7" x2="599" y2="655.41"/><line x1="599.5" y1="655.7" x2="599.5" y2="655.33"/><line x1="600" y1="655.7" x2="600" y2="655.35"/><line x1="600.5" y1="655.7" x2="600.5" y2="655.7"/><line x1="601" y1="655.7" x2="601" y2="655.4"/><line x1="601.5" y1="655.7" x2="601.5" y2="654.49"/><line x1="602" y1="655.7" x2="602" y2="655.44"/><line x1="602.5" y1="655.7" x2="602.5" y2="654.23"/><line x1="603" y1="655.7" x2="603" y2="655.4"/><line x1="603.5" y1="655.7" x2="603.5" y2="649.2"/><line x1="604" y1="655.7" x2="604" y2="654.7"/><line x1="604.5" y1="655.7" x2="604.5" y2="653.89"/><line x1="605" y1="655.7" x2="605" y2="655.68"/><line x1="605.5" y1="655.7" x2="605.5" y2="655.7"/><line x1="606" y1="655.7" x2="606" y2="655.49"/><line x1="606.5" y1="655.7" x2="606.5" y2="655.44"/><line x1="607" y1="655.7" x2="607" y2="655.39"/><line x1="607.5" y1="655.7" x2="607.5" y2="653.08"/><line x1="608" y1="655.7" x2="608" y2="655.16"/><line x1="608.5" y1="655.7" x2="608.5" y2="654.44"/><line x1="609" y1="655.7" x2="609" y2="655.7"/><line x1="609.5" y1="655.7" x2="609.5" y2="655.43"/><line x1="610" y1="655.7" x2="610" y2="654.54"/><line x1="610.5" y1="655.7" x2="610.5" y2="655.7"/><line x1="611" y1="655.7" x2="611" y2="655.7"/><line x1="611.5" y1="655.7" x2="611.5" y2="654.81"/><line x1="612" y1="655.7" x2="612" y2="653.74"/><line x1="612.5" y1="655.7" x2="612.5" y2="655.7"/><line x1="613" y1="655.7" x2="613" y2="655.21"/><line x1="613.5" y1="655.7" x2="613.5" y2="655.7"/><line x1="614" y1="655.7" x2="614" y2="654.77"/><line x1="614.5" y1="655.7" x2="614.5" y2="655.17"/><line x1="615" y1="655.7" x2="615" y2="655.69"/><line x1="615.5" y1="655.7" x2="615.5" y2="655.69"/><line x1="616" y1="655.7" x2="616" y2="654.67"/></g>
<line x1="533" y1="655.7" x2="616" y2="655.7" stroke="#777" stroke-width="0.8"/>
<text x="532.1" y="640.7" font-size="8" text-anchor="start" fill="#3a3a3a" stroke="#3a3a3a" stroke-width="0.1">PRO-seq</text>
<line x1="531.5" y1="662.3" x2="531.5" y2="680" stroke="#777" stroke-width="0.7"/>
<line x1="529.3" y1="662.3" x2="531.5" y2="662.3" stroke="#777" stroke-width="0.7"/>
<line x1="529.3" y1="680" x2="531.5" y2="680" stroke="#777" stroke-width="0.7"/>
<text x="526" y="664.3" font-size="7.8" text-anchor="end" fill="#3a3a3a" stroke="#3a3a3a" stroke-width="0.1">23</text>
<text x="526" y="681.8" font-size="7.8" text-anchor="end" fill="#3a3a3a" stroke="#3a3a3a" stroke-width="0.1">0</text>
<text x="508.5" y="673.6" font-size="9" text-anchor="end" fill="#3a3a3a" stroke="#3a3a3a" stroke-width="0.1">+IAA</text>
<g stroke="#ee6a6a" stroke-width="0.65"><line x1="533" y1="680" x2="533" y2="679.94"/><line x1="533.5" y1="680" x2="533.5" y2="679.61"/><line x1="534" y1="680" x2="534" y2="679.99"/><line x1="534.5" y1="680" x2="534.5" y2="679.99"/><line x1="535" y1="680" x2="535" y2="678.72"/><line x1="535.5" y1="680" x2="535.5" y2="679.79"/><line x1="536" y1="680" x2="536" y2="679.96"/><line x1="536.5" y1="680" x2="536.5" y2="679.93"/><line x1="537" y1="680" x2="537" y2="679.71"/><line x1="537.5" y1="680" x2="537.5" y2="679.73"/><line x1="538" y1="680" x2="538" y2="679.04"/><line x1="538.5" y1="680" x2="538.5" y2="679.98"/><line x1="539" y1="680" x2="539" y2="679.42"/><line x1="539.5" y1="680" x2="539.5" y2="679.8"/><line x1="540" y1="680" x2="540" y2="678.14"/><line x1="540.5" y1="680" x2="540.5" y2="678.52"/><line x1="541" y1="680" x2="541" y2="678.31"/><line x1="541.5" y1="680" x2="541.5" y2="677.82"/><line x1="542" y1="680" x2="542" y2="677.05"/><line x1="542.5" y1="680" x2="542.5" y2="679.41"/><line x1="543" y1="680" x2="543" y2="679.74"/><line x1="543.5" y1="680" x2="543.5" y2="679.11"/><line x1="544" y1="680" x2="544" y2="678.55"/><line x1="544.5" y1="680" x2="544.5" y2="679.89"/><line x1="545" y1="680" x2="545" y2="679.89"/><line x1="545.5" y1="680" x2="545.5" y2="680"/><line x1="546" y1="680" x2="546" y2="678.94"/><line x1="546.5" y1="680" x2="546.5" y2="676.62"/><line x1="547" y1="680" x2="547" y2="679.93"/><line x1="547.5" y1="680" x2="547.5" y2="680"/><line x1="548" y1="680" x2="548" y2="679.99"/><line x1="548.5" y1="680" x2="548.5" y2="679.89"/><line x1="549" y1="680" x2="549" y2="679.97"/><line x1="549.5" y1="680" x2="549.5" y2="676.9"/><line x1="550" y1="680" x2="550" y2="680"/><line x1="550.5" y1="680" x2="550.5" y2="679.97"/><line x1="551" y1="680" x2="551" y2="680"/><line x1="551.5" y1="680" x2="551.5" y2="679.38"/><line x1="552" y1="680" x2="552" y2="678.73"/><line x1="552.5" y1="680" x2="552.5" y2="680"/><line x1="553" y1="680" x2="553" y2="680"/><line x1="553.5" y1="680" x2="553.5" y2="679.84"/><line x1="554" y1="680" x2="554" y2="678.12"/><line x1="554.5" y1="680" x2="554.5" y2="675.45"/><line x1="555" y1="680" x2="555" y2="679.99"/><line x1="555.5" y1="680" x2="555.5" y2="679.94"/><line x1="556" y1="680" x2="556" y2="679.81"/><line x1="556.5" y1="680" x2="556.5" y2="679.74"/><line x1="557" y1="680" x2="557" y2="679.7"/><line x1="557.5" y1="680" x2="557.5" y2="677.17"/><line x1="558" y1="680" x2="558" y2="678.05"/><line x1="558.5" y1="680" x2="558.5" y2="679.72"/><line x1="559" y1="680" x2="559" y2="679.81"/><line x1="559.5" y1="680" x2="559.5" y2="679.57"/><line x1="560" y1="680" x2="560" y2="679.84"/><line x1="560.5" y1="680" x2="560.5" y2="676.84"/><line x1="561" y1="680" x2="561" y2="679.47"/><line x1="561.5" y1="680" x2="561.5" y2="678.35"/><line x1="562" y1="680" x2="562" y2="676.33"/><line x1="562.5" y1="680" x2="562.5" y2="678.74"/><line x1="563" y1="680" x2="563" y2="679.63"/><line x1="563.5" y1="680" x2="563.5" y2="675.67"/><line x1="564" y1="680" x2="564" y2="675.4"/><line x1="564.5" y1="680" x2="564.5" y2="679.36"/><line x1="565" y1="680" x2="565" y2="678.35"/><line x1="565.5" y1="680" x2="565.5" y2="674.96"/><line x1="566" y1="680" x2="566" y2="678.72"/><line x1="566.5" y1="680" x2="566.5" y2="679.73"/><line x1="567" y1="680" x2="567" y2="679.99"/><line x1="567.5" y1="680" x2="567.5" y2="675.06"/><line x1="568" y1="680" x2="568" y2="676.47"/><line x1="568.5" y1="680" x2="568.5" y2="679.18"/><line x1="569" y1="680" x2="569" y2="678.47"/><line x1="569.5" y1="680" x2="569.5" y2="678.54"/><line x1="570" y1="680" x2="570" y2="679.59"/><line x1="570.5" y1="680" x2="570.5" y2="674.61"/><line x1="571" y1="680" x2="571" y2="677.62"/><line x1="571.5" y1="680" x2="571.5" y2="679.69"/><line x1="572" y1="680" x2="572" y2="663.5"/><line x1="572.5" y1="680" x2="572.5" y2="663.5"/><line x1="573" y1="680" x2="573" y2="679.24"/><line x1="573.5" y1="680" x2="573.5" y2="676.51"/><line x1="574" y1="680" x2="574" y2="677.2"/><line x1="574.5" y1="680" x2="574.5" y2="677.98"/><line x1="575" y1="680" x2="575" y2="679.86"/><line x1="575.5" y1="680" x2="575.5" y2="679.86"/><line x1="576" y1="680" x2="576" y2="679.43"/><line x1="576.5" y1="680" x2="576.5" y2="679.63"/><line x1="577" y1="680" x2="577" y2="675.84"/><line x1="577.5" y1="680" x2="577.5" y2="678.53"/><line x1="578" y1="680" x2="578" y2="677.77"/><line x1="578.5" y1="680" x2="578.5" y2="674.58"/><line x1="579" y1="680" x2="579" y2="679.61"/><line x1="579.5" y1="680" x2="579.5" y2="678.43"/><line x1="580" y1="680" x2="580" y2="679.88"/><line x1="580.5" y1="680" x2="580.5" y2="676.74"/><line x1="581" y1="680" x2="581" y2="680"/><line x1="581.5" y1="680" x2="581.5" y2="676.29"/><line x1="582" y1="680" x2="582" y2="676.06"/><line x1="582.5" y1="680" x2="582.5" y2="676.28"/><line x1="583" y1="680" x2="583" y2="679.96"/><line x1="583.5" y1="680" x2="583.5" y2="679.6"/><line x1="584" y1="680" x2="584" y2="677.18"/><line x1="584.5" y1="680" x2="584.5" y2="679.95"/><line x1="585" y1="680" x2="585" y2="678.73"/><line x1="585.5" y1="680" x2="585.5" y2="678.79"/><line x1="586" y1="680" x2="586" y2="674.98"/><line x1="586.5" y1="680" x2="586.5" y2="678.11"/><line x1="587" y1="680" x2="587" y2="675.96"/><line x1="587.5" y1="680" x2="587.5" y2="679.49"/><line x1="588" y1="680" x2="588" y2="676.57"/><line x1="588.5" y1="680" x2="588.5" y2="679.04"/><line x1="589" y1="680" x2="589" y2="675.38"/><line x1="589.5" y1="680" x2="589.5" y2="679.95"/><line x1="590" y1="680" x2="590" y2="676.24"/><line x1="590.5" y1="680" x2="590.5" y2="679.99"/><line x1="591" y1="680" x2="591" y2="679.69"/><line x1="591.5" y1="680" x2="591.5" y2="679.73"/><line x1="592" y1="680" x2="592" y2="680"/><line x1="592.5" y1="680" x2="592.5" y2="678.32"/><line x1="593" y1="680" x2="593" y2="679.97"/><line x1="593.5" y1="680" x2="593.5" y2="679.97"/><line x1="594" y1="680" x2="594" y2="680"/><line x1="594.5" y1="680" x2="594.5" y2="679.97"/><line x1="595" y1="680" x2="595" y2="679.83"/><line x1="595.5" y1="680" x2="595.5" y2="679.08"/><line x1="596" y1="680" x2="596" y2="679.94"/><line x1="596.5" y1="680" x2="596.5" y2="679.22"/><line x1="597" y1="680" x2="597" y2="680"/><line x1="597.5" y1="680" x2="597.5" y2="679.92"/><line x1="598" y1="680" x2="598" y2="679.84"/><line x1="598.5" y1="680" x2="598.5" y2="676.94"/><line x1="599" y1="680" x2="599" y2="678.34"/><line x1="599.5" y1="680" x2="599.5" y2="679.36"/><line x1="600" y1="680" x2="600" y2="680"/><line x1="600.5" y1="680" x2="600.5" y2="679.93"/><line x1="601" y1="680" x2="601" y2="679.11"/><line x1="601.5" y1="680" x2="601.5" y2="679.99"/><line x1="602" y1="680" x2="602" y2="679.65"/><line x1="602.5" y1="680" x2="602.5" y2="679.85"/><line x1="603" y1="680" x2="603" y2="680"/><line x1="603.5" y1="680" x2="603.5" y2="676.62"/><line x1="604" y1="680" x2="604" y2="678.57"/><line x1="604.5" y1="680" x2="604.5" y2="679.99"/><line x1="605" y1="680" x2="605" y2="679.5"/><line x1="605.5" y1="680" x2="605.5" y2="679.98"/><line x1="606" y1="680" x2="606" y2="679.93"/><line x1="606.5" y1="680" x2="606.5" y2="679.7"/><line x1="607" y1="680" x2="607" y2="679.97"/><line x1="607.5" y1="680" x2="607.5" y2="679.95"/><line x1="608" y1="680" x2="608" y2="679.92"/><line x1="608.5" y1="680" x2="608.5" y2="679.31"/><line x1="609" y1="680" x2="609" y2="679.98"/><line x1="609.5" y1="680" x2="609.5" y2="679.99"/><line x1="610" y1="680" x2="610" y2="679"/><line x1="610.5" y1="680" x2="610.5" y2="679.96"/><line x1="611" y1="680" x2="611" y2="677.21"/><line x1="611.5" y1="680" x2="611.5" y2="679.65"/><line x1="612" y1="680" x2="612" y2="679.04"/><line x1="612.5" y1="680" x2="612.5" y2="679.99"/><line x1="613" y1="680" x2="613" y2="679.42"/><line x1="613.5" y1="680" x2="613.5" y2="680"/><line x1="614" y1="680" x2="614" y2="680"/><line x1="614.5" y1="680" x2="614.5" y2="680"/><line x1="615" y1="680" x2="615" y2="679.79"/><line x1="615.5" y1="680" x2="615.5" y2="679.73"/><line x1="616" y1="680" x2="616" y2="680"/></g>
<line x1="533" y1="680" x2="616" y2="680" stroke="#e05555" stroke-width="0.8"/>
<line x1="570.1" y1="694" x2="616" y2="694" stroke="#666" stroke-width="0.6"/>
<path d="M570.1,694.5 L570.1,687.5 L576,687.5" fill="none" stroke="#444" stroke-width="0.7"/>
<path d="M578,687.5 L575,685.8 L575,689.2 Z" fill="#444"/>
<path d="M573,692.9 L574.1,694 L573,695.1" fill="none" stroke="#777" stroke-width="0.4"/>
<path d="M576.5,692.9 L577.6,694 L576.5,695.1" fill="none" stroke="#777" stroke-width="0.4"/>
<path d="M580,692.9 L581.1,694 L580,695.1" fill="none" stroke="#777" stroke-width="0.4"/>
<path d="M583.5,692.9 L584.6,694 L583.5,695.1" fill="none" stroke="#777" stroke-width="0.4"/>
<path d="M592.5,692.9 L593.6,694 L592.5,695.1" fill="none" stroke="#777" stroke-width="0.4"/>
<path d="M602.5,692.9 L603.6,694 L602.5,695.1" fill="none" stroke="#777" stroke-width="0.4"/>
<rect x="586.9" y="690.8" width="0.9" height="6.8" fill="#5c5c5c" stroke="none" stroke-width="0"/>
<rect x="588.4" y="690.8" width="0.9" height="6.8" fill="#5c5c5c" stroke="none" stroke-width="0"/>
<rect x="597" y="690.8" width="2.5" height="6.8" fill="#5c5c5c" stroke="none" stroke-width="0"/>
<rect x="606.7" y="690.8" width="4.9" height="6.8" fill="#5c5c5c" stroke="none" stroke-width="0"/>
<rect x="612.2" y="690.8" width="3.3" height="6.8" fill="#5c5c5c" stroke="none" stroke-width="0"/>
<path d="M612.2,690.8 L614,690.8 Q615.6,690.8 615.6,694 Q615.6,697.6 614,697.6 L612.2,697.6 Z" fill="#5c5c5c"/>
<text x="593" y="707.3" font-size="9" text-anchor="middle" fill="#3a3a3a" stroke="#3a3a3a" stroke-width="0.1">Rpl10</text>
<text x="627" y="563.3" font-size="13.5" text-anchor="start" fill="#111" font-weight="bold">j</text>
<line x1="658.8" y1="594.9" x2="658.8" y2="670.1" stroke="#777" stroke-width="0.7"/>
<line x1="656.6" y1="595.55" x2="658.8" y2="595.55" stroke="#777" stroke-width="0.7"/>
<text x="653.5" y="598.35" font-size="7.8" text-anchor="end" fill="#3a3a3a" stroke="#3a3a3a" stroke-width="0.1">15</text>
<line x1="656.6" y1="620.4" x2="658.8" y2="620.4" stroke="#777" stroke-width="0.7"/>
<text x="653.5" y="623.2" font-size="7.8" text-anchor="end" fill="#3a3a3a" stroke="#3a3a3a" stroke-width="0.1">10</text>
<line x1="656.6" y1="645.25" x2="658.8" y2="645.25" stroke="#777" stroke-width="0.7"/>
<text x="653.5" y="648.05" font-size="7.8" text-anchor="end" fill="#3a3a3a" stroke="#3a3a3a" stroke-width="0.1">5</text>
<line x1="656.6" y1="670.1" x2="658.8" y2="670.1" stroke="#777" stroke-width="0.7"/>
<text x="653.5" y="672.9" font-size="7.8" text-anchor="end" fill="#3a3a3a" stroke="#3a3a3a" stroke-width="0.1">0</text>
<rect x="662.7" y="588.1" width="10.7" height="82" fill="#a8d4ad" stroke="none" stroke-width="0"/>
<rect x="675.7" y="647.3" width="10.5" height="22.8" fill="#7c9ed8" stroke="none" stroke-width="0"/>
<rect x="688.5" y="664" width="10.9" height="6.1" fill="#fad48c" stroke="none" stroke-width="0"/>
<line x1="658.8" y1="660.3" x2="700.5" y2="660.3" stroke="#444" stroke-width="0.7" stroke-dasharray="2,1.6"/>
<text x="635.3" y="633" font-size="9.2" text-anchor="middle" fill="#3a3a3a" transform="rotate(-90 635.3 633)">Enrichment <tspan font-style="italic">P</tspan> (−log<tspan font-size="5.8" dy="1.8">10</tspan><tspan dy="-1.8">)</tspan></text>
<text x="671" y="679.5" font-size="9.2" text-anchor="end" fill="#3a3a3a" stroke="#3a3a3a" stroke-width="0.1" transform="rotate(-45 671 679.5)">Activator</text>
<text x="685.8" y="680.5" font-size="9.2" text-anchor="end" fill="#3a3a3a" stroke="#3a3a3a" stroke-width="0.1" transform="rotate(-45 685.8 680.5)">Repressor</text>
<text x="694.5" y="684.5" font-size="9.2" text-anchor="end" fill="#3a3a3a" stroke="#3a3a3a" stroke-width="0.1" transform="rotate(-45 694.5 684.5)">PTGR</text>
</svg></body></html>
